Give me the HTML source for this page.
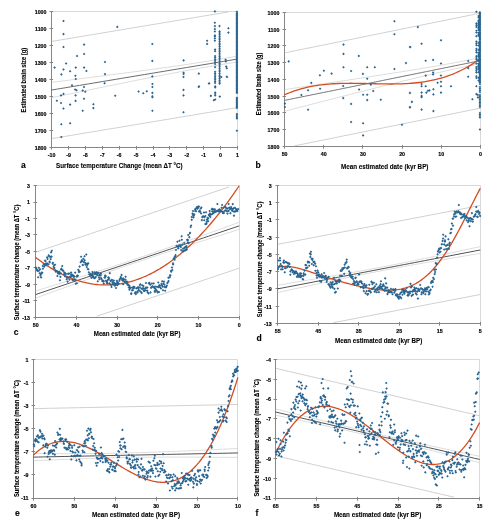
<!DOCTYPE html>
<html><head><meta charset="utf-8"><title>Figure</title>
<style>html,body{margin:0;padding:0;background:#fff;}svg{display:block;}</style></head>
<body><svg width="496" height="530" viewBox="0 0 496 530" font-family="'Liberation Sans', Arial, sans-serif" fill="#000">
<rect width="496" height="530" fill="#fff"/>
<path d="M51.5 11.5H237.5V147.5" fill="none" stroke="#d9d9d9" stroke-width="1"/>
<path d="M51.5 11.5V147.5H237.5" fill="none" stroke="#868686" stroke-width="1"/>
<text x="46.5" y="13.8" font-size="5.3" text-anchor="end" font-weight="bold" stroke="#000" stroke-width="0.15">1000</text>
<text x="46.5" y="30.76" font-size="5.3" text-anchor="end" font-weight="bold" stroke="#000" stroke-width="0.15">1100</text>
<text x="46.5" y="47.72" font-size="5.3" text-anchor="end" font-weight="bold" stroke="#000" stroke-width="0.15">1200</text>
<text x="46.5" y="64.69" font-size="5.3" text-anchor="end" font-weight="bold" stroke="#000" stroke-width="0.15">1300</text>
<text x="46.5" y="81.65" font-size="5.3" text-anchor="end" font-weight="bold" stroke="#000" stroke-width="0.15">1400</text>
<text x="46.5" y="98.61" font-size="5.3" text-anchor="end" font-weight="bold" stroke="#000" stroke-width="0.15">1500</text>
<text x="46.5" y="115.58" font-size="5.3" text-anchor="end" font-weight="bold" stroke="#000" stroke-width="0.15">1600</text>
<text x="46.5" y="132.54" font-size="5.3" text-anchor="end" font-weight="bold" stroke="#000" stroke-width="0.15">1700</text>
<text x="46.5" y="149.5" font-size="5.3" text-anchor="end" font-weight="bold" stroke="#000" stroke-width="0.15">1800</text>
<text x="51.6" y="157.2" font-size="5.3" text-anchor="middle" font-weight="bold" stroke="#000" stroke-width="0.15">-10</text>
<text x="68.5" y="157.2" font-size="5.3" text-anchor="middle" font-weight="bold" stroke="#000" stroke-width="0.15">-9</text>
<text x="85.4" y="157.2" font-size="5.3" text-anchor="middle" font-weight="bold" stroke="#000" stroke-width="0.15">-8</text>
<text x="102.3" y="157.2" font-size="5.3" text-anchor="middle" font-weight="bold" stroke="#000" stroke-width="0.15">-7</text>
<text x="119.2" y="157.2" font-size="5.3" text-anchor="middle" font-weight="bold" stroke="#000" stroke-width="0.15">-6</text>
<text x="136.1" y="157.2" font-size="5.3" text-anchor="middle" font-weight="bold" stroke="#000" stroke-width="0.15">-5</text>
<text x="153" y="157.2" font-size="5.3" text-anchor="middle" font-weight="bold" stroke="#000" stroke-width="0.15">-4</text>
<text x="169.9" y="157.2" font-size="5.3" text-anchor="middle" font-weight="bold" stroke="#000" stroke-width="0.15">-3</text>
<text x="186.8" y="157.2" font-size="5.3" text-anchor="middle" font-weight="bold" stroke="#000" stroke-width="0.15">-2</text>
<text x="203.7" y="157.2" font-size="5.3" text-anchor="middle" font-weight="bold" stroke="#000" stroke-width="0.15">-1</text>
<text x="220.6" y="157.2" font-size="5.3" text-anchor="middle" font-weight="bold" stroke="#000" stroke-width="0.15">0</text>
<text x="237.5" y="157.2" font-size="5.3" text-anchor="middle" font-weight="bold" stroke="#000" stroke-width="0.15">1</text>
<path d="M49.5 11.5H53.1M49.5 28.5H53.1M49.5 45.5H53.1M49.5 62.5H53.1M49.5 79.5H53.1M49.5 96.5H53.1M49.5 113.5H53.1M49.5 130.5H53.1M49.5 147.5H53.1M51.5 145.9V149.7M68.5 145.9V149.7M85.5 145.9V149.7M102.5 145.9V149.7M119.5 145.9V149.7M136.5 145.9V149.7M153.5 145.9V149.7M169.5 145.9V149.7M186.5 145.9V149.7M203.5 145.9V149.7M220.5 145.9V149.7M237.5 145.9V149.7" stroke="#868686" stroke-width="1"/>
<path d="M284.5 12.5H480.5V146.5" fill="none" stroke="#d9d9d9" stroke-width="1"/>
<path d="M284.5 12.5V146.5H480.5" fill="none" stroke="#868686" stroke-width="1"/>
<text x="279.4" y="14.9" font-size="5.3" text-anchor="end" font-weight="bold" stroke="#000" stroke-width="0.15">1000</text>
<text x="279.4" y="31.62" font-size="5.3" text-anchor="end" font-weight="bold" stroke="#000" stroke-width="0.15">1100</text>
<text x="279.4" y="48.35" font-size="5.3" text-anchor="end" font-weight="bold" stroke="#000" stroke-width="0.15">1200</text>
<text x="279.4" y="65.08" font-size="5.3" text-anchor="end" font-weight="bold" stroke="#000" stroke-width="0.15">1300</text>
<text x="279.4" y="81.8" font-size="5.3" text-anchor="end" font-weight="bold" stroke="#000" stroke-width="0.15">1400</text>
<text x="279.4" y="98.53" font-size="5.3" text-anchor="end" font-weight="bold" stroke="#000" stroke-width="0.15">1500</text>
<text x="279.4" y="115.25" font-size="5.3" text-anchor="end" font-weight="bold" stroke="#000" stroke-width="0.15">1600</text>
<text x="279.4" y="131.98" font-size="5.3" text-anchor="end" font-weight="bold" stroke="#000" stroke-width="0.15">1700</text>
<text x="279.4" y="148.7" font-size="5.3" text-anchor="end" font-weight="bold" stroke="#000" stroke-width="0.15">1800</text>
<text x="284.6" y="155.7" font-size="5.3" text-anchor="middle" font-weight="bold" stroke="#000" stroke-width="0.15">50</text>
<text x="323.76" y="155.7" font-size="5.3" text-anchor="middle" font-weight="bold" stroke="#000" stroke-width="0.15">40</text>
<text x="362.92" y="155.7" font-size="5.3" text-anchor="middle" font-weight="bold" stroke="#000" stroke-width="0.15">30</text>
<text x="402.08" y="155.7" font-size="5.3" text-anchor="middle" font-weight="bold" stroke="#000" stroke-width="0.15">20</text>
<text x="441.24" y="155.7" font-size="5.3" text-anchor="middle" font-weight="bold" stroke="#000" stroke-width="0.15">10</text>
<text x="480.4" y="155.7" font-size="5.3" text-anchor="middle" font-weight="bold" stroke="#000" stroke-width="0.15">0</text>
<path d="M282.5 12.5H286.1M282.5 29.5H286.1M282.5 45.5H286.1M282.5 62.5H286.1M282.5 79.5H286.1M282.5 96.5H286.1M282.5 112.5H286.1M282.5 129.5H286.1M282.5 146.5H286.1M284.5 144.9V148.7M323.5 144.9V148.7M362.5 144.9V148.7M402.5 144.9V148.7M441.5 144.9V148.7M480.5 144.9V148.7" stroke="#868686" stroke-width="1"/>
<path d="M35.5 185.5H239.5V317.5" fill="none" stroke="#d9d9d9" stroke-width="1"/>
<path d="M35.5 185.5V317.5H239.5" fill="none" stroke="#868686" stroke-width="1"/>
<text x="30" y="188" font-size="5.3" text-anchor="end" font-weight="bold" stroke="#000" stroke-width="0.15">3</text>
<text x="30" y="204.45" font-size="5.3" text-anchor="end" font-weight="bold" stroke="#000" stroke-width="0.15">1</text>
<text x="30" y="220.9" font-size="5.3" text-anchor="end" font-weight="bold" stroke="#000" stroke-width="0.15">-1</text>
<text x="30" y="237.35" font-size="5.3" text-anchor="end" font-weight="bold" stroke="#000" stroke-width="0.15">-3</text>
<text x="30" y="253.8" font-size="5.3" text-anchor="end" font-weight="bold" stroke="#000" stroke-width="0.15">-5</text>
<text x="30" y="270.25" font-size="5.3" text-anchor="end" font-weight="bold" stroke="#000" stroke-width="0.15">-7</text>
<text x="30" y="286.7" font-size="5.3" text-anchor="end" font-weight="bold" stroke="#000" stroke-width="0.15">-9</text>
<text x="30" y="303.15" font-size="5.3" text-anchor="end" font-weight="bold" stroke="#000" stroke-width="0.15">-11</text>
<text x="30" y="319.6" font-size="5.3" text-anchor="end" font-weight="bold" stroke="#000" stroke-width="0.15">-13</text>
<text x="35.7" y="327" font-size="5.3" text-anchor="middle" font-weight="bold" stroke="#000" stroke-width="0.15">50</text>
<text x="76.4" y="327" font-size="5.3" text-anchor="middle" font-weight="bold" stroke="#000" stroke-width="0.15">40</text>
<text x="117.1" y="327" font-size="5.3" text-anchor="middle" font-weight="bold" stroke="#000" stroke-width="0.15">30</text>
<text x="157.8" y="327" font-size="5.3" text-anchor="middle" font-weight="bold" stroke="#000" stroke-width="0.15">20</text>
<text x="198.5" y="327" font-size="5.3" text-anchor="middle" font-weight="bold" stroke="#000" stroke-width="0.15">10</text>
<text x="239.2" y="327" font-size="5.3" text-anchor="middle" font-weight="bold" stroke="#000" stroke-width="0.15">0</text>
<path d="M33.5 185.5H37.1M33.5 202.5H37.1M33.5 218.5H37.1M33.5 234.5H37.1M33.5 251.5H37.1M33.5 267.5H37.1M33.5 284.5H37.1M33.5 300.5H37.1M33.5 317.5H37.1M35.5 315.9V319.7M76.5 315.9V319.7M117.5 315.9V319.7M157.5 315.9V319.7M198.5 315.9V319.7M239.5 315.9V319.7" stroke="#868686" stroke-width="1"/>
<path d="M277.5 185.5H480.5V323.5" fill="none" stroke="#d9d9d9" stroke-width="1"/>
<path d="M277.5 185.5V323.5H480.5" fill="none" stroke="#868686" stroke-width="1"/>
<text x="271.6" y="187.8" font-size="5.3" text-anchor="end" font-weight="bold" stroke="#000" stroke-width="0.15">3</text>
<text x="271.6" y="205.06" font-size="5.3" text-anchor="end" font-weight="bold" stroke="#000" stroke-width="0.15">1</text>
<text x="271.6" y="222.33" font-size="5.3" text-anchor="end" font-weight="bold" stroke="#000" stroke-width="0.15">-1</text>
<text x="271.6" y="239.59" font-size="5.3" text-anchor="end" font-weight="bold" stroke="#000" stroke-width="0.15">-3</text>
<text x="271.6" y="256.85" font-size="5.3" text-anchor="end" font-weight="bold" stroke="#000" stroke-width="0.15">-5</text>
<text x="271.6" y="274.11" font-size="5.3" text-anchor="end" font-weight="bold" stroke="#000" stroke-width="0.15">-7</text>
<text x="271.6" y="291.38" font-size="5.3" text-anchor="end" font-weight="bold" stroke="#000" stroke-width="0.15">-9</text>
<text x="271.6" y="308.64" font-size="5.3" text-anchor="end" font-weight="bold" stroke="#000" stroke-width="0.15">-11</text>
<text x="271.6" y="325.9" font-size="5.3" text-anchor="end" font-weight="bold" stroke="#000" stroke-width="0.15">-13</text>
<text x="277.75" y="333.4" font-size="5.3" text-anchor="middle" font-weight="bold" stroke="#000" stroke-width="0.15">55</text>
<text x="318.25" y="333.4" font-size="5.3" text-anchor="middle" font-weight="bold" stroke="#000" stroke-width="0.15">45</text>
<text x="358.75" y="333.4" font-size="5.3" text-anchor="middle" font-weight="bold" stroke="#000" stroke-width="0.15">35</text>
<text x="399.25" y="333.4" font-size="5.3" text-anchor="middle" font-weight="bold" stroke="#000" stroke-width="0.15">25</text>
<text x="439.75" y="333.4" font-size="5.3" text-anchor="middle" font-weight="bold" stroke="#000" stroke-width="0.15">15</text>
<text x="480.25" y="333.4" font-size="5.3" text-anchor="middle" font-weight="bold" stroke="#000" stroke-width="0.15">5</text>
<path d="M275.5 185.5H279.1M275.5 202.5H279.1M275.5 219.5H279.1M275.5 237.5H279.1M275.5 254.5H279.1M275.5 271.5H279.1M275.5 288.5H279.1M275.5 306.5H279.1M275.5 323.5H279.1M277.5 321.9V325.7M318.5 321.9V325.7M358.5 321.9V325.7M399.5 321.9V325.7M439.5 321.9V325.7M480.5 321.9V325.7" stroke="#868686" stroke-width="1"/>
<path d="M33.5 359.5H237.5V498.5" fill="none" stroke="#d9d9d9" stroke-width="1"/>
<path d="M33.5 359.5V498.5H237.5" fill="none" stroke="#868686" stroke-width="1"/>
<text x="28.5" y="361.8" font-size="5.3" text-anchor="end" font-weight="bold" stroke="#000" stroke-width="0.15">1</text>
<text x="28.5" y="384.9" font-size="5.3" text-anchor="end" font-weight="bold" stroke="#000" stroke-width="0.15">-1</text>
<text x="28.5" y="408" font-size="5.3" text-anchor="end" font-weight="bold" stroke="#000" stroke-width="0.15">-3</text>
<text x="28.5" y="431.1" font-size="5.3" text-anchor="end" font-weight="bold" stroke="#000" stroke-width="0.15">-5</text>
<text x="28.5" y="454.2" font-size="5.3" text-anchor="end" font-weight="bold" stroke="#000" stroke-width="0.15">-7</text>
<text x="28.5" y="477.3" font-size="5.3" text-anchor="end" font-weight="bold" stroke="#000" stroke-width="0.15">-9</text>
<text x="28.5" y="500.4" font-size="5.3" text-anchor="end" font-weight="bold" stroke="#000" stroke-width="0.15">-11</text>
<text x="33.5" y="508.3" font-size="5.3" text-anchor="middle" font-weight="bold" stroke="#000" stroke-width="0.15">60</text>
<text x="74.38" y="508.3" font-size="5.3" text-anchor="middle" font-weight="bold" stroke="#000" stroke-width="0.15">50</text>
<text x="115.26" y="508.3" font-size="5.3" text-anchor="middle" font-weight="bold" stroke="#000" stroke-width="0.15">40</text>
<text x="156.14" y="508.3" font-size="5.3" text-anchor="middle" font-weight="bold" stroke="#000" stroke-width="0.15">30</text>
<text x="197.02" y="508.3" font-size="5.3" text-anchor="middle" font-weight="bold" stroke="#000" stroke-width="0.15">20</text>
<text x="237.9" y="508.3" font-size="5.3" text-anchor="middle" font-weight="bold" stroke="#000" stroke-width="0.15">10</text>
<path d="M31.5 359.5H35.1M31.5 382.5H35.1M31.5 405.5H35.1M31.5 428.5H35.1M31.5 451.5H35.1M31.5 474.5H35.1M31.5 498.5H35.1M33.5 496.9V500.7M74.5 496.9V500.7M115.5 496.9V500.7M156.5 496.9V500.7M197.5 496.9V500.7M237.5 496.9V500.7" stroke="#868686" stroke-width="1"/>
<path d="M275.5 359.5H479.5V498.5" fill="none" stroke="#d9d9d9" stroke-width="1"/>
<path d="M275.5 359.5V498.5H479.5" fill="none" stroke="#868686" stroke-width="1"/>
<text x="270.9" y="361.8" font-size="5.3" text-anchor="end" font-weight="bold" stroke="#000" stroke-width="0.15">-4</text>
<text x="270.9" y="381.6" font-size="5.3" text-anchor="end" font-weight="bold" stroke="#000" stroke-width="0.15">-5</text>
<text x="270.9" y="401.4" font-size="5.3" text-anchor="end" font-weight="bold" stroke="#000" stroke-width="0.15">-6</text>
<text x="270.9" y="421.2" font-size="5.3" text-anchor="end" font-weight="bold" stroke="#000" stroke-width="0.15">-7</text>
<text x="270.9" y="441" font-size="5.3" text-anchor="end" font-weight="bold" stroke="#000" stroke-width="0.15">-8</text>
<text x="270.9" y="460.8" font-size="5.3" text-anchor="end" font-weight="bold" stroke="#000" stroke-width="0.15">-9</text>
<text x="270.9" y="480.6" font-size="5.3" text-anchor="end" font-weight="bold" stroke="#000" stroke-width="0.15">-10</text>
<text x="270.9" y="500.4" font-size="5.3" text-anchor="end" font-weight="bold" stroke="#000" stroke-width="0.15">-11</text>
<text x="275.75" y="508.3" font-size="5.3" text-anchor="middle" font-weight="bold" stroke="#000" stroke-width="0.15">65</text>
<text x="316.52" y="508.3" font-size="5.3" text-anchor="middle" font-weight="bold" stroke="#000" stroke-width="0.15">55</text>
<text x="357.29" y="508.3" font-size="5.3" text-anchor="middle" font-weight="bold" stroke="#000" stroke-width="0.15">45</text>
<text x="398.06" y="508.3" font-size="5.3" text-anchor="middle" font-weight="bold" stroke="#000" stroke-width="0.15">35</text>
<text x="438.83" y="508.3" font-size="5.3" text-anchor="middle" font-weight="bold" stroke="#000" stroke-width="0.15">25</text>
<text x="479.6" y="508.3" font-size="5.3" text-anchor="middle" font-weight="bold" stroke="#000" stroke-width="0.15">15</text>
<path d="M273.5 359.5H277.1M273.5 379.5H277.1M273.5 399.5H277.1M273.5 418.5H277.1M273.5 438.5H277.1M273.5 458.5H277.1M273.5 478.5H277.1M273.5 498.5H277.1M275.5 496.9V500.7M316.5 496.9V500.7M357.5 496.9V500.7M398.5 496.9V500.7M438.5 496.9V500.7M479.5 496.9V500.7" stroke="#868686" stroke-width="1"/>
<text x="26.1" y="80.2" font-size="6.4" text-anchor="middle" font-weight="bold" transform="rotate(-90 26.1 80.2)" textLength="64.5" lengthAdjust="spacingAndGlyphs" stroke="#000" stroke-width="0.1">Estimated brain size (g)</text>
<text x="260.9" y="84" font-size="6.4" text-anchor="middle" font-weight="bold" transform="rotate(-90 260.9 84)" textLength="62.5" lengthAdjust="spacingAndGlyphs" stroke="#000" stroke-width="0.1">Estimated brain size (g)</text>
<text x="18.9" y="262.4" font-size="6.4" text-anchor="middle" font-weight="bold" transform="rotate(-90 18.9 262.4)" textLength="115.5" lengthAdjust="spacingAndGlyphs" stroke="#000" stroke-width="0.1">Surface temperature change (mean ΔT °C)</text>
<text x="261.8" y="259.4" font-size="6.4" text-anchor="middle" font-weight="bold" transform="rotate(-90 261.8 259.4)" textLength="115.5" lengthAdjust="spacingAndGlyphs" stroke="#000" stroke-width="0.1">Surface temperature change (mean ΔT °C)</text>
<text x="19.5" y="438.6" font-size="6.4" text-anchor="middle" font-weight="bold" transform="rotate(-90 19.5 438.6)" textLength="117.0" lengthAdjust="spacingAndGlyphs" stroke="#000" stroke-width="0.1">Surface temperature change (mean ΔT °C)</text>
<text x="259.2" y="437.7" font-size="6.4" text-anchor="middle" font-weight="bold" transform="rotate(-90 259.2 437.7)" textLength="117.5" lengthAdjust="spacingAndGlyphs" stroke="#000" stroke-width="0.1">Surface temperature change (mean ΔT °C)</text>
<text x="56" y="168.18" font-size="6.9" text-anchor="start" font-weight="bold" textLength="126.7" lengthAdjust="spacingAndGlyphs" stroke="#000" stroke-width="0.1">Surface temperature Change (mean ΔT °C)</text>
<text x="341.1" y="168.68" font-size="6.9" text-anchor="start" font-weight="bold" textLength="87.3" lengthAdjust="spacingAndGlyphs" stroke="#000" stroke-width="0.1">Mean estimated date (kyr BP)</text>
<text x="93.7" y="335.98" font-size="6.9" text-anchor="start" font-weight="bold" textLength="86.9" lengthAdjust="spacingAndGlyphs" stroke="#000" stroke-width="0.1">Mean estimated date (kyr BP)</text>
<text x="335.1" y="342.68" font-size="6.9" text-anchor="start" font-weight="bold" textLength="87.2" lengthAdjust="spacingAndGlyphs" stroke="#000" stroke-width="0.1">Mean estimated date (kyr BP)</text>
<text x="91.9" y="516.68" font-size="6.9" text-anchor="start" font-weight="bold" textLength="88.1" lengthAdjust="spacingAndGlyphs" stroke="#000" stroke-width="0.1">Mean estimated date (kyr BP)</text>
<text x="333.9" y="516.68" font-size="6.9" text-anchor="start" font-weight="bold" textLength="87.5" lengthAdjust="spacingAndGlyphs" stroke="#000" stroke-width="0.1">Mean estimated date (kyr BP)</text>
<text x="21" y="167.75" font-size="8.6" text-anchor="start" font-weight="bold" stroke="#000" stroke-width="0.1">a</text>
<text x="255.6" y="167.75" font-size="8.6" text-anchor="start" font-weight="bold" stroke="#000" stroke-width="0.1">b</text>
<text x="13.8" y="335" font-size="8.6" text-anchor="start" font-weight="bold" stroke="#000" stroke-width="0.1">c</text>
<text x="256.6" y="341" font-size="8.6" text-anchor="start" font-weight="bold" stroke="#000" stroke-width="0.1">d</text>
<text x="15" y="516" font-size="8.6" text-anchor="start" font-weight="bold" stroke="#000" stroke-width="0.1">e</text>
<text x="255.4" y="515.6" font-size="8.6" text-anchor="start" font-weight="bold" stroke="#000" stroke-width="0.1">f</text>
<path d="M51.6 41.43 L56.25 40.66 L60.9 39.88 L65.54 39.11 L70.19 38.33 L74.84 37.56 L79.48 36.78 L84.13 36.01 L88.78 35.24 L93.43 34.46 L98.08 33.69 L102.72 32.91 L107.37 32.14 L112.02 31.36 L116.66 30.59 L121.31 29.81 L125.96 29.04 L130.61 28.26 L135.25 27.49 L139.9 26.71 L144.55 25.94 L149.2 25.16 L153.84 24.39 L158.49 23.61 L163.14 22.84 L167.79 22.06 L172.44 21.29 L177.08 20.52 L181.73 19.74 L186.38 18.97 L191.03 18.19 L195.67 17.42 L200.32 16.64 L204.97 15.87 L209.62 15.09 L214.26 14.32 L218.91 13.54 L223.56 12.77 L228.2 11.99" fill="none" stroke="#c0c0c0" stroke-width="0.75"/>
<path d="M51.6 138.63 L56.25 137.86 L60.9 137.08 L65.54 136.31 L70.19 135.53 L74.84 134.76 L79.48 133.98 L84.13 133.21 L88.78 132.44 L93.43 131.66 L98.08 130.89 L102.72 130.11 L107.37 129.34 L112.02 128.56 L116.66 127.79 L121.31 127.01 L125.96 126.24 L130.61 125.46 L135.25 124.69 L139.9 123.91 L144.55 123.14 L149.2 122.36 L153.84 121.59 L158.49 120.81 L163.14 120.04 L167.79 119.26 L172.44 118.49 L177.08 117.72 L181.73 116.94 L186.38 116.17 L191.03 115.39 L195.67 114.62 L200.32 113.84 L204.97 113.07 L209.62 112.29 L214.26 111.52 L218.91 110.74 L223.56 109.97 L228.2 109.19 L232.85 108.42 L237.5 107.64" fill="none" stroke="#c0c0c0" stroke-width="0.75"/>
<path d="M51.6 82.39 L56.25 81.81 L60.9 81.22 L65.54 80.63 L70.19 80.04 L74.84 79.45 L79.48 78.86 L84.13 78.27 L88.78 77.67 L93.43 77.08 L98.08 76.48 L102.72 75.88 L107.37 75.28 L112.02 74.68 L116.66 74.07 L121.31 73.47 L125.96 72.86 L130.61 72.25 L135.25 71.63 L139.9 71.01 L144.55 70.39 L149.2 69.76 L153.84 69.13 L158.49 68.49 L163.14 67.84 L167.79 67.19 L172.44 66.53 L177.08 65.87 L181.73 65.19 L186.38 64.5 L191.03 63.8 L195.67 63.09 L200.32 62.37 L204.97 61.63 L209.62 60.88 L214.26 60.12 L218.91 59.34 L223.56 58.54 L228.2 57.73 L232.85 56.91 L237.5 56.08" fill="none" stroke="#cfcfcf" stroke-width="0.7"/>
<path d="M51.6 97.67 L56.25 96.71 L60.9 95.75 L65.54 94.79 L70.19 93.83 L74.84 92.87 L79.48 91.91 L84.13 90.95 L88.78 90 L93.43 89.04 L98.08 88.09 L102.72 87.14 L107.37 86.19 L112.02 85.24 L116.66 84.3 L121.31 83.36 L125.96 82.42 L130.61 81.48 L135.25 80.55 L139.9 79.62 L144.55 78.69 L149.2 77.77 L153.84 76.85 L158.49 75.94 L163.14 75.04 L167.79 74.14 L172.44 73.25 L177.08 72.37 L181.73 71.49 L186.38 70.63 L191.03 69.78 L195.67 68.94 L200.32 68.11 L204.97 67.3 L209.62 66.5 L214.26 65.72 L218.91 64.95 L223.56 64.19 L228.2 63.45 L232.85 62.72 L237.5 62.01" fill="none" stroke="#cfcfcf" stroke-width="0.7"/>
<path d="M51.6 90.03 L56.25 89.26 L60.9 88.48 L65.54 87.71 L70.19 86.93 L74.84 86.16 L79.48 85.38 L84.13 84.61 L88.78 83.84 L93.43 83.06 L98.08 82.29 L102.72 81.51 L107.37 80.74 L112.02 79.96 L116.66 79.19 L121.31 78.41 L125.96 77.64 L130.61 76.86 L135.25 76.09 L139.9 75.31 L144.55 74.54 L149.2 73.76 L153.84 72.99 L158.49 72.21 L163.14 71.44 L167.79 70.66 L172.44 69.89 L177.08 69.12 L181.73 68.34 L186.38 67.57 L191.03 66.79 L195.67 66.02 L200.32 65.24 L204.97 64.47 L209.62 63.69 L214.26 62.92 L218.91 62.14 L223.56 61.37 L228.2 60.59 L232.85 59.82 L237.5 59.04" fill="none" stroke="#505050" stroke-width="0.85"/>
<path d="M284.6 52.88 L289.5 51.88 L294.39 50.89 L299.29 49.9 L304.18 48.9 L309.08 47.91 L313.97 46.92 L318.87 45.92 L323.76 44.93 L328.66 43.94 L333.55 42.94 L338.44 41.95 L343.34 40.95 L348.24 39.96 L353.13 38.97 L358.02 37.97 L362.92 36.98 L367.81 35.99 L372.71 34.99 L377.61 34 L382.5 33 L387.39 32.01 L392.29 31.02 L397.19 30.02 L402.08 29.03 L406.98 28.04 L411.87 27.04 L416.76 26.05 L421.66 25.06 L426.56 24.06 L431.45 23.07 L436.34 22.07 L441.24 21.08 L446.13 20.09 L451.03 19.09 L455.92 18.1 L460.82 17.11 L465.71 16.11 L470.61 15.12 L475.5 14.12 L480.4 13.13" fill="none" stroke="#c0c0c0" stroke-width="0.75"/>
<path d="M294.39 145.89 L299.29 144.9 L304.18 143.9 L309.08 142.91 L313.97 141.92 L318.87 140.92 L323.76 139.93 L328.66 138.94 L333.55 137.94 L338.44 136.95 L343.34 135.95 L348.24 134.96 L353.13 133.97 L358.02 132.97 L362.92 131.98 L367.81 130.99 L372.71 129.99 L377.61 129 L382.5 128 L387.39 127.01 L392.29 126.02 L397.19 125.02 L402.08 124.03 L406.98 123.04 L411.87 122.04 L416.76 121.05 L421.66 120.06 L426.56 119.06 L431.45 118.07 L436.34 117.07 L441.24 116.08 L446.13 115.09 L451.03 114.09 L455.92 113.1 L460.82 112.11 L465.71 111.11 L470.61 110.12 L475.5 109.12 L480.4 108.13" fill="none" stroke="#c0c0c0" stroke-width="0.75"/>
<path d="M284.6 89.57 L289.5 88.84 L294.39 88.11 L299.29 87.38 L304.18 86.64 L309.08 85.91 L313.97 85.18 L318.87 84.44 L323.76 83.71 L328.66 82.97 L333.55 82.23 L338.44 81.49 L343.34 80.75 L348.24 80.01 L353.13 79.27 L358.02 78.52 L362.92 77.77 L367.81 77.02 L372.71 76.27 L377.61 75.52 L382.5 74.76 L387.39 74 L392.29 73.23 L397.19 72.46 L402.08 71.69 L406.98 70.9 L411.87 70.12 L416.76 69.32 L421.66 68.51 L426.56 67.7 L431.45 66.87 L436.34 66.03 L441.24 65.18 L446.13 64.3 L451.03 63.41 L455.92 62.5 L460.82 61.56 L465.71 60.6 L470.61 59.62 L475.5 58.61 L480.4 57.57" fill="none" stroke="#cfcfcf" stroke-width="0.7"/>
<path d="M284.6 111.19 L289.5 109.93 L294.39 108.67 L299.29 107.42 L304.18 106.16 L309.08 104.91 L313.97 103.65 L318.87 102.4 L323.76 101.15 L328.66 99.9 L333.55 98.65 L338.44 97.4 L343.34 96.16 L348.24 94.91 L353.13 93.67 L358.02 92.42 L362.92 91.18 L367.81 89.95 L372.71 88.71 L377.61 87.48 L382.5 86.25 L387.39 85.02 L392.29 83.8 L397.19 82.59 L402.08 81.37 L406.98 80.17 L411.87 78.97 L416.76 77.78 L421.66 76.6 L426.56 75.42 L431.45 74.26 L436.34 73.12 L441.24 71.99 L446.13 70.87 L451.03 69.78 L455.92 68.7 L460.82 67.65 L465.71 66.62 L470.61 65.62 L475.5 64.64 L480.4 63.69" fill="none" stroke="#cfcfcf" stroke-width="0.7"/>
<path d="M284.6 100.38 L289.5 99.38 L294.39 98.39 L299.29 97.4 L304.18 96.4 L309.08 95.41 L313.97 94.42 L318.87 93.42 L323.76 92.43 L328.66 91.44 L333.55 90.44 L338.44 89.45 L343.34 88.45 L348.24 87.46 L353.13 86.47 L358.02 85.47 L362.92 84.48 L367.81 83.49 L372.71 82.49 L377.61 81.5 L382.5 80.5 L387.39 79.51 L392.29 78.52 L397.19 77.52 L402.08 76.53 L406.98 75.54 L411.87 74.54 L416.76 73.55 L421.66 72.56 L426.56 71.56 L431.45 70.57 L436.34 69.57 L441.24 68.58 L446.13 67.59 L451.03 66.59 L455.92 65.6 L460.82 64.61 L465.71 63.61 L470.61 62.62 L475.5 61.62 L480.4 60.63" fill="none" stroke="#606060" stroke-width="0.85"/>
<path d="M284.6 94.76 L287.05 93.71 L289.5 92.73 L291.94 91.81 L294.39 90.94 L296.84 90.14 L299.29 89.39 L301.73 88.7 L304.18 88.05 L306.63 87.46 L309.08 86.92 L311.52 86.42 L313.97 85.96 L316.42 85.55 L318.87 85.18 L321.31 84.85 L323.76 84.56 L326.21 84.31 L328.66 84.08 L331.1 83.89 L333.55 83.73 L336 83.59 L338.44 83.49 L340.89 83.4 L343.34 83.34 L345.79 83.3 L348.24 83.28 L350.68 83.27 L353.13 83.29 L355.58 83.31 L358.02 83.34 L360.47 83.39 L362.92 83.44 L365.37 83.5 L367.81 83.56 L370.26 83.62 L372.71 83.69 L375.16 83.75 L377.61 83.81 L380.05 83.86 L382.5 83.91 L384.95 83.95 L387.39 83.97 L389.84 83.99 L392.29 83.98 L394.74 83.97 L397.19 83.93 L399.63 83.87 L402.08 83.8 L404.53 83.69 L406.98 83.57 L409.42 83.41 L411.87 83.23 L414.32 83.01 L416.76 82.76 L419.21 82.48 L421.66 82.16 L424.11 81.8 L426.56 81.39 L429 80.95 L431.45 80.46 L433.9 79.93 L436.34 79.35 L438.79 78.72 L441.24 78.03 L443.69 77.3 L446.13 76.51 L448.58 75.66 L451.03 74.75 L453.48 73.78 L455.92 72.75 L458.37 71.65 L460.82 70.49 L463.27 69.25 L465.71 67.95 L468.16 66.58 L470.61 65.13 L473.06 63.6 L475.5 62 L477.95 60.32 L480.4 58.56" fill="none" stroke="#d44c22" stroke-width="1.3"/>
<path d="M63.5 19.7l1.3 1.3l-1.3 1.3l-1.3 -1.3zM63.5 32.8l1.3 1.3l-1.3 1.3l-1.3 -1.3zM63.5 45.7l1.3 1.3l-1.3 1.3l-1.3 -1.3zM84.1 43.3l1.3 1.3l-1.3 1.3l-1.3 -1.3zM84.1 52.7l1.3 1.3l-1.3 1.3l-1.3 -1.3zM77 54.7l1.3 1.3l-1.3 1.3l-1.3 -1.3zM66.1 62.2l1.3 1.3l-1.3 1.3l-1.3 -1.3zM54.6 66.3l1.3 1.3l-1.3 1.3l-1.3 -1.3zM63.5 68.2l1.3 1.3l-1.3 1.3l-1.3 -1.3zM70.1 69.9l1.3 1.3l-1.3 1.3l-1.3 -1.3zM75.8 66.3l1.3 1.3l-1.3 1.3l-1.3 -1.3zM84.1 66.3l1.3 1.3l-1.3 1.3l-1.3 -1.3zM86.4 69.7l1.3 1.3l-1.3 1.3l-1.3 -1.3zM61.4 73.1l1.3 1.3l-1.3 1.3l-1.3 -1.3zM75.4 74.5l1.3 1.3l-1.3 1.3l-1.3 -1.3zM75.8 77.7l1.3 1.3l-1.3 1.3l-1.3 -1.3zM105 60.7l1.3 1.3l-1.3 1.3l-1.3 -1.3zM105 72.8l1.3 1.3l-1.3 1.3l-1.3 -1.3zM72 83.9l1.3 1.3l-1.3 1.3l-1.3 -1.3zM75.1 88.2l1.3 1.3l-1.3 1.3l-1.3 -1.3zM76.6 88.9l1.3 1.3l-1.3 1.3l-1.3 -1.3zM84 85.7l1.3 1.3l-1.3 1.3l-1.3 -1.3zM82.7 89.3l1.3 1.3l-1.3 1.3l-1.3 -1.3zM85.3 90.5l1.3 1.3l-1.3 1.3l-1.3 -1.3zM104.6 82l1.3 1.3l-1.3 1.3l-1.3 -1.3zM63.5 92.6l1.3 1.3l-1.3 1.3l-1.3 -1.3zM61 94.1l1.3 1.3l-1.3 1.3l-1.3 -1.3zM75.6 94.1l1.3 1.3l-1.3 1.3l-1.3 -1.3zM56.9 99.5l1.3 1.3l-1.3 1.3l-1.3 -1.3zM61 101.7l1.3 1.3l-1.3 1.3l-1.3 -1.3zM75.6 99.6l1.3 1.3l-1.3 1.3l-1.3 -1.3zM84 97.5l1.3 1.3l-1.3 1.3l-1.3 -1.3zM70.1 103.3l1.3 1.3l-1.3 1.3l-1.3 -1.3zM63.5 107.2l1.3 1.3l-1.3 1.3l-1.3 -1.3zM93.4 102.9l1.3 1.3l-1.3 1.3l-1.3 -1.3zM93.4 106.8l1.3 1.3l-1.3 1.3l-1.3 -1.3zM82.7 109.5l1.3 1.3l-1.3 1.3l-1.3 -1.3zM61.3 122.9l1.3 1.3l-1.3 1.3l-1.3 -1.3zM70.1 121.9l1.3 1.3l-1.3 1.3l-1.3 -1.3zM61.3 135.7l1.3 1.3l-1.3 1.3l-1.3 -1.3zM117.3 25.6l1.3 1.3l-1.3 1.3l-1.3 -1.3zM152.3 42.7l1.3 1.3l-1.3 1.3l-1.3 -1.3zM152.3 59.6l1.3 1.3l-1.3 1.3l-1.3 -1.3zM152.3 75.1l1.3 1.3l-1.3 1.3l-1.3 -1.3zM152.4 82.7l1.3 1.3l-1.3 1.3l-1.3 -1.3zM152.4 85.7l1.3 1.3l-1.3 1.3l-1.3 -1.3zM138.6 90.2l1.3 1.3l-1.3 1.3l-1.3 -1.3zM143.3 91.9l1.3 1.3l-1.3 1.3l-1.3 -1.3zM146.8 90l1.3 1.3l-1.3 1.3l-1.3 -1.3zM152.4 91.6l1.3 1.3l-1.3 1.3l-1.3 -1.3zM152.4 95l1.3 1.3l-1.3 1.3l-1.3 -1.3zM152.4 96l1.3 1.3l-1.3 1.3l-1.3 -1.3zM115.2 94.4l1.3 1.3l-1.3 1.3l-1.3 -1.3zM152.4 109.5l1.3 1.3l-1.3 1.3l-1.3 -1.3zM183.6 59.1l1.3 1.3l-1.3 1.3l-1.3 -1.3zM183.6 71.4l1.3 1.3l-1.3 1.3l-1.3 -1.3zM183.6 72.7l1.3 1.3l-1.3 1.3l-1.3 -1.3zM198.8 72.3l1.3 1.3l-1.3 1.3l-1.3 -1.3zM207.1 39.4l1.3 1.3l-1.3 1.3l-1.3 -1.3zM207.1 42.6l1.3 1.3l-1.3 1.3l-1.3 -1.3zM183.5 75.7l1.3 1.3l-1.3 1.3l-1.3 -1.3zM183.5 88.6l1.3 1.3l-1.3 1.3l-1.3 -1.3zM183.5 94.1l1.3 1.3l-1.3 1.3l-1.3 -1.3zM183.5 110.9l1.3 1.3l-1.3 1.3l-1.3 -1.3zM198.7 85.7l1.3 1.3l-1.3 1.3l-1.3 -1.3zM208.9 82.2l1.3 1.3l-1.3 1.3l-1.3 -1.3zM210.8 94.6l1.3 1.3l-1.3 1.3l-1.3 -1.3zM213.8 98.9l1.3 1.3l-1.3 1.3l-1.3 -1.3zM199 85.1l1.3 1.3l-1.3 1.3l-1.3 -1.3zM209.2 82.1l1.3 1.3l-1.3 1.3l-1.3 -1.3zM210.9 94.4l1.3 1.3l-1.3 1.3l-1.3 -1.3zM228.4 26.9l1.3 1.3l-1.3 1.3l-1.3 -1.3zM228.4 31.3l1.3 1.3l-1.3 1.3l-1.3 -1.3zM225.6 58.5l1.3 1.3l-1.3 1.3l-1.3 -1.3zM225.9 60.2l1.3 1.3l-1.3 1.3l-1.3 -1.3zM226.2 65.3l1.3 1.3l-1.3 1.3l-1.3 -1.3zM226.8 67l1.3 1.3l-1.3 1.3l-1.3 -1.3zM226.7 75.5l1.3 1.3l-1.3 1.3l-1.3 -1.3zM227.1 75.7l1.3 1.3l-1.3 1.3l-1.3 -1.3zM221.3 75.7l1.3 1.3l-1.3 1.3l-1.3 -1.3zM214.9 10.1l1.3 1.3l-1.3 1.3l-1.3 -1.3zM214.9 21.4l1.3 1.3l-1.3 1.3l-1.3 -1.3zM214.9 24.8l1.3 1.3l-1.3 1.3l-1.3 -1.3zM214.9 27.8l1.3 1.3l-1.3 1.3l-1.3 -1.3zM214.9 30.2l1.3 1.3l-1.3 1.3l-1.3 -1.3zM214.9 34.1l1.3 1.3l-1.3 1.3l-1.3 -1.3zM214.9 35.3l1.3 1.3l-1.3 1.3l-1.3 -1.3zM214.9 37.2l1.3 1.3l-1.3 1.3l-1.3 -1.3zM214.9 39.4l1.3 1.3l-1.3 1.3l-1.3 -1.3zM215.1 48.3l1.3 1.3l-1.3 1.3l-1.3 -1.3zM215.1 49.89l1.3 1.3l-1.3 1.3l-1.3 -1.3zM215.1 54.66l1.3 1.3l-1.3 1.3l-1.3 -1.3zM215.1 56.25l1.3 1.3l-1.3 1.3l-1.3 -1.3zM215.1 57.84l1.3 1.3l-1.3 1.3l-1.3 -1.3zM215.1 59.43l1.3 1.3l-1.3 1.3l-1.3 -1.3zM215.1 61.02l1.3 1.3l-1.3 1.3l-1.3 -1.3zM215.1 62.61l1.3 1.3l-1.3 1.3l-1.3 -1.3zM215.1 65.8l1.3 1.3l-1.3 1.3l-1.3 -1.3zM215.1 70.57l1.3 1.3l-1.3 1.3l-1.3 -1.3zM215.1 72.16l1.3 1.3l-1.3 1.3l-1.3 -1.3zM215.1 73.75l1.3 1.3l-1.3 1.3l-1.3 -1.3zM215.1 75.34l1.3 1.3l-1.3 1.3l-1.3 -1.3zM215.1 76.93l1.3 1.3l-1.3 1.3l-1.3 -1.3zM215.1 78.52l1.3 1.3l-1.3 1.3l-1.3 -1.3zM215.1 80.11l1.3 1.3l-1.3 1.3l-1.3 -1.3zM215.1 81.7l1.3 1.3l-1.3 1.3l-1.3 -1.3zM215.2 85.1l1.3 1.3l-1.3 1.3l-1.3 -1.3zM215.2 86.2l1.3 1.3l-1.3 1.3l-1.3 -1.3zM215.2 91.2l1.3 1.3l-1.3 1.3l-1.3 -1.3zM215.2 92.7l1.3 1.3l-1.3 1.3l-1.3 -1.3zM215.2 94.2l1.3 1.3l-1.3 1.3l-1.3 -1.3zM215.2 98.2l1.3 1.3l-1.3 1.3l-1.3 -1.3zM219.5 24.8l1.3 1.3l-1.3 1.3l-1.3 -1.3zM219.6 30.1l1.3 1.3l-1.3 1.3l-1.3 -1.3zM219.6 31.78l1.3 1.3l-1.3 1.3l-1.3 -1.3zM219.6 33.47l1.3 1.3l-1.3 1.3l-1.3 -1.3zM219.6 35.15l1.3 1.3l-1.3 1.3l-1.3 -1.3zM219.6 36.84l1.3 1.3l-1.3 1.3l-1.3 -1.3zM219.6 38.52l1.3 1.3l-1.3 1.3l-1.3 -1.3zM219.6 40.2l1.3 1.3l-1.3 1.3l-1.3 -1.3zM219.6 41.89l1.3 1.3l-1.3 1.3l-1.3 -1.3zM219.6 43.57l1.3 1.3l-1.3 1.3l-1.3 -1.3zM219.6 45.25l1.3 1.3l-1.3 1.3l-1.3 -1.3zM219.6 46.94l1.3 1.3l-1.3 1.3l-1.3 -1.3zM219.6 48.62l1.3 1.3l-1.3 1.3l-1.3 -1.3zM219.6 50.31l1.3 1.3l-1.3 1.3l-1.3 -1.3zM219.6 51.99l1.3 1.3l-1.3 1.3l-1.3 -1.3zM219.6 53.67l1.3 1.3l-1.3 1.3l-1.3 -1.3zM219.6 55.36l1.3 1.3l-1.3 1.3l-1.3 -1.3zM219.6 57.04l1.3 1.3l-1.3 1.3l-1.3 -1.3zM219.6 58.73l1.3 1.3l-1.3 1.3l-1.3 -1.3zM219.6 60.41l1.3 1.3l-1.3 1.3l-1.3 -1.3zM219.6 62.09l1.3 1.3l-1.3 1.3l-1.3 -1.3zM219.6 63.78l1.3 1.3l-1.3 1.3l-1.3 -1.3zM219.6 65.46l1.3 1.3l-1.3 1.3l-1.3 -1.3zM219.6 67.15l1.3 1.3l-1.3 1.3l-1.3 -1.3zM219.6 68.83l1.3 1.3l-1.3 1.3l-1.3 -1.3zM219.6 70.51l1.3 1.3l-1.3 1.3l-1.3 -1.3zM219.6 72.2l1.3 1.3l-1.3 1.3l-1.3 -1.3zM219.6 73.88l1.3 1.3l-1.3 1.3l-1.3 -1.3zM219.6 75.56l1.3 1.3l-1.3 1.3l-1.3 -1.3zM219.6 77.25l1.3 1.3l-1.3 1.3l-1.3 -1.3zM219.6 78.93l1.3 1.3l-1.3 1.3l-1.3 -1.3zM219.6 80.62l1.3 1.3l-1.3 1.3l-1.3 -1.3zM219.6 82.3l1.3 1.3l-1.3 1.3l-1.3 -1.3zM219.8 95.3l1.3 1.3l-1.3 1.3l-1.3 -1.3zM236.9 10.5l1.3 1.3l-1.3 1.3l-1.3 -1.3zM236.9 11.3l1.3 1.3l-1.3 1.3l-1.3 -1.3zM236.9 12.09l1.3 1.3l-1.3 1.3l-1.3 -1.3zM236.9 12.89l1.3 1.3l-1.3 1.3l-1.3 -1.3zM236.9 13.68l1.3 1.3l-1.3 1.3l-1.3 -1.3zM236.9 14.48l1.3 1.3l-1.3 1.3l-1.3 -1.3zM236.9 15.28l1.3 1.3l-1.3 1.3l-1.3 -1.3zM236.9 16.07l1.3 1.3l-1.3 1.3l-1.3 -1.3zM236.9 16.87l1.3 1.3l-1.3 1.3l-1.3 -1.3zM236.9 17.66l1.3 1.3l-1.3 1.3l-1.3 -1.3zM236.9 18.46l1.3 1.3l-1.3 1.3l-1.3 -1.3zM236.9 19.26l1.3 1.3l-1.3 1.3l-1.3 -1.3zM236.9 20.05l1.3 1.3l-1.3 1.3l-1.3 -1.3zM236.9 20.85l1.3 1.3l-1.3 1.3l-1.3 -1.3zM236.9 21.65l1.3 1.3l-1.3 1.3l-1.3 -1.3zM236.9 22.44l1.3 1.3l-1.3 1.3l-1.3 -1.3zM236.9 23.24l1.3 1.3l-1.3 1.3l-1.3 -1.3zM236.9 24.03l1.3 1.3l-1.3 1.3l-1.3 -1.3zM236.9 24.83l1.3 1.3l-1.3 1.3l-1.3 -1.3zM236.9 25.63l1.3 1.3l-1.3 1.3l-1.3 -1.3zM236.9 26.42l1.3 1.3l-1.3 1.3l-1.3 -1.3zM236.9 27.22l1.3 1.3l-1.3 1.3l-1.3 -1.3zM236.9 28.01l1.3 1.3l-1.3 1.3l-1.3 -1.3zM236.9 28.81l1.3 1.3l-1.3 1.3l-1.3 -1.3zM236.9 29.61l1.3 1.3l-1.3 1.3l-1.3 -1.3zM236.9 30.4l1.3 1.3l-1.3 1.3l-1.3 -1.3zM236.9 31.2l1.3 1.3l-1.3 1.3l-1.3 -1.3zM236.9 31.99l1.3 1.3l-1.3 1.3l-1.3 -1.3zM236.9 32.79l1.3 1.3l-1.3 1.3l-1.3 -1.3zM236.9 33.59l1.3 1.3l-1.3 1.3l-1.3 -1.3zM236.9 34.38l1.3 1.3l-1.3 1.3l-1.3 -1.3zM236.9 35.18l1.3 1.3l-1.3 1.3l-1.3 -1.3zM236.9 35.97l1.3 1.3l-1.3 1.3l-1.3 -1.3zM236.9 36.77l1.3 1.3l-1.3 1.3l-1.3 -1.3zM236.9 37.57l1.3 1.3l-1.3 1.3l-1.3 -1.3zM236.9 38.36l1.3 1.3l-1.3 1.3l-1.3 -1.3zM236.9 39.16l1.3 1.3l-1.3 1.3l-1.3 -1.3zM236.9 39.95l1.3 1.3l-1.3 1.3l-1.3 -1.3zM236.9 40.75l1.3 1.3l-1.3 1.3l-1.3 -1.3zM236.9 41.55l1.3 1.3l-1.3 1.3l-1.3 -1.3zM236.9 42.34l1.3 1.3l-1.3 1.3l-1.3 -1.3zM236.9 43.14l1.3 1.3l-1.3 1.3l-1.3 -1.3zM236.9 43.94l1.3 1.3l-1.3 1.3l-1.3 -1.3zM236.9 44.73l1.3 1.3l-1.3 1.3l-1.3 -1.3zM236.9 45.53l1.3 1.3l-1.3 1.3l-1.3 -1.3zM236.9 46.32l1.3 1.3l-1.3 1.3l-1.3 -1.3zM236.9 47.12l1.3 1.3l-1.3 1.3l-1.3 -1.3zM236.9 47.92l1.3 1.3l-1.3 1.3l-1.3 -1.3zM236.9 48.71l1.3 1.3l-1.3 1.3l-1.3 -1.3zM236.9 49.51l1.3 1.3l-1.3 1.3l-1.3 -1.3zM236.9 50.3l1.3 1.3l-1.3 1.3l-1.3 -1.3zM236.9 51.1l1.3 1.3l-1.3 1.3l-1.3 -1.3zM236.9 51.9l1.3 1.3l-1.3 1.3l-1.3 -1.3zM236.9 52.69l1.3 1.3l-1.3 1.3l-1.3 -1.3zM236.9 53.49l1.3 1.3l-1.3 1.3l-1.3 -1.3zM236.9 54.28l1.3 1.3l-1.3 1.3l-1.3 -1.3zM236.9 55.08l1.3 1.3l-1.3 1.3l-1.3 -1.3zM236.9 55.88l1.3 1.3l-1.3 1.3l-1.3 -1.3zM236.9 56.67l1.3 1.3l-1.3 1.3l-1.3 -1.3zM236.9 57.47l1.3 1.3l-1.3 1.3l-1.3 -1.3zM236.9 58.26l1.3 1.3l-1.3 1.3l-1.3 -1.3zM236.9 59.06l1.3 1.3l-1.3 1.3l-1.3 -1.3zM236.9 59.86l1.3 1.3l-1.3 1.3l-1.3 -1.3zM236.9 60.65l1.3 1.3l-1.3 1.3l-1.3 -1.3zM236.9 61.45l1.3 1.3l-1.3 1.3l-1.3 -1.3zM236.9 62.25l1.3 1.3l-1.3 1.3l-1.3 -1.3zM236.9 63.04l1.3 1.3l-1.3 1.3l-1.3 -1.3zM236.9 63.84l1.3 1.3l-1.3 1.3l-1.3 -1.3zM236.9 64.63l1.3 1.3l-1.3 1.3l-1.3 -1.3zM236.9 65.43l1.3 1.3l-1.3 1.3l-1.3 -1.3zM236.9 66.23l1.3 1.3l-1.3 1.3l-1.3 -1.3zM236.9 67.02l1.3 1.3l-1.3 1.3l-1.3 -1.3zM236.9 67.82l1.3 1.3l-1.3 1.3l-1.3 -1.3zM236.9 68.61l1.3 1.3l-1.3 1.3l-1.3 -1.3zM236.9 69.41l1.3 1.3l-1.3 1.3l-1.3 -1.3zM236.9 70.21l1.3 1.3l-1.3 1.3l-1.3 -1.3zM236.9 71l1.3 1.3l-1.3 1.3l-1.3 -1.3zM236.9 71.8l1.3 1.3l-1.3 1.3l-1.3 -1.3zM236.9 72.59l1.3 1.3l-1.3 1.3l-1.3 -1.3zM236.9 73.39l1.3 1.3l-1.3 1.3l-1.3 -1.3zM236.9 74.19l1.3 1.3l-1.3 1.3l-1.3 -1.3zM236.9 74.98l1.3 1.3l-1.3 1.3l-1.3 -1.3zM236.9 75.78l1.3 1.3l-1.3 1.3l-1.3 -1.3zM236.9 76.57l1.3 1.3l-1.3 1.3l-1.3 -1.3zM236.9 77.37l1.3 1.3l-1.3 1.3l-1.3 -1.3zM236.9 78.17l1.3 1.3l-1.3 1.3l-1.3 -1.3zM236.9 78.96l1.3 1.3l-1.3 1.3l-1.3 -1.3zM236.9 79.76l1.3 1.3l-1.3 1.3l-1.3 -1.3zM236.9 80.55l1.3 1.3l-1.3 1.3l-1.3 -1.3zM236.9 81.35l1.3 1.3l-1.3 1.3l-1.3 -1.3zM236.9 82.15l1.3 1.3l-1.3 1.3l-1.3 -1.3zM236.9 82.94l1.3 1.3l-1.3 1.3l-1.3 -1.3zM236.9 83.74l1.3 1.3l-1.3 1.3l-1.3 -1.3zM236.9 84.54l1.3 1.3l-1.3 1.3l-1.3 -1.3zM236.9 85.33l1.3 1.3l-1.3 1.3l-1.3 -1.3zM236.9 86.13l1.3 1.3l-1.3 1.3l-1.3 -1.3zM236.9 86.92l1.3 1.3l-1.3 1.3l-1.3 -1.3zM236.9 87.72l1.3 1.3l-1.3 1.3l-1.3 -1.3zM236.9 88.52l1.3 1.3l-1.3 1.3l-1.3 -1.3zM236.9 89.31l1.3 1.3l-1.3 1.3l-1.3 -1.3zM236.9 90.11l1.3 1.3l-1.3 1.3l-1.3 -1.3zM236.9 90.9l1.3 1.3l-1.3 1.3l-1.3 -1.3zM236.9 91.7l1.3 1.3l-1.3 1.3l-1.3 -1.3zM236.9 96.4l1.3 1.3l-1.3 1.3l-1.3 -1.3zM236.9 97.34l1.3 1.3l-1.3 1.3l-1.3 -1.3zM236.9 98.27l1.3 1.3l-1.3 1.3l-1.3 -1.3zM236.9 99.21l1.3 1.3l-1.3 1.3l-1.3 -1.3zM236.9 100.15l1.3 1.3l-1.3 1.3l-1.3 -1.3zM236.9 101.08l1.3 1.3l-1.3 1.3l-1.3 -1.3zM236.9 102.02l1.3 1.3l-1.3 1.3l-1.3 -1.3zM236.9 102.95l1.3 1.3l-1.3 1.3l-1.3 -1.3zM236.9 103.89l1.3 1.3l-1.3 1.3l-1.3 -1.3zM236.9 104.83l1.3 1.3l-1.3 1.3l-1.3 -1.3zM236.9 105.76l1.3 1.3l-1.3 1.3l-1.3 -1.3zM236.9 106.7l1.3 1.3l-1.3 1.3l-1.3 -1.3zM236.9 112.7l1.3 1.3l-1.3 1.3l-1.3 -1.3zM236.9 113.8l1.3 1.3l-1.3 1.3l-1.3 -1.3zM236.9 114.9l1.3 1.3l-1.3 1.3l-1.3 -1.3zM236.9 116l1.3 1.3l-1.3 1.3l-1.3 -1.3zM236.9 117.1l1.3 1.3l-1.3 1.3l-1.3 -1.3zM236.9 129.5l1.3 1.3l-1.3 1.3l-1.3 -1.3z" fill="#2a6591"/>
<path d="M288.7 60.1l1.3 1.3l-1.3 1.3l-1.3 -1.3zM343.5 43.3l1.3 1.3l-1.3 1.3l-1.3 -1.3zM343.5 52.6l1.3 1.3l-1.3 1.3l-1.3 -1.3zM343.5 65.9l1.3 1.3l-1.3 1.3l-1.3 -1.3zM323.9 69.4l1.3 1.3l-1.3 1.3l-1.3 -1.3zM319.9 73.9l1.3 1.3l-1.3 1.3l-1.3 -1.3zM331.6 72.3l1.3 1.3l-1.3 1.3l-1.3 -1.3zM311.3 81.6l1.3 1.3l-1.3 1.3l-1.3 -1.3zM308.1 88.9l1.3 1.3l-1.3 1.3l-1.3 -1.3zM320.1 87.5l1.3 1.3l-1.3 1.3l-1.3 -1.3zM301.4 93.7l1.3 1.3l-1.3 1.3l-1.3 -1.3zM343.2 84.7l1.3 1.3l-1.3 1.3l-1.3 -1.3zM343.2 96.8l1.3 1.3l-1.3 1.3l-1.3 -1.3zM284.9 102.3l1.3 1.3l-1.3 1.3l-1.3 -1.3zM284.9 105.7l1.3 1.3l-1.3 1.3l-1.3 -1.3zM308.1 108.5l1.3 1.3l-1.3 1.3l-1.3 -1.3zM394.4 20l1.3 1.3l-1.3 1.3l-1.3 -1.3zM394.4 33l1.3 1.3l-1.3 1.3l-1.3 -1.3zM409.9 45.7l1.3 1.3l-1.3 1.3l-1.3 -1.3zM358.8 54.6l1.3 1.3l-1.3 1.3l-1.3 -1.3zM406 61.8l1.3 1.3l-1.3 1.3l-1.3 -1.3zM351.1 69.7l1.3 1.3l-1.3 1.3l-1.3 -1.3zM367.2 65.9l1.3 1.3l-1.3 1.3l-1.3 -1.3zM374.8 65.9l1.3 1.3l-1.3 1.3l-1.3 -1.3zM362.9 72.6l1.3 1.3l-1.3 1.3l-1.3 -1.3zM367.2 77.4l1.3 1.3l-1.3 1.3l-1.3 -1.3zM394.4 67.7l1.3 1.3l-1.3 1.3l-1.3 -1.3zM370.8 83.3l1.3 1.3l-1.3 1.3l-1.3 -1.3zM359.1 88.2l1.3 1.3l-1.3 1.3l-1.3 -1.3zM373.2 89.7l1.3 1.3l-1.3 1.3l-1.3 -1.3zM363.1 93.5l1.3 1.3l-1.3 1.3l-1.3 -1.3zM367.2 93.5l1.3 1.3l-1.3 1.3l-1.3 -1.3zM367.2 98.8l1.3 1.3l-1.3 1.3l-1.3 -1.3zM380.8 98.5l1.3 1.3l-1.3 1.3l-1.3 -1.3zM351.1 102.6l1.3 1.3l-1.3 1.3l-1.3 -1.3zM409.9 91.6l1.3 1.3l-1.3 1.3l-1.3 -1.3zM412 100.5l1.3 1.3l-1.3 1.3l-1.3 -1.3zM409.9 106.2l1.3 1.3l-1.3 1.3l-1.3 -1.3zM351.1 120.7l1.3 1.3l-1.3 1.3l-1.3 -1.3zM363.1 122l1.3 1.3l-1.3 1.3l-1.3 -1.3zM402 123.5l1.3 1.3l-1.3 1.3l-1.3 -1.3zM363.1 134.1l1.3 1.3l-1.3 1.3l-1.3 -1.3zM417.9 25.8l1.3 1.3l-1.3 1.3l-1.3 -1.3zM421.6 42.5l1.3 1.3l-1.3 1.3l-1.3 -1.3zM410.3 45.8l1.3 1.3l-1.3 1.3l-1.3 -1.3zM441 38.9l1.3 1.3l-1.3 1.3l-1.3 -1.3zM425.7 59.4l1.3 1.3l-1.3 1.3l-1.3 -1.3zM433.1 58.6l1.3 1.3l-1.3 1.3l-1.3 -1.3zM441 62.2l1.3 1.3l-1.3 1.3l-1.3 -1.3zM433.1 71.2l1.3 1.3l-1.3 1.3l-1.3 -1.3zM433.1 73.1l1.3 1.3l-1.3 1.3l-1.3 -1.3zM425.7 74.3l1.3 1.3l-1.3 1.3l-1.3 -1.3zM441 74.2l1.3 1.3l-1.3 1.3l-1.3 -1.3zM468.2 59.7l1.3 1.3l-1.3 1.3l-1.3 -1.3zM468.2 66.8l1.3 1.3l-1.3 1.3l-1.3 -1.3zM468.2 75.4l1.3 1.3l-1.3 1.3l-1.3 -1.3zM476.4 10.4l1.3 1.3l-1.3 1.3l-1.3 -1.3zM421.6 82.7l1.3 1.3l-1.3 1.3l-1.3 -1.3zM421.6 84.9l1.3 1.3l-1.3 1.3l-1.3 -1.3zM425.7 84.9l1.3 1.3l-1.3 1.3l-1.3 -1.3zM437.6 81.5l1.3 1.3l-1.3 1.3l-1.3 -1.3zM441 80.4l1.3 1.3l-1.3 1.3l-1.3 -1.3zM441 84.9l1.3 1.3l-1.3 1.3l-1.3 -1.3zM451 84.9l1.3 1.3l-1.3 1.3l-1.3 -1.3zM427.9 89.4l1.3 1.3l-1.3 1.3l-1.3 -1.3zM429.4 89.1l1.3 1.3l-1.3 1.3l-1.3 -1.3zM426.4 91.3l1.3 1.3l-1.3 1.3l-1.3 -1.3zM433.4 88l1.3 1.3l-1.3 1.3l-1.3 -1.3zM421.6 91.3l1.3 1.3l-1.3 1.3l-1.3 -1.3zM421.6 94.6l1.3 1.3l-1.3 1.3l-1.3 -1.3zM421.6 95.8l1.3 1.3l-1.3 1.3l-1.3 -1.3zM433.4 93.1l1.3 1.3l-1.3 1.3l-1.3 -1.3zM441 91.3l1.3 1.3l-1.3 1.3l-1.3 -1.3zM410 91.6l1.3 1.3l-1.3 1.3l-1.3 -1.3zM411.8 100.6l1.3 1.3l-1.3 1.3l-1.3 -1.3zM410 105.8l1.3 1.3l-1.3 1.3l-1.3 -1.3zM421.6 108.3l1.3 1.3l-1.3 1.3l-1.3 -1.3zM433.4 109.8l1.3 1.3l-1.3 1.3l-1.3 -1.3zM472.4 97.9l1.3 1.3l-1.3 1.3l-1.3 -1.3zM476.4 84.9l1.3 1.3l-1.3 1.3l-1.3 -1.3zM476.4 92.8l1.3 1.3l-1.3 1.3l-1.3 -1.3zM477.9 93.7l1.3 1.3l-1.3 1.3l-1.3 -1.3zM477.9 96.1l1.3 1.3l-1.3 1.3l-1.3 -1.3zM476.4 22.12l1.3 1.3l-1.3 1.3l-1.3 -1.3zM476.4 23.94l1.3 1.3l-1.3 1.3l-1.3 -1.3zM476.4 25.76l1.3 1.3l-1.3 1.3l-1.3 -1.3zM476.4 29.4l1.3 1.3l-1.3 1.3l-1.3 -1.3zM476.4 31.22l1.3 1.3l-1.3 1.3l-1.3 -1.3zM476.4 34.85l1.3 1.3l-1.3 1.3l-1.3 -1.3zM476.4 40.31l1.3 1.3l-1.3 1.3l-1.3 -1.3zM476.4 42.13l1.3 1.3l-1.3 1.3l-1.3 -1.3zM476.4 43.95l1.3 1.3l-1.3 1.3l-1.3 -1.3zM476.4 47.59l1.3 1.3l-1.3 1.3l-1.3 -1.3zM476.4 49.41l1.3 1.3l-1.3 1.3l-1.3 -1.3zM476.4 51.23l1.3 1.3l-1.3 1.3l-1.3 -1.3zM476.4 54.87l1.3 1.3l-1.3 1.3l-1.3 -1.3zM476.4 56.69l1.3 1.3l-1.3 1.3l-1.3 -1.3zM476.4 58.51l1.3 1.3l-1.3 1.3l-1.3 -1.3zM476.4 62.15l1.3 1.3l-1.3 1.3l-1.3 -1.3zM476.4 65.78l1.3 1.3l-1.3 1.3l-1.3 -1.3zM476.4 67.6l1.3 1.3l-1.3 1.3l-1.3 -1.3zM476.4 69.42l1.3 1.3l-1.3 1.3l-1.3 -1.3zM476.4 71.24l1.3 1.3l-1.3 1.3l-1.3 -1.3zM476.4 74.88l1.3 1.3l-1.3 1.3l-1.3 -1.3zM476.4 76.7l1.3 1.3l-1.3 1.3l-1.3 -1.3zM479.9 11l1.3 1.3l-1.3 1.3l-1.3 -1.3zM479.9 11.9l1.3 1.3l-1.3 1.3l-1.3 -1.3zM479.9 12.79l1.3 1.3l-1.3 1.3l-1.3 -1.3zM479.9 13.69l1.3 1.3l-1.3 1.3l-1.3 -1.3zM479.9 14.59l1.3 1.3l-1.3 1.3l-1.3 -1.3zM479.9 15.48l1.3 1.3l-1.3 1.3l-1.3 -1.3zM479.9 16.38l1.3 1.3l-1.3 1.3l-1.3 -1.3zM479.9 17.27l1.3 1.3l-1.3 1.3l-1.3 -1.3zM479.9 18.17l1.3 1.3l-1.3 1.3l-1.3 -1.3zM479.9 19.07l1.3 1.3l-1.3 1.3l-1.3 -1.3zM479.9 19.96l1.3 1.3l-1.3 1.3l-1.3 -1.3zM479.9 20.86l1.3 1.3l-1.3 1.3l-1.3 -1.3zM479.9 21.75l1.3 1.3l-1.3 1.3l-1.3 -1.3zM479.9 22.65l1.3 1.3l-1.3 1.3l-1.3 -1.3zM479.9 23.55l1.3 1.3l-1.3 1.3l-1.3 -1.3zM479.9 24.44l1.3 1.3l-1.3 1.3l-1.3 -1.3zM479.9 25.34l1.3 1.3l-1.3 1.3l-1.3 -1.3zM479.9 26.24l1.3 1.3l-1.3 1.3l-1.3 -1.3zM479.9 27.13l1.3 1.3l-1.3 1.3l-1.3 -1.3zM479.9 28.03l1.3 1.3l-1.3 1.3l-1.3 -1.3zM479.9 28.93l1.3 1.3l-1.3 1.3l-1.3 -1.3zM479.9 29.82l1.3 1.3l-1.3 1.3l-1.3 -1.3zM479.9 30.72l1.3 1.3l-1.3 1.3l-1.3 -1.3zM479.9 31.61l1.3 1.3l-1.3 1.3l-1.3 -1.3zM479.9 32.51l1.3 1.3l-1.3 1.3l-1.3 -1.3zM479.9 33.41l1.3 1.3l-1.3 1.3l-1.3 -1.3zM479.9 34.3l1.3 1.3l-1.3 1.3l-1.3 -1.3zM479.9 35.2l1.3 1.3l-1.3 1.3l-1.3 -1.3zM479.9 36.1l1.3 1.3l-1.3 1.3l-1.3 -1.3zM479.9 36.99l1.3 1.3l-1.3 1.3l-1.3 -1.3zM479.9 37.89l1.3 1.3l-1.3 1.3l-1.3 -1.3zM479.9 38.78l1.3 1.3l-1.3 1.3l-1.3 -1.3zM479.9 39.68l1.3 1.3l-1.3 1.3l-1.3 -1.3zM479.9 40.58l1.3 1.3l-1.3 1.3l-1.3 -1.3zM479.9 41.47l1.3 1.3l-1.3 1.3l-1.3 -1.3zM479.9 42.37l1.3 1.3l-1.3 1.3l-1.3 -1.3zM479.9 43.27l1.3 1.3l-1.3 1.3l-1.3 -1.3zM479.9 44.16l1.3 1.3l-1.3 1.3l-1.3 -1.3zM479.9 45.06l1.3 1.3l-1.3 1.3l-1.3 -1.3zM479.9 45.95l1.3 1.3l-1.3 1.3l-1.3 -1.3zM479.9 46.85l1.3 1.3l-1.3 1.3l-1.3 -1.3zM479.9 47.75l1.3 1.3l-1.3 1.3l-1.3 -1.3zM479.9 48.64l1.3 1.3l-1.3 1.3l-1.3 -1.3zM479.9 49.54l1.3 1.3l-1.3 1.3l-1.3 -1.3zM479.9 50.44l1.3 1.3l-1.3 1.3l-1.3 -1.3zM479.9 51.33l1.3 1.3l-1.3 1.3l-1.3 -1.3zM479.9 52.23l1.3 1.3l-1.3 1.3l-1.3 -1.3zM479.9 53.12l1.3 1.3l-1.3 1.3l-1.3 -1.3zM479.9 54.02l1.3 1.3l-1.3 1.3l-1.3 -1.3zM479.9 54.92l1.3 1.3l-1.3 1.3l-1.3 -1.3zM479.9 55.81l1.3 1.3l-1.3 1.3l-1.3 -1.3zM479.9 56.71l1.3 1.3l-1.3 1.3l-1.3 -1.3zM479.9 57.61l1.3 1.3l-1.3 1.3l-1.3 -1.3zM479.9 58.5l1.3 1.3l-1.3 1.3l-1.3 -1.3zM479.9 59.4l1.3 1.3l-1.3 1.3l-1.3 -1.3zM479.9 60.29l1.3 1.3l-1.3 1.3l-1.3 -1.3zM479.9 61.19l1.3 1.3l-1.3 1.3l-1.3 -1.3zM479.9 62.09l1.3 1.3l-1.3 1.3l-1.3 -1.3zM479.9 62.98l1.3 1.3l-1.3 1.3l-1.3 -1.3zM479.9 63.88l1.3 1.3l-1.3 1.3l-1.3 -1.3zM479.9 64.78l1.3 1.3l-1.3 1.3l-1.3 -1.3zM479.9 65.67l1.3 1.3l-1.3 1.3l-1.3 -1.3zM479.9 66.57l1.3 1.3l-1.3 1.3l-1.3 -1.3zM479.9 67.46l1.3 1.3l-1.3 1.3l-1.3 -1.3zM479.9 68.36l1.3 1.3l-1.3 1.3l-1.3 -1.3zM479.9 69.26l1.3 1.3l-1.3 1.3l-1.3 -1.3zM479.9 70.15l1.3 1.3l-1.3 1.3l-1.3 -1.3zM479.9 71.05l1.3 1.3l-1.3 1.3l-1.3 -1.3zM479.9 71.95l1.3 1.3l-1.3 1.3l-1.3 -1.3zM479.9 72.84l1.3 1.3l-1.3 1.3l-1.3 -1.3zM479.9 73.74l1.3 1.3l-1.3 1.3l-1.3 -1.3zM479.9 74.63l1.3 1.3l-1.3 1.3l-1.3 -1.3zM479.9 75.53l1.3 1.3l-1.3 1.3l-1.3 -1.3zM479.9 76.43l1.3 1.3l-1.3 1.3l-1.3 -1.3zM479.9 77.32l1.3 1.3l-1.3 1.3l-1.3 -1.3zM479.9 78.22l1.3 1.3l-1.3 1.3l-1.3 -1.3zM479.9 79.11l1.3 1.3l-1.3 1.3l-1.3 -1.3zM479.9 80.01l1.3 1.3l-1.3 1.3l-1.3 -1.3zM479.9 80.91l1.3 1.3l-1.3 1.3l-1.3 -1.3zM479.9 81.8l1.3 1.3l-1.3 1.3l-1.3 -1.3zM479.9 82.7l1.3 1.3l-1.3 1.3l-1.3 -1.3zM478.6 14.7l1.3 1.3l-1.3 1.3l-1.3 -1.3zM478.6 16.1l1.3 1.3l-1.3 1.3l-1.3 -1.3zM478.6 18.91l1.3 1.3l-1.3 1.3l-1.3 -1.3zM478.6 20.32l1.3 1.3l-1.3 1.3l-1.3 -1.3zM478.6 21.72l1.3 1.3l-1.3 1.3l-1.3 -1.3zM478.6 23.13l1.3 1.3l-1.3 1.3l-1.3 -1.3zM478.6 24.53l1.3 1.3l-1.3 1.3l-1.3 -1.3zM478.6 25.93l1.3 1.3l-1.3 1.3l-1.3 -1.3zM478.6 27.34l1.3 1.3l-1.3 1.3l-1.3 -1.3zM478.6 28.74l1.3 1.3l-1.3 1.3l-1.3 -1.3zM478.6 31.55l1.3 1.3l-1.3 1.3l-1.3 -1.3zM478.6 32.96l1.3 1.3l-1.3 1.3l-1.3 -1.3zM478.6 34.36l1.3 1.3l-1.3 1.3l-1.3 -1.3zM478.6 41.38l1.3 1.3l-1.3 1.3l-1.3 -1.3zM478.6 44.19l1.3 1.3l-1.3 1.3l-1.3 -1.3zM478.6 48.4l1.3 1.3l-1.3 1.3l-1.3 -1.3zM478.6 51.21l1.3 1.3l-1.3 1.3l-1.3 -1.3zM478.6 52.61l1.3 1.3l-1.3 1.3l-1.3 -1.3zM478.6 54.02l1.3 1.3l-1.3 1.3l-1.3 -1.3zM478.6 55.42l1.3 1.3l-1.3 1.3l-1.3 -1.3zM478.6 58.23l1.3 1.3l-1.3 1.3l-1.3 -1.3zM478.6 59.64l1.3 1.3l-1.3 1.3l-1.3 -1.3zM478.6 62.44l1.3 1.3l-1.3 1.3l-1.3 -1.3zM478.6 63.85l1.3 1.3l-1.3 1.3l-1.3 -1.3zM478.6 65.25l1.3 1.3l-1.3 1.3l-1.3 -1.3zM478.6 66.66l1.3 1.3l-1.3 1.3l-1.3 -1.3zM478.6 68.06l1.3 1.3l-1.3 1.3l-1.3 -1.3zM478.6 70.87l1.3 1.3l-1.3 1.3l-1.3 -1.3zM478.6 76.49l1.3 1.3l-1.3 1.3l-1.3 -1.3zM478.6 79.3l1.3 1.3l-1.3 1.3l-1.3 -1.3zM479.9 85.7l1.3 1.3l-1.3 1.3l-1.3 -1.3zM479.9 87.37l1.3 1.3l-1.3 1.3l-1.3 -1.3zM479.9 89.03l1.3 1.3l-1.3 1.3l-1.3 -1.3zM479.9 90.7l1.3 1.3l-1.3 1.3l-1.3 -1.3zM479.9 93.7l1.3 1.3l-1.3 1.3l-1.3 -1.3zM479.9 95.2l1.3 1.3l-1.3 1.3l-1.3 -1.3zM479.9 96.7l1.3 1.3l-1.3 1.3l-1.3 -1.3zM479.9 98.2l1.3 1.3l-1.3 1.3l-1.3 -1.3zM479.9 99.7l1.3 1.3l-1.3 1.3l-1.3 -1.3zM479.9 101.2l1.3 1.3l-1.3 1.3l-1.3 -1.3zM479.9 102.7l1.3 1.3l-1.3 1.3l-1.3 -1.3zM479.9 104.2l1.3 1.3l-1.3 1.3l-1.3 -1.3zM479.9 105.7l1.3 1.3l-1.3 1.3l-1.3 -1.3zM479.9 111.7l1.3 1.3l-1.3 1.3l-1.3 -1.3zM479.9 113.2l1.3 1.3l-1.3 1.3l-1.3 -1.3zM479.9 114.7l1.3 1.3l-1.3 1.3l-1.3 -1.3zM479.9 116.2l1.3 1.3l-1.3 1.3l-1.3 -1.3zM479.9 128.2l1.3 1.3l-1.3 1.3l-1.3 -1.3z" fill="#2a6591"/>
<path d="M35.7 252.22 L40.79 250.5 L45.88 248.78 L50.96 247.07 L56.05 245.35 L61.14 243.64 L66.22 241.92 L71.31 240.2 L76.4 238.49 L81.49 236.77 L86.58 235.05 L91.66 233.34 L96.75 231.62 L101.84 229.91 L106.92 228.19 L112.01 226.47 L117.1 224.76 L122.19 223.04 L127.28 221.33 L132.36 219.61 L137.45 217.89 L142.54 216.18 L147.62 214.46 L152.71 212.74 L157.8 211.03 L162.89 209.31 L167.98 207.6 L173.06 205.88 L178.15 204.16 L183.24 202.45 L188.32 200.73 L193.41 199.01 L198.5 197.3 L203.59 195.58 L208.68 193.87 L213.76 192.15 L218.85 190.43 L223.94 188.72 L229.02 187" fill="none" stroke="#c0c0c0" stroke-width="0.75"/>
<path d="M96.75 316.22 L101.84 314.51 L106.92 312.79 L112.01 311.07 L117.1 309.36 L122.19 307.64 L127.28 305.93 L132.36 304.21 L137.45 302.49 L142.54 300.78 L147.62 299.06 L152.71 297.34 L157.8 295.63 L162.89 293.91 L167.98 292.2 L173.06 290.48 L178.15 288.76 L183.24 287.05 L188.32 285.33 L193.41 283.61 L198.5 281.9 L203.59 280.18 L208.68 278.47 L213.76 276.75 L218.85 275.03 L223.94 273.32 L229.02 271.6 L234.11 269.88 L239.2 268.17" fill="none" stroke="#c0c0c0" stroke-width="0.75"/>
<path d="M35.7 290.98 L40.79 289.4 L45.88 287.81 L50.96 286.22 L56.05 284.63 L61.14 283.03 L66.22 281.44 L71.31 279.83 L76.4 278.23 L81.49 276.62 L86.58 275 L91.66 273.38 L96.75 271.75 L101.84 270.12 L106.92 268.48 L112.01 266.82 L117.1 265.16 L122.19 263.49 L127.28 261.8 L132.36 260.1 L137.45 258.39 L142.54 256.67 L147.62 254.93 L152.71 253.18 L157.8 251.42 L162.89 249.65 L167.98 247.87 L173.06 246.08 L178.15 244.28 L183.24 242.47 L188.32 240.66 L193.41 238.84 L198.5 237.02 L203.59 235.19 L208.68 233.36 L213.76 231.53 L218.85 229.69 L223.94 227.85 L229.02 226 L234.11 224.16 L239.2 222.31" fill="none" stroke="#cfcfcf" stroke-width="0.7"/>
<path d="M35.7 298.05 L40.79 296.2 L45.88 294.36 L50.96 292.52 L56.05 290.67 L61.14 288.84 L66.22 287 L71.31 285.17 L76.4 283.35 L81.49 281.52 L86.58 279.71 L91.66 277.89 L96.75 276.09 L101.84 274.29 L106.92 272.5 L112.01 270.72 L117.1 268.95 L122.19 267.2 L127.28 265.45 L132.36 263.71 L137.45 261.99 L142.54 260.28 L147.62 258.59 L152.71 256.9 L157.8 255.23 L162.89 253.57 L167.98 251.92 L173.06 250.28 L178.15 248.65 L183.24 247.02 L188.32 245.4 L193.41 243.78 L198.5 242.18 L203.59 240.57 L208.68 238.97 L213.76 237.37 L218.85 235.78 L223.94 234.19 L229.02 232.6 L234.11 231.01 L239.2 229.42" fill="none" stroke="#cfcfcf" stroke-width="0.7"/>
<path d="M35.7 294.52 L40.79 292.8 L45.88 291.08 L50.96 289.37 L56.05 287.65 L61.14 285.94 L66.22 284.22 L71.31 282.5 L76.4 280.79 L81.49 279.07 L86.58 277.35 L91.66 275.64 L96.75 273.92 L101.84 272.21 L106.92 270.49 L112.01 268.77 L117.1 267.06 L122.19 265.34 L127.28 263.63 L132.36 261.91 L137.45 260.19 L142.54 258.48 L147.62 256.76 L152.71 255.04 L157.8 253.33 L162.89 251.61 L167.98 249.9 L173.06 248.18 L178.15 246.46 L183.24 244.75 L188.32 243.03 L193.41 241.31 L198.5 239.6 L203.59 237.88 L208.68 236.17 L213.76 234.45 L218.85 232.73 L223.94 231.02 L229.02 229.3 L234.11 227.58 L239.2 225.87" fill="none" stroke="#333333" stroke-width="0.85"/>
<path d="M35.7 257.42 L37.4 258.73 L39.09 260.02 L40.79 261.27 L42.48 262.48 L44.18 263.67 L45.88 264.82 L47.57 265.95 L49.27 267.04 L50.96 268.09 L52.66 269.12 L54.35 270.11 L56.05 271.07 L57.75 272 L59.44 272.9 L61.14 273.76 L62.83 274.59 L64.53 275.4 L66.22 276.16 L67.92 276.9 L69.62 277.6 L71.31 278.28 L73.01 278.92 L74.7 279.52 L76.4 280.1 L78.1 280.64 L79.79 281.15 L81.49 281.63 L83.18 282.08 L84.88 282.49 L86.58 282.88 L88.27 283.23 L89.97 283.55 L91.66 283.83 L93.36 284.09 L95.05 284.31 L96.75 284.5 L98.45 284.66 L100.14 284.78 L101.84 284.87 L103.53 284.94 L105.23 284.96 L106.92 284.96 L108.62 284.93 L110.32 284.86 L112.01 284.76 L113.71 284.63 L115.4 284.47 L117.1 284.27 L118.8 284.04 L120.49 283.78 L122.19 283.49 L123.88 283.17 L125.58 282.81 L127.28 282.42 L128.97 282 L130.67 281.55 L132.36 281.06 L134.06 280.55 L135.75 280 L137.45 279.42 L139.15 278.8 L140.84 278.16 L142.54 277.48 L144.23 276.77 L145.93 276.03 L147.62 275.25 L149.32 274.45 L151.02 273.61 L152.71 272.74 L154.41 271.84 L156.1 270.9 L157.8 269.93 L159.5 268.94 L161.19 267.9 L162.89 266.84 L164.58 265.75 L166.28 264.62 L167.98 263.46 L169.67 262.27 L171.37 261.04 L173.06 259.79 L174.76 258.5 L176.45 257.18 L178.15 255.83 L179.85 254.44 L181.54 253.03 L183.24 251.58 L184.93 250.1 L186.63 248.58 L188.32 247.04 L190.02 245.46 L191.72 243.85 L193.41 242.21 L195.11 240.54 L196.8 238.83 L198.5 237.09 L200.2 235.32 L201.89 233.52 L203.59 231.68 L205.28 229.82 L206.98 227.92 L208.68 225.99 L210.37 224.03 L212.07 222.03 L213.76 220 L215.46 217.94 L217.15 215.85 L218.85 213.73 L220.55 211.57 L222.24 209.39 L223.94 207.17 L225.63 204.91 L227.33 202.63 L229.02 200.31 L230.72 197.97 L232.42 195.59 L234.11 193.17 L235.81 190.73 L237.5 188.25 L239.2 185.74" fill="none" stroke="#d44c22" stroke-width="1.3"/>
<path d="M35.86 266.21l1.3 1.3l-1.3 1.3l-1.3 -1.3zM36.52 267.62l1.3 1.3l-1.3 1.3l-1.3 -1.3zM36.96 268.94l1.3 1.3l-1.3 1.3l-1.3 -1.3zM37.53 268.91l1.3 1.3l-1.3 1.3l-1.3 -1.3zM37.62 269.6l1.3 1.3l-1.3 1.3l-1.3 -1.3zM38.18 275.89l1.3 1.3l-1.3 1.3l-1.3 -1.3zM38.83 266.52l1.3 1.3l-1.3 1.3l-1.3 -1.3zM38.86 269.43l1.3 1.3l-1.3 1.3l-1.3 -1.3zM39.58 271.99l1.3 1.3l-1.3 1.3l-1.3 -1.3zM40.08 268.01l1.3 1.3l-1.3 1.3l-1.3 -1.3zM40.48 274.21l1.3 1.3l-1.3 1.3l-1.3 -1.3zM40.86 272.96l1.3 1.3l-1.3 1.3l-1.3 -1.3zM41.12 276.09l1.3 1.3l-1.3 1.3l-1.3 -1.3zM41.66 271.26l1.3 1.3l-1.3 1.3l-1.3 -1.3zM42.25 271.57l1.3 1.3l-1.3 1.3l-1.3 -1.3zM42.8 264.66l1.3 1.3l-1.3 1.3l-1.3 -1.3zM42.92 267.41l1.3 1.3l-1.3 1.3l-1.3 -1.3zM43.68 262.65l1.3 1.3l-1.3 1.3l-1.3 -1.3zM44.08 265.32l1.3 1.3l-1.3 1.3l-1.3 -1.3zM44.12 265.41l1.3 1.3l-1.3 1.3l-1.3 -1.3zM45.01 259.35l1.3 1.3l-1.3 1.3l-1.3 -1.3zM45.04 263.59l1.3 1.3l-1.3 1.3l-1.3 -1.3zM45.6 259.63l1.3 1.3l-1.3 1.3l-1.3 -1.3zM46.08 262.1l1.3 1.3l-1.3 1.3l-1.3 -1.3zM46.52 263.9l1.3 1.3l-1.3 1.3l-1.3 -1.3zM47.16 256.07l1.3 1.3l-1.3 1.3l-1.3 -1.3zM47.55 262.25l1.3 1.3l-1.3 1.3l-1.3 -1.3zM47.57 257.76l1.3 1.3l-1.3 1.3l-1.3 -1.3zM48.43 263.26l1.3 1.3l-1.3 1.3l-1.3 -1.3zM48.69 254.05l1.3 1.3l-1.3 1.3l-1.3 -1.3zM49.21 255.11l1.3 1.3l-1.3 1.3l-1.3 -1.3zM49.56 260.37l1.3 1.3l-1.3 1.3l-1.3 -1.3zM49.82 261.24l1.3 1.3l-1.3 1.3l-1.3 -1.3zM50.68 257.79l1.3 1.3l-1.3 1.3l-1.3 -1.3zM50.58 255.55l1.3 1.3l-1.3 1.3l-1.3 -1.3zM51.05 251.07l1.3 1.3l-1.3 1.3l-1.3 -1.3zM51.57 255.3l1.3 1.3l-1.3 1.3l-1.3 -1.3zM51.86 249.46l1.3 1.3l-1.3 1.3l-1.3 -1.3zM52.63 262.33l1.3 1.3l-1.3 1.3l-1.3 -1.3zM52.9 261.42l1.3 1.3l-1.3 1.3l-1.3 -1.3zM53.67 265.62l1.3 1.3l-1.3 1.3l-1.3 -1.3zM54.17 263.84l1.3 1.3l-1.3 1.3l-1.3 -1.3zM54.19 267.02l1.3 1.3l-1.3 1.3l-1.3 -1.3zM54.46 266.77l1.3 1.3l-1.3 1.3l-1.3 -1.3zM55 263.43l1.3 1.3l-1.3 1.3l-1.3 -1.3zM55.41 269.03l1.3 1.3l-1.3 1.3l-1.3 -1.3zM55.78 270.29l1.3 1.3l-1.3 1.3l-1.3 -1.3zM56.76 269.78l1.3 1.3l-1.3 1.3l-1.3 -1.3zM57.16 269.98l1.3 1.3l-1.3 1.3l-1.3 -1.3zM57.37 274.65l1.3 1.3l-1.3 1.3l-1.3 -1.3zM57.88 271.78l1.3 1.3l-1.3 1.3l-1.3 -1.3zM58.3 272.01l1.3 1.3l-1.3 1.3l-1.3 -1.3zM58.93 270.38l1.3 1.3l-1.3 1.3l-1.3 -1.3zM59.23 272.62l1.3 1.3l-1.3 1.3l-1.3 -1.3zM59.38 270.62l1.3 1.3l-1.3 1.3l-1.3 -1.3zM59.98 279l1.3 1.3l-1.3 1.3l-1.3 -1.3zM60.43 275.56l1.3 1.3l-1.3 1.3l-1.3 -1.3zM60.89 271.88l1.3 1.3l-1.3 1.3l-1.3 -1.3zM60.99 268.24l1.3 1.3l-1.3 1.3l-1.3 -1.3zM61.45 267.34l1.3 1.3l-1.3 1.3l-1.3 -1.3zM62.22 264.71l1.3 1.3l-1.3 1.3l-1.3 -1.3zM62.49 268.9l1.3 1.3l-1.3 1.3l-1.3 -1.3zM63.14 269.76l1.3 1.3l-1.3 1.3l-1.3 -1.3zM63.19 269.28l1.3 1.3l-1.3 1.3l-1.3 -1.3zM63.99 273.1l1.3 1.3l-1.3 1.3l-1.3 -1.3zM64.3 271.52l1.3 1.3l-1.3 1.3l-1.3 -1.3zM64.82 271.44l1.3 1.3l-1.3 1.3l-1.3 -1.3zM65.08 275.15l1.3 1.3l-1.3 1.3l-1.3 -1.3zM65.55 272.19l1.3 1.3l-1.3 1.3l-1.3 -1.3zM65.99 272.58l1.3 1.3l-1.3 1.3l-1.3 -1.3zM66.66 277.84l1.3 1.3l-1.3 1.3l-1.3 -1.3zM67.08 276.03l1.3 1.3l-1.3 1.3l-1.3 -1.3zM67.26 276.1l1.3 1.3l-1.3 1.3l-1.3 -1.3zM67.65 280.35l1.3 1.3l-1.3 1.3l-1.3 -1.3zM68.06 272.56l1.3 1.3l-1.3 1.3l-1.3 -1.3zM68.44 276.44l1.3 1.3l-1.3 1.3l-1.3 -1.3zM69.01 272.31l1.3 1.3l-1.3 1.3l-1.3 -1.3zM69.51 278.23l1.3 1.3l-1.3 1.3l-1.3 -1.3zM70.2 275.29l1.3 1.3l-1.3 1.3l-1.3 -1.3zM70.51 275.59l1.3 1.3l-1.3 1.3l-1.3 -1.3zM71.09 271.29l1.3 1.3l-1.3 1.3l-1.3 -1.3zM71.06 273.1l1.3 1.3l-1.3 1.3l-1.3 -1.3zM71.75 275.02l1.3 1.3l-1.3 1.3l-1.3 -1.3zM72.37 278.43l1.3 1.3l-1.3 1.3l-1.3 -1.3zM72.41 273.49l1.3 1.3l-1.3 1.3l-1.3 -1.3zM73.12 278.89l1.3 1.3l-1.3 1.3l-1.3 -1.3zM73.65 274.39l1.3 1.3l-1.3 1.3l-1.3 -1.3zM73.78 275.71l1.3 1.3l-1.3 1.3l-1.3 -1.3zM74.52 275.16l1.3 1.3l-1.3 1.3l-1.3 -1.3zM74.73 278.01l1.3 1.3l-1.3 1.3l-1.3 -1.3zM75.16 271.36l1.3 1.3l-1.3 1.3l-1.3 -1.3zM75.44 278.98l1.3 1.3l-1.3 1.3l-1.3 -1.3zM75.79 282.41l1.3 1.3l-1.3 1.3l-1.3 -1.3zM76.81 275.52l1.3 1.3l-1.3 1.3l-1.3 -1.3zM76.91 281.95l1.3 1.3l-1.3 1.3l-1.3 -1.3zM77.22 274.13l1.3 1.3l-1.3 1.3l-1.3 -1.3zM77.97 274.45l1.3 1.3l-1.3 1.3l-1.3 -1.3zM78.27 268.39l1.3 1.3l-1.3 1.3l-1.3 -1.3zM78.57 268.91l1.3 1.3l-1.3 1.3l-1.3 -1.3zM78.87 270.61l1.3 1.3l-1.3 1.3l-1.3 -1.3zM79.62 265.3l1.3 1.3l-1.3 1.3l-1.3 -1.3zM79.73 270.42l1.3 1.3l-1.3 1.3l-1.3 -1.3zM80.68 260.97l1.3 1.3l-1.3 1.3l-1.3 -1.3zM81.11 255.42l1.3 1.3l-1.3 1.3l-1.3 -1.3zM81.55 259.61l1.3 1.3l-1.3 1.3l-1.3 -1.3zM81.89 260.02l1.3 1.3l-1.3 1.3l-1.3 -1.3zM81.98 258.86l1.3 1.3l-1.3 1.3l-1.3 -1.3zM82.63 263.64l1.3 1.3l-1.3 1.3l-1.3 -1.3zM83 263.66l1.3 1.3l-1.3 1.3l-1.3 -1.3zM83.39 257.48l1.3 1.3l-1.3 1.3l-1.3 -1.3zM83.77 260.82l1.3 1.3l-1.3 1.3l-1.3 -1.3zM84.53 254.97l1.3 1.3l-1.3 1.3l-1.3 -1.3zM84.7 258.98l1.3 1.3l-1.3 1.3l-1.3 -1.3zM85.42 263.46l1.3 1.3l-1.3 1.3l-1.3 -1.3zM85.47 261.81l1.3 1.3l-1.3 1.3l-1.3 -1.3zM86.28 253.16l1.3 1.3l-1.3 1.3l-1.3 -1.3zM86.73 265.76l1.3 1.3l-1.3 1.3l-1.3 -1.3zM87.19 263.74l1.3 1.3l-1.3 1.3l-1.3 -1.3zM87.13 262.58l1.3 1.3l-1.3 1.3l-1.3 -1.3zM87.86 267.81l1.3 1.3l-1.3 1.3l-1.3 -1.3zM88.23 262.03l1.3 1.3l-1.3 1.3l-1.3 -1.3zM88.41 267.97l1.3 1.3l-1.3 1.3l-1.3 -1.3zM88.88 270.98l1.3 1.3l-1.3 1.3l-1.3 -1.3zM89.32 273.07l1.3 1.3l-1.3 1.3l-1.3 -1.3zM90.3 274.21l1.3 1.3l-1.3 1.3l-1.3 -1.3zM90.45 272.69l1.3 1.3l-1.3 1.3l-1.3 -1.3zM90.78 272.62l1.3 1.3l-1.3 1.3l-1.3 -1.3zM91.41 276.36l1.3 1.3l-1.3 1.3l-1.3 -1.3zM91.81 273.75l1.3 1.3l-1.3 1.3l-1.3 -1.3zM92.09 275.9l1.3 1.3l-1.3 1.3l-1.3 -1.3zM92.4 270.77l1.3 1.3l-1.3 1.3l-1.3 -1.3zM92.99 272.42l1.3 1.3l-1.3 1.3l-1.3 -1.3zM93.25 275.21l1.3 1.3l-1.3 1.3l-1.3 -1.3zM94 276.67l1.3 1.3l-1.3 1.3l-1.3 -1.3zM94.54 270.91l1.3 1.3l-1.3 1.3l-1.3 -1.3zM94.88 276.81l1.3 1.3l-1.3 1.3l-1.3 -1.3zM95.2 272.13l1.3 1.3l-1.3 1.3l-1.3 -1.3zM95.8 275.75l1.3 1.3l-1.3 1.3l-1.3 -1.3zM96.07 273.02l1.3 1.3l-1.3 1.3l-1.3 -1.3zM96.4 271.04l1.3 1.3l-1.3 1.3l-1.3 -1.3zM97.01 273.68l1.3 1.3l-1.3 1.3l-1.3 -1.3zM97.38 273.63l1.3 1.3l-1.3 1.3l-1.3 -1.3zM97.81 279.98l1.3 1.3l-1.3 1.3l-1.3 -1.3zM98.22 271.4l1.3 1.3l-1.3 1.3l-1.3 -1.3zM98.97 276.05l1.3 1.3l-1.3 1.3l-1.3 -1.3zM99.14 273.86l1.3 1.3l-1.3 1.3l-1.3 -1.3zM99.37 277.83l1.3 1.3l-1.3 1.3l-1.3 -1.3zM100.27 272.9l1.3 1.3l-1.3 1.3l-1.3 -1.3zM100.64 274.11l1.3 1.3l-1.3 1.3l-1.3 -1.3zM100.94 272.41l1.3 1.3l-1.3 1.3l-1.3 -1.3zM101.1 276.69l1.3 1.3l-1.3 1.3l-1.3 -1.3zM101.56 277.7l1.3 1.3l-1.3 1.3l-1.3 -1.3zM102.38 279.89l1.3 1.3l-1.3 1.3l-1.3 -1.3zM102.41 279.15l1.3 1.3l-1.3 1.3l-1.3 -1.3zM103.31 279.49l1.3 1.3l-1.3 1.3l-1.3 -1.3zM103.72 280.06l1.3 1.3l-1.3 1.3l-1.3 -1.3zM103.73 282.24l1.3 1.3l-1.3 1.3l-1.3 -1.3zM104.59 276.11l1.3 1.3l-1.3 1.3l-1.3 -1.3zM105.1 274.3l1.3 1.3l-1.3 1.3l-1.3 -1.3zM104.98 276.34l1.3 1.3l-1.3 1.3l-1.3 -1.3zM105.86 274.74l1.3 1.3l-1.3 1.3l-1.3 -1.3zM105.89 279.38l1.3 1.3l-1.3 1.3l-1.3 -1.3zM106.72 281.61l1.3 1.3l-1.3 1.3l-1.3 -1.3zM106.9 280.36l1.3 1.3l-1.3 1.3l-1.3 -1.3zM107.48 281.83l1.3 1.3l-1.3 1.3l-1.3 -1.3zM107.68 278.66l1.3 1.3l-1.3 1.3l-1.3 -1.3zM108.16 276.2l1.3 1.3l-1.3 1.3l-1.3 -1.3zM108.68 276.28l1.3 1.3l-1.3 1.3l-1.3 -1.3zM109.1 277.55l1.3 1.3l-1.3 1.3l-1.3 -1.3zM109.57 282.12l1.3 1.3l-1.3 1.3l-1.3 -1.3zM109.8 271.87l1.3 1.3l-1.3 1.3l-1.3 -1.3zM110.43 279.56l1.3 1.3l-1.3 1.3l-1.3 -1.3zM111.07 283.56l1.3 1.3l-1.3 1.3l-1.3 -1.3zM111.51 285.76l1.3 1.3l-1.3 1.3l-1.3 -1.3zM111.9 278.56l1.3 1.3l-1.3 1.3l-1.3 -1.3zM112.31 280.82l1.3 1.3l-1.3 1.3l-1.3 -1.3zM112.9 282.53l1.3 1.3l-1.3 1.3l-1.3 -1.3zM113.25 283.16l1.3 1.3l-1.3 1.3l-1.3 -1.3zM113.78 279.31l1.3 1.3l-1.3 1.3l-1.3 -1.3zM114.1 281.58l1.3 1.3l-1.3 1.3l-1.3 -1.3zM114.22 282.07l1.3 1.3l-1.3 1.3l-1.3 -1.3zM114.89 284.4l1.3 1.3l-1.3 1.3l-1.3 -1.3zM115.16 283.38l1.3 1.3l-1.3 1.3l-1.3 -1.3zM115.98 286.66l1.3 1.3l-1.3 1.3l-1.3 -1.3zM116.02 282.31l1.3 1.3l-1.3 1.3l-1.3 -1.3zM116.79 279.56l1.3 1.3l-1.3 1.3l-1.3 -1.3zM117.07 281.58l1.3 1.3l-1.3 1.3l-1.3 -1.3zM117.17 283.94l1.3 1.3l-1.3 1.3l-1.3 -1.3zM117.88 281.02l1.3 1.3l-1.3 1.3l-1.3 -1.3zM118.24 282.86l1.3 1.3l-1.3 1.3l-1.3 -1.3zM118.65 282.16l1.3 1.3l-1.3 1.3l-1.3 -1.3zM119.49 279.46l1.3 1.3l-1.3 1.3l-1.3 -1.3zM119.62 278l1.3 1.3l-1.3 1.3l-1.3 -1.3zM120.27 277.43l1.3 1.3l-1.3 1.3l-1.3 -1.3zM120.69 275.67l1.3 1.3l-1.3 1.3l-1.3 -1.3zM121.07 276.69l1.3 1.3l-1.3 1.3l-1.3 -1.3zM121.59 273.61l1.3 1.3l-1.3 1.3l-1.3 -1.3zM122.08 278.76l1.3 1.3l-1.3 1.3l-1.3 -1.3zM122.22 277.42l1.3 1.3l-1.3 1.3l-1.3 -1.3zM122.81 279.34l1.3 1.3l-1.3 1.3l-1.3 -1.3zM123.22 283.02l1.3 1.3l-1.3 1.3l-1.3 -1.3zM123.4 277.2l1.3 1.3l-1.3 1.3l-1.3 -1.3zM123.8 277.87l1.3 1.3l-1.3 1.3l-1.3 -1.3zM124.54 280.31l1.3 1.3l-1.3 1.3l-1.3 -1.3zM125.07 280.93l1.3 1.3l-1.3 1.3l-1.3 -1.3zM125.51 278.41l1.3 1.3l-1.3 1.3l-1.3 -1.3zM125.62 275.42l1.3 1.3l-1.3 1.3l-1.3 -1.3zM125.91 281.05l1.3 1.3l-1.3 1.3l-1.3 -1.3zM126.35 281.84l1.3 1.3l-1.3 1.3l-1.3 -1.3zM126.95 280.25l1.3 1.3l-1.3 1.3l-1.3 -1.3zM127.52 282.86l1.3 1.3l-1.3 1.3l-1.3 -1.3zM127.81 283.6l1.3 1.3l-1.3 1.3l-1.3 -1.3zM128.3 283.36l1.3 1.3l-1.3 1.3l-1.3 -1.3zM128.83 286.19l1.3 1.3l-1.3 1.3l-1.3 -1.3zM129.48 284.6l1.3 1.3l-1.3 1.3l-1.3 -1.3zM129.42 288.45l1.3 1.3l-1.3 1.3l-1.3 -1.3zM129.95 286.81l1.3 1.3l-1.3 1.3l-1.3 -1.3zM130.75 286.47l1.3 1.3l-1.3 1.3l-1.3 -1.3zM131.2 292.59l1.3 1.3l-1.3 1.3l-1.3 -1.3zM131.31 292.05l1.3 1.3l-1.3 1.3l-1.3 -1.3zM131.99 288.94l1.3 1.3l-1.3 1.3l-1.3 -1.3zM132.37 286.29l1.3 1.3l-1.3 1.3l-1.3 -1.3zM132.79 289l1.3 1.3l-1.3 1.3l-1.3 -1.3zM133.28 286.81l1.3 1.3l-1.3 1.3l-1.3 -1.3zM133.84 286.94l1.3 1.3l-1.3 1.3l-1.3 -1.3zM133.77 285.55l1.3 1.3l-1.3 1.3l-1.3 -1.3zM134.43 285.8l1.3 1.3l-1.3 1.3l-1.3 -1.3zM134.98 291.87l1.3 1.3l-1.3 1.3l-1.3 -1.3zM135.35 290.99l1.3 1.3l-1.3 1.3l-1.3 -1.3zM135.82 292.82l1.3 1.3l-1.3 1.3l-1.3 -1.3zM135.99 292.6l1.3 1.3l-1.3 1.3l-1.3 -1.3zM136.39 287.07l1.3 1.3l-1.3 1.3l-1.3 -1.3zM137.31 290.36l1.3 1.3l-1.3 1.3l-1.3 -1.3zM137.62 291.22l1.3 1.3l-1.3 1.3l-1.3 -1.3zM137.98 285.85l1.3 1.3l-1.3 1.3l-1.3 -1.3zM138.33 287.14l1.3 1.3l-1.3 1.3l-1.3 -1.3zM138.68 288.91l1.3 1.3l-1.3 1.3l-1.3 -1.3zM139.36 289.22l1.3 1.3l-1.3 1.3l-1.3 -1.3zM139.82 283.63l1.3 1.3l-1.3 1.3l-1.3 -1.3zM140.01 285.9l1.3 1.3l-1.3 1.3l-1.3 -1.3zM140.39 282.94l1.3 1.3l-1.3 1.3l-1.3 -1.3zM140.69 290.52l1.3 1.3l-1.3 1.3l-1.3 -1.3zM141.41 287.39l1.3 1.3l-1.3 1.3l-1.3 -1.3zM141.75 291.69l1.3 1.3l-1.3 1.3l-1.3 -1.3zM142.18 284.01l1.3 1.3l-1.3 1.3l-1.3 -1.3zM142.87 287.59l1.3 1.3l-1.3 1.3l-1.3 -1.3zM143.06 286.82l1.3 1.3l-1.3 1.3l-1.3 -1.3zM143.44 284.66l1.3 1.3l-1.3 1.3l-1.3 -1.3zM143.78 289.54l1.3 1.3l-1.3 1.3l-1.3 -1.3zM144.59 289.69l1.3 1.3l-1.3 1.3l-1.3 -1.3zM144.7 287.47l1.3 1.3l-1.3 1.3l-1.3 -1.3zM145.47 288.88l1.3 1.3l-1.3 1.3l-1.3 -1.3zM145.95 286.14l1.3 1.3l-1.3 1.3l-1.3 -1.3zM145.98 281.72l1.3 1.3l-1.3 1.3l-1.3 -1.3zM146.57 286.39l1.3 1.3l-1.3 1.3l-1.3 -1.3zM147.11 289.28l1.3 1.3l-1.3 1.3l-1.3 -1.3zM147.32 286.23l1.3 1.3l-1.3 1.3l-1.3 -1.3zM147.66 291.06l1.3 1.3l-1.3 1.3l-1.3 -1.3zM148.55 292.23l1.3 1.3l-1.3 1.3l-1.3 -1.3zM148.74 282.01l1.3 1.3l-1.3 1.3l-1.3 -1.3zM149.28 281.43l1.3 1.3l-1.3 1.3l-1.3 -1.3zM149.97 282.92l1.3 1.3l-1.3 1.3l-1.3 -1.3zM150.23 283.46l1.3 1.3l-1.3 1.3l-1.3 -1.3zM150.54 291.11l1.3 1.3l-1.3 1.3l-1.3 -1.3zM151.05 286.54l1.3 1.3l-1.3 1.3l-1.3 -1.3zM151.58 285.71l1.3 1.3l-1.3 1.3l-1.3 -1.3zM151.95 282.13l1.3 1.3l-1.3 1.3l-1.3 -1.3zM152.27 285.48l1.3 1.3l-1.3 1.3l-1.3 -1.3zM152.54 284.99l1.3 1.3l-1.3 1.3l-1.3 -1.3zM153.16 285.61l1.3 1.3l-1.3 1.3l-1.3 -1.3zM153.69 282.22l1.3 1.3l-1.3 1.3l-1.3 -1.3zM154.31 286.75l1.3 1.3l-1.3 1.3l-1.3 -1.3zM154.7 289.64l1.3 1.3l-1.3 1.3l-1.3 -1.3zM154.98 290.6l1.3 1.3l-1.3 1.3l-1.3 -1.3zM155.07 285.3l1.3 1.3l-1.3 1.3l-1.3 -1.3zM155.52 287.64l1.3 1.3l-1.3 1.3l-1.3 -1.3zM156.23 288.75l1.3 1.3l-1.3 1.3l-1.3 -1.3zM156.87 285.39l1.3 1.3l-1.3 1.3l-1.3 -1.3zM157.2 290.01l1.3 1.3l-1.3 1.3l-1.3 -1.3zM157.58 291.22l1.3 1.3l-1.3 1.3l-1.3 -1.3zM158.21 285.85l1.3 1.3l-1.3 1.3l-1.3 -1.3zM158.29 281.23l1.3 1.3l-1.3 1.3l-1.3 -1.3zM159.01 290.68l1.3 1.3l-1.3 1.3l-1.3 -1.3zM159.22 284.1l1.3 1.3l-1.3 1.3l-1.3 -1.3zM159.85 284.02l1.3 1.3l-1.3 1.3l-1.3 -1.3zM159.86 285.62l1.3 1.3l-1.3 1.3l-1.3 -1.3zM160.31 286.15l1.3 1.3l-1.3 1.3l-1.3 -1.3zM161 287.23l1.3 1.3l-1.3 1.3l-1.3 -1.3zM161.56 282.5l1.3 1.3l-1.3 1.3l-1.3 -1.3zM161.96 284.05l1.3 1.3l-1.3 1.3l-1.3 -1.3zM162.19 280.02l1.3 1.3l-1.3 1.3l-1.3 -1.3zM162.68 285.39l1.3 1.3l-1.3 1.3l-1.3 -1.3zM162.99 288.9l1.3 1.3l-1.3 1.3l-1.3 -1.3zM163.53 282.56l1.3 1.3l-1.3 1.3l-1.3 -1.3zM163.97 280.36l1.3 1.3l-1.3 1.3l-1.3 -1.3zM164.32 283.21l1.3 1.3l-1.3 1.3l-1.3 -1.3zM164.62 285.6l1.3 1.3l-1.3 1.3l-1.3 -1.3zM165.14 289.38l1.3 1.3l-1.3 1.3l-1.3 -1.3zM165.77 285.5l1.3 1.3l-1.3 1.3l-1.3 -1.3zM166.03 286.04l1.3 1.3l-1.3 1.3l-1.3 -1.3zM166.61 284.44l1.3 1.3l-1.3 1.3l-1.3 -1.3zM166.86 284.39l1.3 1.3l-1.3 1.3l-1.3 -1.3zM167.33 281.79l1.3 1.3l-1.3 1.3l-1.3 -1.3zM167.68 281.36l1.3 1.3l-1.3 1.3l-1.3 -1.3zM168.37 276.41l1.3 1.3l-1.3 1.3l-1.3 -1.3zM168.57 279.79l1.3 1.3l-1.3 1.3l-1.3 -1.3zM169.22 276.13l1.3 1.3l-1.3 1.3l-1.3 -1.3zM169.99 273.99l1.3 1.3l-1.3 1.3l-1.3 -1.3zM169.98 275.71l1.3 1.3l-1.3 1.3l-1.3 -1.3zM170.38 273.93l1.3 1.3l-1.3 1.3l-1.3 -1.3zM171.09 269.53l1.3 1.3l-1.3 1.3l-1.3 -1.3zM171.18 270.35l1.3 1.3l-1.3 1.3l-1.3 -1.3zM172.03 266.14l1.3 1.3l-1.3 1.3l-1.3 -1.3zM172.3 268.73l1.3 1.3l-1.3 1.3l-1.3 -1.3zM173.02 261.98l1.3 1.3l-1.3 1.3l-1.3 -1.3zM173.05 263.24l1.3 1.3l-1.3 1.3l-1.3 -1.3zM173.82 257.58l1.3 1.3l-1.3 1.3l-1.3 -1.3zM173.82 257.12l1.3 1.3l-1.3 1.3l-1.3 -1.3zM174.61 258.42l1.3 1.3l-1.3 1.3l-1.3 -1.3zM174.64 255.75l1.3 1.3l-1.3 1.3l-1.3 -1.3zM175.09 255.43l1.3 1.3l-1.3 1.3l-1.3 -1.3zM175.53 253.83l1.3 1.3l-1.3 1.3l-1.3 -1.3zM175.98 248.7l1.3 1.3l-1.3 1.3l-1.3 -1.3zM176.5 244.69l1.3 1.3l-1.3 1.3l-1.3 -1.3zM177.4 240.45l1.3 1.3l-1.3 1.3l-1.3 -1.3zM177.8 245.35l1.3 1.3l-1.3 1.3l-1.3 -1.3zM178.25 247.04l1.3 1.3l-1.3 1.3l-1.3 -1.3zM178.49 244.48l1.3 1.3l-1.3 1.3l-1.3 -1.3zM179.12 244.79l1.3 1.3l-1.3 1.3l-1.3 -1.3zM179.5 244.09l1.3 1.3l-1.3 1.3l-1.3 -1.3zM179.5 239.4l1.3 1.3l-1.3 1.3l-1.3 -1.3zM180.27 244.07l1.3 1.3l-1.3 1.3l-1.3 -1.3zM180.86 245.63l1.3 1.3l-1.3 1.3l-1.3 -1.3zM181.17 248.81l1.3 1.3l-1.3 1.3l-1.3 -1.3zM181.67 234.91l1.3 1.3l-1.3 1.3l-1.3 -1.3zM181.82 238.48l1.3 1.3l-1.3 1.3l-1.3 -1.3zM182.29 243.17l1.3 1.3l-1.3 1.3l-1.3 -1.3zM182.76 250.06l1.3 1.3l-1.3 1.3l-1.3 -1.3zM183.07 247.45l1.3 1.3l-1.3 1.3l-1.3 -1.3zM183.71 249.81l1.3 1.3l-1.3 1.3l-1.3 -1.3zM184.21 241.74l1.3 1.3l-1.3 1.3l-1.3 -1.3zM184.31 246.72l1.3 1.3l-1.3 1.3l-1.3 -1.3zM185.08 249.08l1.3 1.3l-1.3 1.3l-1.3 -1.3zM185.54 245.4l1.3 1.3l-1.3 1.3l-1.3 -1.3zM185.93 246.12l1.3 1.3l-1.3 1.3l-1.3 -1.3zM186.47 245.07l1.3 1.3l-1.3 1.3l-1.3 -1.3zM186.78 248.32l1.3 1.3l-1.3 1.3l-1.3 -1.3zM187.1 238.55l1.3 1.3l-1.3 1.3l-1.3 -1.3zM187.8 240.97l1.3 1.3l-1.3 1.3l-1.3 -1.3zM187.92 238.62l1.3 1.3l-1.3 1.3l-1.3 -1.3zM188.18 233.67l1.3 1.3l-1.3 1.3l-1.3 -1.3zM188.64 241.86l1.3 1.3l-1.3 1.3l-1.3 -1.3zM189.35 235.85l1.3 1.3l-1.3 1.3l-1.3 -1.3zM189.83 232.16l1.3 1.3l-1.3 1.3l-1.3 -1.3zM190.02 231.47l1.3 1.3l-1.3 1.3l-1.3 -1.3zM190.7 225.6l1.3 1.3l-1.3 1.3l-1.3 -1.3zM191.1 224.14l1.3 1.3l-1.3 1.3l-1.3 -1.3zM191.77 218.55l1.3 1.3l-1.3 1.3l-1.3 -1.3zM191.75 215.66l1.3 1.3l-1.3 1.3l-1.3 -1.3zM192.53 212.21l1.3 1.3l-1.3 1.3l-1.3 -1.3zM192.85 213.72l1.3 1.3l-1.3 1.3l-1.3 -1.3zM193.04 209.69l1.3 1.3l-1.3 1.3l-1.3 -1.3zM193.47 216.09l1.3 1.3l-1.3 1.3l-1.3 -1.3zM193.87 214.5l1.3 1.3l-1.3 1.3l-1.3 -1.3zM194.25 213.1l1.3 1.3l-1.3 1.3l-1.3 -1.3zM195.21 209.65l1.3 1.3l-1.3 1.3l-1.3 -1.3zM195.16 207.83l1.3 1.3l-1.3 1.3l-1.3 -1.3zM196.04 209.83l1.3 1.3l-1.3 1.3l-1.3 -1.3zM196.35 206.86l1.3 1.3l-1.3 1.3l-1.3 -1.3zM196.93 205.73l1.3 1.3l-1.3 1.3l-1.3 -1.3zM197.05 206.78l1.3 1.3l-1.3 1.3l-1.3 -1.3zM197.35 207.5l1.3 1.3l-1.3 1.3l-1.3 -1.3zM198.22 205.35l1.3 1.3l-1.3 1.3l-1.3 -1.3zM198.28 206.37l1.3 1.3l-1.3 1.3l-1.3 -1.3zM198.91 205.26l1.3 1.3l-1.3 1.3l-1.3 -1.3zM199.07 210.31l1.3 1.3l-1.3 1.3l-1.3 -1.3zM199.67 209.26l1.3 1.3l-1.3 1.3l-1.3 -1.3zM200.23 210.39l1.3 1.3l-1.3 1.3l-1.3 -1.3zM200.77 207.18l1.3 1.3l-1.3 1.3l-1.3 -1.3zM201.13 212.25l1.3 1.3l-1.3 1.3l-1.3 -1.3zM201.33 206.31l1.3 1.3l-1.3 1.3l-1.3 -1.3zM201.84 218.79l1.3 1.3l-1.3 1.3l-1.3 -1.3zM202.33 215.95l1.3 1.3l-1.3 1.3l-1.3 -1.3zM202.61 215.25l1.3 1.3l-1.3 1.3l-1.3 -1.3zM203.5 215.09l1.3 1.3l-1.3 1.3l-1.3 -1.3zM203.97 211.13l1.3 1.3l-1.3 1.3l-1.3 -1.3zM204.18 219.02l1.3 1.3l-1.3 1.3l-1.3 -1.3zM204.5 215.97l1.3 1.3l-1.3 1.3l-1.3 -1.3zM205.25 222.77l1.3 1.3l-1.3 1.3l-1.3 -1.3zM205.41 214.67l1.3 1.3l-1.3 1.3l-1.3 -1.3zM206.02 210.98l1.3 1.3l-1.3 1.3l-1.3 -1.3zM206.54 222.44l1.3 1.3l-1.3 1.3l-1.3 -1.3zM206.6 220.61l1.3 1.3l-1.3 1.3l-1.3 -1.3zM206.92 218.28l1.3 1.3l-1.3 1.3l-1.3 -1.3zM207.73 216.53l1.3 1.3l-1.3 1.3l-1.3 -1.3zM208.12 219.83l1.3 1.3l-1.3 1.3l-1.3 -1.3zM208.19 217.09l1.3 1.3l-1.3 1.3l-1.3 -1.3zM208.86 213.49l1.3 1.3l-1.3 1.3l-1.3 -1.3zM209.25 214.42l1.3 1.3l-1.3 1.3l-1.3 -1.3zM209.65 209.75l1.3 1.3l-1.3 1.3l-1.3 -1.3zM209.97 212.22l1.3 1.3l-1.3 1.3l-1.3 -1.3zM210.39 215.71l1.3 1.3l-1.3 1.3l-1.3 -1.3zM210.87 213.52l1.3 1.3l-1.3 1.3l-1.3 -1.3zM211.8 207.84l1.3 1.3l-1.3 1.3l-1.3 -1.3zM212.24 212.7l1.3 1.3l-1.3 1.3l-1.3 -1.3zM212.19 209.88l1.3 1.3l-1.3 1.3l-1.3 -1.3zM212.71 207.55l1.3 1.3l-1.3 1.3l-1.3 -1.3zM213.28 210.82l1.3 1.3l-1.3 1.3l-1.3 -1.3zM213.61 211.8l1.3 1.3l-1.3 1.3l-1.3 -1.3zM214.11 208.74l1.3 1.3l-1.3 1.3l-1.3 -1.3zM214.8 210.52l1.3 1.3l-1.3 1.3l-1.3 -1.3zM214.85 208.02l1.3 1.3l-1.3 1.3l-1.3 -1.3zM215.62 210.7l1.3 1.3l-1.3 1.3l-1.3 -1.3zM215.89 209.78l1.3 1.3l-1.3 1.3l-1.3 -1.3zM216.33 209.8l1.3 1.3l-1.3 1.3l-1.3 -1.3zM216.57 210.02l1.3 1.3l-1.3 1.3l-1.3 -1.3zM217.34 202.66l1.3 1.3l-1.3 1.3l-1.3 -1.3zM217.79 209.26l1.3 1.3l-1.3 1.3l-1.3 -1.3zM218.34 210.24l1.3 1.3l-1.3 1.3l-1.3 -1.3zM218.19 209.26l1.3 1.3l-1.3 1.3l-1.3 -1.3zM218.88 208.38l1.3 1.3l-1.3 1.3l-1.3 -1.3zM219.38 209.3l1.3 1.3l-1.3 1.3l-1.3 -1.3zM219.55 208.12l1.3 1.3l-1.3 1.3l-1.3 -1.3zM220.41 210.26l1.3 1.3l-1.3 1.3l-1.3 -1.3zM220.61 208.89l1.3 1.3l-1.3 1.3l-1.3 -1.3zM221.06 209.43l1.3 1.3l-1.3 1.3l-1.3 -1.3zM221.61 206.46l1.3 1.3l-1.3 1.3l-1.3 -1.3zM222.15 203.73l1.3 1.3l-1.3 1.3l-1.3 -1.3zM222.25 210.56l1.3 1.3l-1.3 1.3l-1.3 -1.3zM223.01 211.97l1.3 1.3l-1.3 1.3l-1.3 -1.3zM223.28 210.64l1.3 1.3l-1.3 1.3l-1.3 -1.3zM223.58 206.39l1.3 1.3l-1.3 1.3l-1.3 -1.3zM223.95 211.71l1.3 1.3l-1.3 1.3l-1.3 -1.3zM224.82 209.51l1.3 1.3l-1.3 1.3l-1.3 -1.3zM225.26 205.39l1.3 1.3l-1.3 1.3l-1.3 -1.3zM225.71 208.92l1.3 1.3l-1.3 1.3l-1.3 -1.3zM226.08 206.74l1.3 1.3l-1.3 1.3l-1.3 -1.3zM226.34 206.9l1.3 1.3l-1.3 1.3l-1.3 -1.3zM226.56 209.94l1.3 1.3l-1.3 1.3l-1.3 -1.3zM227.49 212.31l1.3 1.3l-1.3 1.3l-1.3 -1.3zM227.66 207.31l1.3 1.3l-1.3 1.3l-1.3 -1.3zM228.04 209.76l1.3 1.3l-1.3 1.3l-1.3 -1.3zM228.68 202.74l1.3 1.3l-1.3 1.3l-1.3 -1.3zM228.73 209.69l1.3 1.3l-1.3 1.3l-1.3 -1.3zM229.26 206.24l1.3 1.3l-1.3 1.3l-1.3 -1.3zM230.02 207.96l1.3 1.3l-1.3 1.3l-1.3 -1.3zM230.44 211.86l1.3 1.3l-1.3 1.3l-1.3 -1.3zM230.4 207.67l1.3 1.3l-1.3 1.3l-1.3 -1.3zM231.16 205.63l1.3 1.3l-1.3 1.3l-1.3 -1.3zM231.42 207.29l1.3 1.3l-1.3 1.3l-1.3 -1.3zM232.11 209.53l1.3 1.3l-1.3 1.3l-1.3 -1.3zM232.52 208.09l1.3 1.3l-1.3 1.3l-1.3 -1.3zM232.78 202.8l1.3 1.3l-1.3 1.3l-1.3 -1.3zM233.57 207.05l1.3 1.3l-1.3 1.3l-1.3 -1.3zM233.81 210.25l1.3 1.3l-1.3 1.3l-1.3 -1.3zM233.97 214.36l1.3 1.3l-1.3 1.3l-1.3 -1.3zM234.53 210.3l1.3 1.3l-1.3 1.3l-1.3 -1.3zM234.9 206.47l1.3 1.3l-1.3 1.3l-1.3 -1.3zM235.74 210.05l1.3 1.3l-1.3 1.3l-1.3 -1.3zM235.84 207.57l1.3 1.3l-1.3 1.3l-1.3 -1.3zM236.21 209.34l1.3 1.3l-1.3 1.3l-1.3 -1.3zM237.06 209.59l1.3 1.3l-1.3 1.3l-1.3 -1.3zM236.96 208.4l1.3 1.3l-1.3 1.3l-1.3 -1.3zM237.39 209.7l1.3 1.3l-1.3 1.3l-1.3 -1.3zM238.1 207.79l1.3 1.3l-1.3 1.3l-1.3 -1.3z" fill="#2a6591"/>
<path d="M277.75 244.35 L282.81 243.38 L287.88 242.41 L292.94 241.44 L298 240.47 L303.06 239.5 L308.12 238.52 L313.19 237.55 L318.25 236.58 L323.31 235.61 L328.38 234.64 L333.44 233.67 L338.5 232.69 L343.56 231.72 L348.62 230.75 L353.69 229.78 L358.75 228.81 L363.81 227.83 L368.88 226.86 L373.94 225.89 L379 224.92 L384.06 223.95 L389.12 222.98 L394.19 222 L399.25 221.03 L404.31 220.06 L409.38 219.09 L414.44 218.12 L419.5 217.15 L424.56 216.17 L429.62 215.2 L434.69 214.23 L439.75 213.26 L444.81 212.29 L449.88 211.32 L454.94 210.34 L460 209.37 L465.06 208.4 L470.12 207.43 L475.19 206.46 L480.25 205.49" fill="none" stroke="#c0c0c0" stroke-width="0.75"/>
<path d="M333.44 322.67 L338.5 321.69 L343.56 320.72 L348.62 319.75 L353.69 318.78 L358.75 317.81 L363.81 316.83 L368.88 315.86 L373.94 314.89 L379 313.92 L384.06 312.95 L389.12 311.98 L394.19 311 L399.25 310.03 L404.31 309.06 L409.38 308.09 L414.44 307.12 L419.5 306.15 L424.56 305.17 L429.62 304.2 L434.69 303.23 L439.75 302.26 L444.81 301.29 L449.88 300.32 L454.94 299.34 L460 298.37 L465.06 297.4 L470.12 296.43 L475.19 295.46 L480.25 294.49" fill="none" stroke="#c0c0c0" stroke-width="0.75"/>
<path d="M277.75 285.17 L282.81 284.33 L287.88 283.49 L292.94 282.64 L298 281.8 L303.06 280.95 L308.12 280.1 L313.19 279.24 L318.25 278.39 L323.31 277.53 L328.38 276.66 L333.44 275.79 L338.5 274.92 L343.56 274.03 L348.62 273.14 L353.69 272.25 L358.75 271.34 L363.81 270.43 L368.88 269.5 L373.94 268.56 L379 267.61 L384.06 266.65 L389.12 265.67 L394.19 264.68 L399.25 263.68 L404.31 262.67 L409.38 261.65 L414.44 260.61 L419.5 259.57 L424.56 258.52 L429.62 257.46 L434.69 256.39 L439.75 255.32 L444.81 254.25 L449.88 253.16 L454.94 252.08 L460 250.99 L465.06 249.9 L470.12 248.8 L475.19 247.71 L480.25 246.61" fill="none" stroke="#cfcfcf" stroke-width="0.7"/>
<path d="M277.75 292.54 L282.81 291.44 L287.88 290.34 L292.94 289.24 L298 288.14 L303.06 287.04 L308.12 285.95 L313.19 284.86 L318.25 283.77 L323.31 282.69 L328.38 281.61 L333.44 280.54 L338.5 279.47 L343.56 278.41 L348.62 277.35 L353.69 276.31 L358.75 275.27 L363.81 274.24 L368.88 273.23 L373.94 272.22 L379 271.23 L384.06 270.25 L389.12 269.28 L394.19 268.33 L399.25 267.38 L404.31 266.45 L409.38 265.53 L414.44 264.62 L419.5 263.72 L424.56 262.83 L429.62 261.95 L434.69 261.07 L439.75 260.2 L444.81 259.33 L449.88 258.47 L454.94 257.61 L460 256.75 L465.06 255.9 L470.12 255.05 L475.19 254.21 L480.25 253.36" fill="none" stroke="#cfcfcf" stroke-width="0.7"/>
<path d="M277.75 288.85 L282.81 287.88 L287.88 286.91 L292.94 285.94 L298 284.97 L303.06 284 L308.12 283.02 L313.19 282.05 L318.25 281.08 L323.31 280.11 L328.38 279.14 L333.44 278.17 L338.5 277.19 L343.56 276.22 L348.62 275.25 L353.69 274.28 L358.75 273.31 L363.81 272.33 L368.88 271.36 L373.94 270.39 L379 269.42 L384.06 268.45 L389.12 267.48 L394.19 266.5 L399.25 265.53 L404.31 264.56 L409.38 263.59 L414.44 262.62 L419.5 261.65 L424.56 260.67 L429.62 259.7 L434.69 258.73 L439.75 257.76 L444.81 256.79 L449.88 255.82 L454.94 254.84 L460 253.87 L465.06 252.9 L470.12 251.93 L475.19 250.96 L480.25 249.99" fill="none" stroke="#333333" stroke-width="0.85"/>
<path d="M277.75 267.37 L279.44 266.95 L281.12 266.65 L282.81 266.47 L284.5 266.38 L286.19 266.38 L287.88 266.46 L289.56 266.62 L291.25 266.84 L292.94 267.11 L294.62 267.44 L296.31 267.81 L298 268.21 L299.69 268.65 L301.38 269.12 L303.06 269.61 L304.75 270.12 L306.44 270.64 L308.12 271.18 L309.81 271.73 L311.5 272.28 L313.19 272.84 L314.88 273.4 L316.56 273.97 L318.25 274.53 L319.94 275.09 L321.62 275.65 L323.31 276.2 L325 276.75 L326.69 277.29 L328.38 277.83 L330.06 278.36 L331.75 278.88 L333.44 279.4 L335.12 279.91 L336.81 280.41 L338.5 280.9 L340.19 281.39 L341.88 281.87 L343.56 282.34 L345.25 282.8 L346.94 283.25 L348.62 283.7 L350.31 284.14 L352 284.56 L353.69 284.98 L355.38 285.39 L357.06 285.79 L358.75 286.18 L360.44 286.56 L362.12 286.92 L363.81 287.28 L365.5 287.61 L367.19 287.94 L368.88 288.25 L370.56 288.54 L372.25 288.82 L373.94 289.07 L375.62 289.31 L377.31 289.52 L379 289.71 L380.69 289.87 L382.38 290.01 L384.06 290.12 L385.75 290.19 L387.44 290.23 L389.12 290.24 L390.81 290.2 L392.5 290.13 L394.19 290.01 L395.88 289.84 L397.56 289.63 L399.25 289.37 L400.94 289.05 L402.62 288.68 L404.31 288.25 L406 287.75 L407.69 287.2 L409.38 286.57 L411.06 285.88 L412.75 285.11 L414.44 284.27 L416.12 283.35 L417.81 282.35 L419.5 281.27 L421.19 280.1 L422.88 278.85 L424.56 277.51 L426.25 276.08 L427.94 274.56 L429.62 272.94 L431.31 271.23 L433 269.43 L434.69 267.52 L436.38 265.53 L438.06 263.43 L439.75 261.24 L441.44 258.96 L443.12 256.58 L444.81 254.1 L446.5 251.54 L448.19 248.88 L449.88 246.14 L451.56 243.31 L453.25 240.41 L454.94 237.42 L456.62 234.37 L458.31 231.25 L460 228.07 L461.69 224.84 L463.38 221.56 L465.06 218.25 L466.75 214.9 L468.44 211.54 L470.12 208.16 L471.81 204.79 L473.5 201.44 L475.19 198.11 L476.88 194.82 L478.56 191.59 L480.25 188.43" fill="none" stroke="#d44c22" stroke-width="1.3"/>
<path d="M278.09 267.6l1.3 1.3l-1.3 1.3l-1.3 -1.3zM278.72 259.17l1.3 1.3l-1.3 1.3l-1.3 -1.3zM279.03 265.44l1.3 1.3l-1.3 1.3l-1.3 -1.3zM279.3 264.84l1.3 1.3l-1.3 1.3l-1.3 -1.3zM280.02 259.25l1.3 1.3l-1.3 1.3l-1.3 -1.3zM279.96 256.78l1.3 1.3l-1.3 1.3l-1.3 -1.3zM280.61 262.71l1.3 1.3l-1.3 1.3l-1.3 -1.3zM281.11 268.06l1.3 1.3l-1.3 1.3l-1.3 -1.3zM281.21 264.46l1.3 1.3l-1.3 1.3l-1.3 -1.3zM282.18 265.09l1.3 1.3l-1.3 1.3l-1.3 -1.3zM282.53 265.59l1.3 1.3l-1.3 1.3l-1.3 -1.3zM282.59 267.93l1.3 1.3l-1.3 1.3l-1.3 -1.3zM283.31 261.05l1.3 1.3l-1.3 1.3l-1.3 -1.3zM283.9 259.24l1.3 1.3l-1.3 1.3l-1.3 -1.3zM283.94 261.53l1.3 1.3l-1.3 1.3l-1.3 -1.3zM284.77 271.01l1.3 1.3l-1.3 1.3l-1.3 -1.3zM284.86 266.76l1.3 1.3l-1.3 1.3l-1.3 -1.3zM285.52 260.75l1.3 1.3l-1.3 1.3l-1.3 -1.3zM285.68 267.01l1.3 1.3l-1.3 1.3l-1.3 -1.3zM286.57 260.88l1.3 1.3l-1.3 1.3l-1.3 -1.3zM286.96 261.28l1.3 1.3l-1.3 1.3l-1.3 -1.3zM286.96 265.46l1.3 1.3l-1.3 1.3l-1.3 -1.3zM287.38 265.78l1.3 1.3l-1.3 1.3l-1.3 -1.3zM288.09 264.75l1.3 1.3l-1.3 1.3l-1.3 -1.3zM288.17 262.5l1.3 1.3l-1.3 1.3l-1.3 -1.3zM288.79 261.83l1.3 1.3l-1.3 1.3l-1.3 -1.3zM289.53 262.67l1.3 1.3l-1.3 1.3l-1.3 -1.3zM289.76 265.6l1.3 1.3l-1.3 1.3l-1.3 -1.3zM290.33 273.45l1.3 1.3l-1.3 1.3l-1.3 -1.3zM290.35 270.25l1.3 1.3l-1.3 1.3l-1.3 -1.3zM291.23 268.74l1.3 1.3l-1.3 1.3l-1.3 -1.3zM291.68 268.09l1.3 1.3l-1.3 1.3l-1.3 -1.3zM291.87 268.21l1.3 1.3l-1.3 1.3l-1.3 -1.3zM292.11 268.59l1.3 1.3l-1.3 1.3l-1.3 -1.3zM292.63 270.89l1.3 1.3l-1.3 1.3l-1.3 -1.3zM293.41 269.89l1.3 1.3l-1.3 1.3l-1.3 -1.3zM293.95 272.64l1.3 1.3l-1.3 1.3l-1.3 -1.3zM294.04 270.25l1.3 1.3l-1.3 1.3l-1.3 -1.3zM294.57 271.19l1.3 1.3l-1.3 1.3l-1.3 -1.3zM295.14 270.37l1.3 1.3l-1.3 1.3l-1.3 -1.3zM295.61 272.02l1.3 1.3l-1.3 1.3l-1.3 -1.3zM296.13 271.66l1.3 1.3l-1.3 1.3l-1.3 -1.3zM296.05 270.26l1.3 1.3l-1.3 1.3l-1.3 -1.3zM296.99 275.14l1.3 1.3l-1.3 1.3l-1.3 -1.3zM297.07 275.75l1.3 1.3l-1.3 1.3l-1.3 -1.3zM297.49 272.1l1.3 1.3l-1.3 1.3l-1.3 -1.3zM297.93 273.61l1.3 1.3l-1.3 1.3l-1.3 -1.3zM298.26 274.49l1.3 1.3l-1.3 1.3l-1.3 -1.3zM299.02 275.73l1.3 1.3l-1.3 1.3l-1.3 -1.3zM299.07 274.3l1.3 1.3l-1.3 1.3l-1.3 -1.3zM300.07 272.05l1.3 1.3l-1.3 1.3l-1.3 -1.3zM300.06 273.73l1.3 1.3l-1.3 1.3l-1.3 -1.3zM300.71 275.92l1.3 1.3l-1.3 1.3l-1.3 -1.3zM301.04 272.25l1.3 1.3l-1.3 1.3l-1.3 -1.3zM301.26 274.93l1.3 1.3l-1.3 1.3l-1.3 -1.3zM301.95 274.39l1.3 1.3l-1.3 1.3l-1.3 -1.3zM302.6 277.63l1.3 1.3l-1.3 1.3l-1.3 -1.3zM303.1 278.09l1.3 1.3l-1.3 1.3l-1.3 -1.3zM303.34 274.73l1.3 1.3l-1.3 1.3l-1.3 -1.3zM303.66 272l1.3 1.3l-1.3 1.3l-1.3 -1.3zM303.92 273.58l1.3 1.3l-1.3 1.3l-1.3 -1.3zM304.54 269.3l1.3 1.3l-1.3 1.3l-1.3 -1.3zM305.3 273.32l1.3 1.3l-1.3 1.3l-1.3 -1.3zM305.41 263.65l1.3 1.3l-1.3 1.3l-1.3 -1.3zM305.87 266.63l1.3 1.3l-1.3 1.3l-1.3 -1.3zM306.18 263.83l1.3 1.3l-1.3 1.3l-1.3 -1.3zM306.69 266.95l1.3 1.3l-1.3 1.3l-1.3 -1.3zM307.47 266.21l1.3 1.3l-1.3 1.3l-1.3 -1.3zM307.89 261.09l1.3 1.3l-1.3 1.3l-1.3 -1.3zM307.95 260.26l1.3 1.3l-1.3 1.3l-1.3 -1.3zM308.24 260.97l1.3 1.3l-1.3 1.3l-1.3 -1.3zM309.14 264.51l1.3 1.3l-1.3 1.3l-1.3 -1.3zM309.27 261.07l1.3 1.3l-1.3 1.3l-1.3 -1.3zM309.91 252.27l1.3 1.3l-1.3 1.3l-1.3 -1.3zM310.33 255.59l1.3 1.3l-1.3 1.3l-1.3 -1.3zM310.79 253.03l1.3 1.3l-1.3 1.3l-1.3 -1.3zM310.97 250.52l1.3 1.3l-1.3 1.3l-1.3 -1.3zM311.65 257.6l1.3 1.3l-1.3 1.3l-1.3 -1.3zM311.84 262.67l1.3 1.3l-1.3 1.3l-1.3 -1.3zM312.45 258.72l1.3 1.3l-1.3 1.3l-1.3 -1.3zM312.55 257.42l1.3 1.3l-1.3 1.3l-1.3 -1.3zM313.38 260.65l1.3 1.3l-1.3 1.3l-1.3 -1.3zM313.69 263.98l1.3 1.3l-1.3 1.3l-1.3 -1.3zM314.32 260.54l1.3 1.3l-1.3 1.3l-1.3 -1.3zM314.49 261.1l1.3 1.3l-1.3 1.3l-1.3 -1.3zM315.21 262.48l1.3 1.3l-1.3 1.3l-1.3 -1.3zM315.36 269.44l1.3 1.3l-1.3 1.3l-1.3 -1.3zM316 264.92l1.3 1.3l-1.3 1.3l-1.3 -1.3zM316.61 274.19l1.3 1.3l-1.3 1.3l-1.3 -1.3zM316.77 271.54l1.3 1.3l-1.3 1.3l-1.3 -1.3zM316.99 276.39l1.3 1.3l-1.3 1.3l-1.3 -1.3zM317.61 269.37l1.3 1.3l-1.3 1.3l-1.3 -1.3zM318.18 274.29l1.3 1.3l-1.3 1.3l-1.3 -1.3zM318.3 271.23l1.3 1.3l-1.3 1.3l-1.3 -1.3zM319.1 273.23l1.3 1.3l-1.3 1.3l-1.3 -1.3zM319.32 275.46l1.3 1.3l-1.3 1.3l-1.3 -1.3zM319.88 279.69l1.3 1.3l-1.3 1.3l-1.3 -1.3zM320.37 274.89l1.3 1.3l-1.3 1.3l-1.3 -1.3zM320.39 280.13l1.3 1.3l-1.3 1.3l-1.3 -1.3zM321.2 280.46l1.3 1.3l-1.3 1.3l-1.3 -1.3zM321.38 276.16l1.3 1.3l-1.3 1.3l-1.3 -1.3zM321.7 272.88l1.3 1.3l-1.3 1.3l-1.3 -1.3zM322.4 275.16l1.3 1.3l-1.3 1.3l-1.3 -1.3zM322.63 276.04l1.3 1.3l-1.3 1.3l-1.3 -1.3zM323.18 275.12l1.3 1.3l-1.3 1.3l-1.3 -1.3zM323.44 275.53l1.3 1.3l-1.3 1.3l-1.3 -1.3zM324.14 271.77l1.3 1.3l-1.3 1.3l-1.3 -1.3zM324.65 276.78l1.3 1.3l-1.3 1.3l-1.3 -1.3zM324.87 275.2l1.3 1.3l-1.3 1.3l-1.3 -1.3zM325.41 275.23l1.3 1.3l-1.3 1.3l-1.3 -1.3zM325.76 274.39l1.3 1.3l-1.3 1.3l-1.3 -1.3zM326.53 277.15l1.3 1.3l-1.3 1.3l-1.3 -1.3zM326.69 280.76l1.3 1.3l-1.3 1.3l-1.3 -1.3zM326.96 278.8l1.3 1.3l-1.3 1.3l-1.3 -1.3zM327.67 276.56l1.3 1.3l-1.3 1.3l-1.3 -1.3zM328.35 282.9l1.3 1.3l-1.3 1.3l-1.3 -1.3zM328.7 275.44l1.3 1.3l-1.3 1.3l-1.3 -1.3zM329.03 282.98l1.3 1.3l-1.3 1.3l-1.3 -1.3zM329.3 284l1.3 1.3l-1.3 1.3l-1.3 -1.3zM329.85 285.04l1.3 1.3l-1.3 1.3l-1.3 -1.3zM330.52 286.42l1.3 1.3l-1.3 1.3l-1.3 -1.3zM330.6 281.19l1.3 1.3l-1.3 1.3l-1.3 -1.3zM331.36 283.23l1.3 1.3l-1.3 1.3l-1.3 -1.3zM331.6 281.99l1.3 1.3l-1.3 1.3l-1.3 -1.3zM332.06 284.96l1.3 1.3l-1.3 1.3l-1.3 -1.3zM332.66 286.28l1.3 1.3l-1.3 1.3l-1.3 -1.3zM332.79 280.64l1.3 1.3l-1.3 1.3l-1.3 -1.3zM333.17 283.14l1.3 1.3l-1.3 1.3l-1.3 -1.3zM334.02 276.57l1.3 1.3l-1.3 1.3l-1.3 -1.3zM334.42 287.55l1.3 1.3l-1.3 1.3l-1.3 -1.3zM334.66 282.69l1.3 1.3l-1.3 1.3l-1.3 -1.3zM335.04 291.28l1.3 1.3l-1.3 1.3l-1.3 -1.3zM335.42 279.59l1.3 1.3l-1.3 1.3l-1.3 -1.3zM335.9 290.6l1.3 1.3l-1.3 1.3l-1.3 -1.3zM336.22 281.71l1.3 1.3l-1.3 1.3l-1.3 -1.3zM336.85 282.17l1.3 1.3l-1.3 1.3l-1.3 -1.3zM337.18 280.36l1.3 1.3l-1.3 1.3l-1.3 -1.3zM337.85 287.16l1.3 1.3l-1.3 1.3l-1.3 -1.3zM337.79 279.93l1.3 1.3l-1.3 1.3l-1.3 -1.3zM338.78 278.54l1.3 1.3l-1.3 1.3l-1.3 -1.3zM339.12 278.28l1.3 1.3l-1.3 1.3l-1.3 -1.3zM339.18 280.79l1.3 1.3l-1.3 1.3l-1.3 -1.3zM340.12 274.51l1.3 1.3l-1.3 1.3l-1.3 -1.3zM340.25 279.27l1.3 1.3l-1.3 1.3l-1.3 -1.3zM340.78 269.59l1.3 1.3l-1.3 1.3l-1.3 -1.3zM340.9 269.06l1.3 1.3l-1.3 1.3l-1.3 -1.3zM341.72 269.36l1.3 1.3l-1.3 1.3l-1.3 -1.3zM341.9 274.55l1.3 1.3l-1.3 1.3l-1.3 -1.3zM342.32 266.93l1.3 1.3l-1.3 1.3l-1.3 -1.3zM342.79 267.95l1.3 1.3l-1.3 1.3l-1.3 -1.3zM343.45 266.84l1.3 1.3l-1.3 1.3l-1.3 -1.3zM343.59 266.87l1.3 1.3l-1.3 1.3l-1.3 -1.3zM344.15 272.54l1.3 1.3l-1.3 1.3l-1.3 -1.3zM344.64 263.44l1.3 1.3l-1.3 1.3l-1.3 -1.3zM344.76 266.18l1.3 1.3l-1.3 1.3l-1.3 -1.3zM345.53 261.71l1.3 1.3l-1.3 1.3l-1.3 -1.3zM346.04 261.54l1.3 1.3l-1.3 1.3l-1.3 -1.3zM346.6 260.78l1.3 1.3l-1.3 1.3l-1.3 -1.3zM346.72 258.37l1.3 1.3l-1.3 1.3l-1.3 -1.3zM347.04 267.1l1.3 1.3l-1.3 1.3l-1.3 -1.3zM347.54 266.21l1.3 1.3l-1.3 1.3l-1.3 -1.3zM348.3 266.28l1.3 1.3l-1.3 1.3l-1.3 -1.3zM348.65 265.58l1.3 1.3l-1.3 1.3l-1.3 -1.3zM349.13 270.07l1.3 1.3l-1.3 1.3l-1.3 -1.3zM349.65 273.05l1.3 1.3l-1.3 1.3l-1.3 -1.3zM349.87 274.39l1.3 1.3l-1.3 1.3l-1.3 -1.3zM350.27 271.78l1.3 1.3l-1.3 1.3l-1.3 -1.3zM350.76 274.53l1.3 1.3l-1.3 1.3l-1.3 -1.3zM351.33 276.32l1.3 1.3l-1.3 1.3l-1.3 -1.3zM351.77 276.1l1.3 1.3l-1.3 1.3l-1.3 -1.3zM352.19 275.35l1.3 1.3l-1.3 1.3l-1.3 -1.3zM352.58 275.56l1.3 1.3l-1.3 1.3l-1.3 -1.3zM353.17 282.27l1.3 1.3l-1.3 1.3l-1.3 -1.3zM353.05 277.73l1.3 1.3l-1.3 1.3l-1.3 -1.3zM353.96 279.67l1.3 1.3l-1.3 1.3l-1.3 -1.3zM354.46 283.72l1.3 1.3l-1.3 1.3l-1.3 -1.3zM354.75 281.48l1.3 1.3l-1.3 1.3l-1.3 -1.3zM355.31 281.51l1.3 1.3l-1.3 1.3l-1.3 -1.3zM355.29 276.72l1.3 1.3l-1.3 1.3l-1.3 -1.3zM355.73 276.56l1.3 1.3l-1.3 1.3l-1.3 -1.3zM356.44 280.47l1.3 1.3l-1.3 1.3l-1.3 -1.3zM356.73 279.99l1.3 1.3l-1.3 1.3l-1.3 -1.3zM356.98 283.65l1.3 1.3l-1.3 1.3l-1.3 -1.3zM357.82 281.84l1.3 1.3l-1.3 1.3l-1.3 -1.3zM358.33 282.76l1.3 1.3l-1.3 1.3l-1.3 -1.3zM358.43 283.24l1.3 1.3l-1.3 1.3l-1.3 -1.3zM359.04 273.08l1.3 1.3l-1.3 1.3l-1.3 -1.3zM359.34 280.42l1.3 1.3l-1.3 1.3l-1.3 -1.3zM359.58 280.54l1.3 1.3l-1.3 1.3l-1.3 -1.3zM360.36 280.02l1.3 1.3l-1.3 1.3l-1.3 -1.3zM360.72 285.98l1.3 1.3l-1.3 1.3l-1.3 -1.3zM361.23 281l1.3 1.3l-1.3 1.3l-1.3 -1.3zM361.45 280.21l1.3 1.3l-1.3 1.3l-1.3 -1.3zM362.17 282.38l1.3 1.3l-1.3 1.3l-1.3 -1.3zM362.47 285.39l1.3 1.3l-1.3 1.3l-1.3 -1.3zM362.82 286.12l1.3 1.3l-1.3 1.3l-1.3 -1.3zM363.47 286.84l1.3 1.3l-1.3 1.3l-1.3 -1.3zM363.86 289.78l1.3 1.3l-1.3 1.3l-1.3 -1.3zM363.95 284.15l1.3 1.3l-1.3 1.3l-1.3 -1.3zM364.41 282.78l1.3 1.3l-1.3 1.3l-1.3 -1.3zM365.13 284.66l1.3 1.3l-1.3 1.3l-1.3 -1.3zM365.49 292l1.3 1.3l-1.3 1.3l-1.3 -1.3zM365.84 285.87l1.3 1.3l-1.3 1.3l-1.3 -1.3zM366.51 283.95l1.3 1.3l-1.3 1.3l-1.3 -1.3zM366.54 289.83l1.3 1.3l-1.3 1.3l-1.3 -1.3zM367.36 292.9l1.3 1.3l-1.3 1.3l-1.3 -1.3zM367.52 293.35l1.3 1.3l-1.3 1.3l-1.3 -1.3zM368.22 292.67l1.3 1.3l-1.3 1.3l-1.3 -1.3zM368.75 289.4l1.3 1.3l-1.3 1.3l-1.3 -1.3zM368.9 289.58l1.3 1.3l-1.3 1.3l-1.3 -1.3zM369.27 283.38l1.3 1.3l-1.3 1.3l-1.3 -1.3zM369.77 289.19l1.3 1.3l-1.3 1.3l-1.3 -1.3zM370.23 290.23l1.3 1.3l-1.3 1.3l-1.3 -1.3zM370.82 291.09l1.3 1.3l-1.3 1.3l-1.3 -1.3zM371.35 280.33l1.3 1.3l-1.3 1.3l-1.3 -1.3zM371.61 287.53l1.3 1.3l-1.3 1.3l-1.3 -1.3zM372.09 281.1l1.3 1.3l-1.3 1.3l-1.3 -1.3zM372.41 282.79l1.3 1.3l-1.3 1.3l-1.3 -1.3zM372.66 287.74l1.3 1.3l-1.3 1.3l-1.3 -1.3zM373.07 286.94l1.3 1.3l-1.3 1.3l-1.3 -1.3zM374.01 281.45l1.3 1.3l-1.3 1.3l-1.3 -1.3zM373.91 286.51l1.3 1.3l-1.3 1.3l-1.3 -1.3zM374.63 290.35l1.3 1.3l-1.3 1.3l-1.3 -1.3zM375.04 284.96l1.3 1.3l-1.3 1.3l-1.3 -1.3zM375.5 288.55l1.3 1.3l-1.3 1.3l-1.3 -1.3zM375.75 288.77l1.3 1.3l-1.3 1.3l-1.3 -1.3zM376.31 282.99l1.3 1.3l-1.3 1.3l-1.3 -1.3zM376.61 290.88l1.3 1.3l-1.3 1.3l-1.3 -1.3zM377.11 287.36l1.3 1.3l-1.3 1.3l-1.3 -1.3zM377.57 288.8l1.3 1.3l-1.3 1.3l-1.3 -1.3zM377.97 286.19l1.3 1.3l-1.3 1.3l-1.3 -1.3zM378.82 286.3l1.3 1.3l-1.3 1.3l-1.3 -1.3zM378.92 290.86l1.3 1.3l-1.3 1.3l-1.3 -1.3zM379.54 284.71l1.3 1.3l-1.3 1.3l-1.3 -1.3zM379.85 287.17l1.3 1.3l-1.3 1.3l-1.3 -1.3zM380.41 285.14l1.3 1.3l-1.3 1.3l-1.3 -1.3zM380.62 282.86l1.3 1.3l-1.3 1.3l-1.3 -1.3zM380.97 280l1.3 1.3l-1.3 1.3l-1.3 -1.3zM381.43 286.61l1.3 1.3l-1.3 1.3l-1.3 -1.3zM381.79 285.43l1.3 1.3l-1.3 1.3l-1.3 -1.3zM382.42 287.74l1.3 1.3l-1.3 1.3l-1.3 -1.3zM382.8 284.26l1.3 1.3l-1.3 1.3l-1.3 -1.3zM383.33 282.9l1.3 1.3l-1.3 1.3l-1.3 -1.3zM383.92 288.91l1.3 1.3l-1.3 1.3l-1.3 -1.3zM384.02 284.79l1.3 1.3l-1.3 1.3l-1.3 -1.3zM384.92 289.56l1.3 1.3l-1.3 1.3l-1.3 -1.3zM385.18 277.06l1.3 1.3l-1.3 1.3l-1.3 -1.3zM385.23 287.36l1.3 1.3l-1.3 1.3l-1.3 -1.3zM385.7 286.02l1.3 1.3l-1.3 1.3l-1.3 -1.3zM386.13 282.06l1.3 1.3l-1.3 1.3l-1.3 -1.3zM386.86 289.42l1.3 1.3l-1.3 1.3l-1.3 -1.3zM387.18 286.36l1.3 1.3l-1.3 1.3l-1.3 -1.3zM387.46 292.82l1.3 1.3l-1.3 1.3l-1.3 -1.3zM388.14 290.93l1.3 1.3l-1.3 1.3l-1.3 -1.3zM388.84 290.6l1.3 1.3l-1.3 1.3l-1.3 -1.3zM388.74 288.86l1.3 1.3l-1.3 1.3l-1.3 -1.3zM389.38 290.84l1.3 1.3l-1.3 1.3l-1.3 -1.3zM389.83 290.2l1.3 1.3l-1.3 1.3l-1.3 -1.3zM390.2 290.42l1.3 1.3l-1.3 1.3l-1.3 -1.3zM391.04 290.88l1.3 1.3l-1.3 1.3l-1.3 -1.3zM391 287.61l1.3 1.3l-1.3 1.3l-1.3 -1.3zM391.64 290.69l1.3 1.3l-1.3 1.3l-1.3 -1.3zM391.81 290.87l1.3 1.3l-1.3 1.3l-1.3 -1.3zM392.52 293l1.3 1.3l-1.3 1.3l-1.3 -1.3zM393.18 288.01l1.3 1.3l-1.3 1.3l-1.3 -1.3zM393.19 288.48l1.3 1.3l-1.3 1.3l-1.3 -1.3zM393.51 288.74l1.3 1.3l-1.3 1.3l-1.3 -1.3zM394.28 291.31l1.3 1.3l-1.3 1.3l-1.3 -1.3zM394.6 289.49l1.3 1.3l-1.3 1.3l-1.3 -1.3zM395.35 289.49l1.3 1.3l-1.3 1.3l-1.3 -1.3zM395.42 287.76l1.3 1.3l-1.3 1.3l-1.3 -1.3zM395.81 294.01l1.3 1.3l-1.3 1.3l-1.3 -1.3zM396.18 293.05l1.3 1.3l-1.3 1.3l-1.3 -1.3zM397.01 294.72l1.3 1.3l-1.3 1.3l-1.3 -1.3zM397.47 293.21l1.3 1.3l-1.3 1.3l-1.3 -1.3zM397.47 294.86l1.3 1.3l-1.3 1.3l-1.3 -1.3zM398 296.14l1.3 1.3l-1.3 1.3l-1.3 -1.3zM398.63 295.21l1.3 1.3l-1.3 1.3l-1.3 -1.3zM398.87 297.47l1.3 1.3l-1.3 1.3l-1.3 -1.3zM399.19 295.46l1.3 1.3l-1.3 1.3l-1.3 -1.3zM399.71 292.9l1.3 1.3l-1.3 1.3l-1.3 -1.3zM400.09 295.58l1.3 1.3l-1.3 1.3l-1.3 -1.3zM400.72 291.57l1.3 1.3l-1.3 1.3l-1.3 -1.3zM401.23 296.78l1.3 1.3l-1.3 1.3l-1.3 -1.3zM401.87 290.74l1.3 1.3l-1.3 1.3l-1.3 -1.3zM402.11 288.59l1.3 1.3l-1.3 1.3l-1.3 -1.3zM402.47 293.47l1.3 1.3l-1.3 1.3l-1.3 -1.3zM403.21 288.53l1.3 1.3l-1.3 1.3l-1.3 -1.3zM403.51 290.73l1.3 1.3l-1.3 1.3l-1.3 -1.3zM404 289.37l1.3 1.3l-1.3 1.3l-1.3 -1.3zM404.18 291.99l1.3 1.3l-1.3 1.3l-1.3 -1.3zM404.48 292.3l1.3 1.3l-1.3 1.3l-1.3 -1.3zM404.97 290.26l1.3 1.3l-1.3 1.3l-1.3 -1.3zM405.29 288.74l1.3 1.3l-1.3 1.3l-1.3 -1.3zM406.14 289.62l1.3 1.3l-1.3 1.3l-1.3 -1.3zM406.15 290.23l1.3 1.3l-1.3 1.3l-1.3 -1.3zM406.64 286.65l1.3 1.3l-1.3 1.3l-1.3 -1.3zM407.56 294.19l1.3 1.3l-1.3 1.3l-1.3 -1.3zM407.79 290.98l1.3 1.3l-1.3 1.3l-1.3 -1.3zM408.08 293.2l1.3 1.3l-1.3 1.3l-1.3 -1.3zM408.5 294.2l1.3 1.3l-1.3 1.3l-1.3 -1.3zM409.23 290.4l1.3 1.3l-1.3 1.3l-1.3 -1.3zM409.6 292.48l1.3 1.3l-1.3 1.3l-1.3 -1.3zM409.71 291.8l1.3 1.3l-1.3 1.3l-1.3 -1.3zM410.47 282.56l1.3 1.3l-1.3 1.3l-1.3 -1.3zM410.95 290.14l1.3 1.3l-1.3 1.3l-1.3 -1.3zM410.98 286.17l1.3 1.3l-1.3 1.3l-1.3 -1.3zM411.62 294.57l1.3 1.3l-1.3 1.3l-1.3 -1.3zM412.04 284.95l1.3 1.3l-1.3 1.3l-1.3 -1.3zM412.78 290.32l1.3 1.3l-1.3 1.3l-1.3 -1.3zM412.97 293.28l1.3 1.3l-1.3 1.3l-1.3 -1.3zM413.15 288.99l1.3 1.3l-1.3 1.3l-1.3 -1.3zM414.01 288.41l1.3 1.3l-1.3 1.3l-1.3 -1.3zM414.54 289.76l1.3 1.3l-1.3 1.3l-1.3 -1.3zM414.41 286.36l1.3 1.3l-1.3 1.3l-1.3 -1.3zM415.36 287.5l1.3 1.3l-1.3 1.3l-1.3 -1.3zM415.5 289.81l1.3 1.3l-1.3 1.3l-1.3 -1.3zM415.82 292.08l1.3 1.3l-1.3 1.3l-1.3 -1.3zM416.47 286.95l1.3 1.3l-1.3 1.3l-1.3 -1.3zM416.71 293.17l1.3 1.3l-1.3 1.3l-1.3 -1.3zM417.21 290.31l1.3 1.3l-1.3 1.3l-1.3 -1.3zM417.94 297.31l1.3 1.3l-1.3 1.3l-1.3 -1.3zM418.38 288.69l1.3 1.3l-1.3 1.3l-1.3 -1.3zM418.4 287.59l1.3 1.3l-1.3 1.3l-1.3 -1.3zM419.24 288.61l1.3 1.3l-1.3 1.3l-1.3 -1.3zM419.28 289.59l1.3 1.3l-1.3 1.3l-1.3 -1.3zM419.67 288.48l1.3 1.3l-1.3 1.3l-1.3 -1.3zM420.17 283.75l1.3 1.3l-1.3 1.3l-1.3 -1.3zM420.96 286.99l1.3 1.3l-1.3 1.3l-1.3 -1.3zM421.44 292.94l1.3 1.3l-1.3 1.3l-1.3 -1.3zM421.73 291l1.3 1.3l-1.3 1.3l-1.3 -1.3zM421.8 287.41l1.3 1.3l-1.3 1.3l-1.3 -1.3zM422.53 287.89l1.3 1.3l-1.3 1.3l-1.3 -1.3zM422.9 288.54l1.3 1.3l-1.3 1.3l-1.3 -1.3zM423.29 291.82l1.3 1.3l-1.3 1.3l-1.3 -1.3zM423.76 290.41l1.3 1.3l-1.3 1.3l-1.3 -1.3zM424.25 289.02l1.3 1.3l-1.3 1.3l-1.3 -1.3zM424.99 287l1.3 1.3l-1.3 1.3l-1.3 -1.3zM425.33 292.96l1.3 1.3l-1.3 1.3l-1.3 -1.3zM425.68 288.29l1.3 1.3l-1.3 1.3l-1.3 -1.3zM426.03 290.23l1.3 1.3l-1.3 1.3l-1.3 -1.3zM426.5 286.97l1.3 1.3l-1.3 1.3l-1.3 -1.3zM426.99 286.43l1.3 1.3l-1.3 1.3l-1.3 -1.3zM427.06 288.22l1.3 1.3l-1.3 1.3l-1.3 -1.3zM427.5 286.28l1.3 1.3l-1.3 1.3l-1.3 -1.3zM428.34 290.39l1.3 1.3l-1.3 1.3l-1.3 -1.3zM428.75 285.84l1.3 1.3l-1.3 1.3l-1.3 -1.3zM428.92 293.04l1.3 1.3l-1.3 1.3l-1.3 -1.3zM429.62 291.86l1.3 1.3l-1.3 1.3l-1.3 -1.3zM430.03 289.31l1.3 1.3l-1.3 1.3l-1.3 -1.3zM430.64 288.35l1.3 1.3l-1.3 1.3l-1.3 -1.3zM431 281.58l1.3 1.3l-1.3 1.3l-1.3 -1.3zM431.38 280.6l1.3 1.3l-1.3 1.3l-1.3 -1.3zM431.68 279.9l1.3 1.3l-1.3 1.3l-1.3 -1.3zM432.34 279.49l1.3 1.3l-1.3 1.3l-1.3 -1.3zM432.56 285.51l1.3 1.3l-1.3 1.3l-1.3 -1.3zM432.91 280.8l1.3 1.3l-1.3 1.3l-1.3 -1.3zM433.22 276.45l1.3 1.3l-1.3 1.3l-1.3 -1.3zM433.94 277.81l1.3 1.3l-1.3 1.3l-1.3 -1.3zM434.35 268.56l1.3 1.3l-1.3 1.3l-1.3 -1.3zM434.65 272.81l1.3 1.3l-1.3 1.3l-1.3 -1.3zM435.18 270.65l1.3 1.3l-1.3 1.3l-1.3 -1.3zM435.71 261.74l1.3 1.3l-1.3 1.3l-1.3 -1.3zM435.85 268.1l1.3 1.3l-1.3 1.3l-1.3 -1.3zM436.34 262.53l1.3 1.3l-1.3 1.3l-1.3 -1.3zM437.13 262.61l1.3 1.3l-1.3 1.3l-1.3 -1.3zM437.13 256.36l1.3 1.3l-1.3 1.3l-1.3 -1.3zM437.6 252.99l1.3 1.3l-1.3 1.3l-1.3 -1.3zM437.93 250.04l1.3 1.3l-1.3 1.3l-1.3 -1.3zM438.86 248.57l1.3 1.3l-1.3 1.3l-1.3 -1.3zM439.2 247.25l1.3 1.3l-1.3 1.3l-1.3 -1.3zM439.52 251.13l1.3 1.3l-1.3 1.3l-1.3 -1.3zM440.18 247.16l1.3 1.3l-1.3 1.3l-1.3 -1.3zM440.44 250.41l1.3 1.3l-1.3 1.3l-1.3 -1.3zM441.09 246.62l1.3 1.3l-1.3 1.3l-1.3 -1.3zM441.01 246.92l1.3 1.3l-1.3 1.3l-1.3 -1.3zM441.72 242.94l1.3 1.3l-1.3 1.3l-1.3 -1.3zM441.93 242.84l1.3 1.3l-1.3 1.3l-1.3 -1.3zM442.61 239.58l1.3 1.3l-1.3 1.3l-1.3 -1.3zM443.12 237.2l1.3 1.3l-1.3 1.3l-1.3 -1.3zM443.16 233.4l1.3 1.3l-1.3 1.3l-1.3 -1.3zM444.13 243.08l1.3 1.3l-1.3 1.3l-1.3 -1.3zM444.18 248.25l1.3 1.3l-1.3 1.3l-1.3 -1.3zM444.98 239l1.3 1.3l-1.3 1.3l-1.3 -1.3zM445 240.32l1.3 1.3l-1.3 1.3l-1.3 -1.3zM445.58 235.07l1.3 1.3l-1.3 1.3l-1.3 -1.3zM445.79 244.46l1.3 1.3l-1.3 1.3l-1.3 -1.3zM446.22 247.79l1.3 1.3l-1.3 1.3l-1.3 -1.3zM446.69 244.2l1.3 1.3l-1.3 1.3l-1.3 -1.3zM447.49 243.54l1.3 1.3l-1.3 1.3l-1.3 -1.3zM447.91 247.46l1.3 1.3l-1.3 1.3l-1.3 -1.3zM448.34 237.92l1.3 1.3l-1.3 1.3l-1.3 -1.3zM448.9 247.54l1.3 1.3l-1.3 1.3l-1.3 -1.3zM449.36 242.16l1.3 1.3l-1.3 1.3l-1.3 -1.3zM449.28 243.88l1.3 1.3l-1.3 1.3l-1.3 -1.3zM449.77 241.36l1.3 1.3l-1.3 1.3l-1.3 -1.3zM450.31 231.97l1.3 1.3l-1.3 1.3l-1.3 -1.3zM450.97 231.45l1.3 1.3l-1.3 1.3l-1.3 -1.3zM451 227.97l1.3 1.3l-1.3 1.3l-1.3 -1.3zM451.62 227.71l1.3 1.3l-1.3 1.3l-1.3 -1.3zM451.9 222.22l1.3 1.3l-1.3 1.3l-1.3 -1.3zM452.67 217.44l1.3 1.3l-1.3 1.3l-1.3 -1.3zM452.99 224.35l1.3 1.3l-1.3 1.3l-1.3 -1.3zM453.17 217.21l1.3 1.3l-1.3 1.3l-1.3 -1.3zM454.02 214.94l1.3 1.3l-1.3 1.3l-1.3 -1.3zM454.07 213.01l1.3 1.3l-1.3 1.3l-1.3 -1.3zM454.72 210.45l1.3 1.3l-1.3 1.3l-1.3 -1.3zM455.42 215.52l1.3 1.3l-1.3 1.3l-1.3 -1.3zM455.54 212.09l1.3 1.3l-1.3 1.3l-1.3 -1.3zM456.16 215.13l1.3 1.3l-1.3 1.3l-1.3 -1.3zM456.65 210.32l1.3 1.3l-1.3 1.3l-1.3 -1.3zM456.82 210.53l1.3 1.3l-1.3 1.3l-1.3 -1.3zM457.56 210.37l1.3 1.3l-1.3 1.3l-1.3 -1.3zM457.74 211.07l1.3 1.3l-1.3 1.3l-1.3 -1.3zM458.06 210.6l1.3 1.3l-1.3 1.3l-1.3 -1.3zM458.52 209.95l1.3 1.3l-1.3 1.3l-1.3 -1.3zM458.85 203.7l1.3 1.3l-1.3 1.3l-1.3 -1.3zM459.55 211.14l1.3 1.3l-1.3 1.3l-1.3 -1.3zM459.89 212.45l1.3 1.3l-1.3 1.3l-1.3 -1.3zM460.31 211.37l1.3 1.3l-1.3 1.3l-1.3 -1.3zM461.02 216.75l1.3 1.3l-1.3 1.3l-1.3 -1.3zM461.18 213.16l1.3 1.3l-1.3 1.3l-1.3 -1.3zM461.41 212.62l1.3 1.3l-1.3 1.3l-1.3 -1.3zM462.07 215.99l1.3 1.3l-1.3 1.3l-1.3 -1.3zM462.58 215.62l1.3 1.3l-1.3 1.3l-1.3 -1.3zM463.29 215.09l1.3 1.3l-1.3 1.3l-1.3 -1.3zM463.41 213.34l1.3 1.3l-1.3 1.3l-1.3 -1.3zM463.74 214.87l1.3 1.3l-1.3 1.3l-1.3 -1.3zM464.59 214.85l1.3 1.3l-1.3 1.3l-1.3 -1.3zM464.48 212.78l1.3 1.3l-1.3 1.3l-1.3 -1.3zM465.12 216.92l1.3 1.3l-1.3 1.3l-1.3 -1.3zM465.67 214.89l1.3 1.3l-1.3 1.3l-1.3 -1.3zM466.3 215.88l1.3 1.3l-1.3 1.3l-1.3 -1.3zM466.21 215.08l1.3 1.3l-1.3 1.3l-1.3 -1.3zM466.64 218.98l1.3 1.3l-1.3 1.3l-1.3 -1.3zM467.58 216.48l1.3 1.3l-1.3 1.3l-1.3 -1.3zM467.99 220.8l1.3 1.3l-1.3 1.3l-1.3 -1.3zM468.53 217.5l1.3 1.3l-1.3 1.3l-1.3 -1.3zM468.82 219.36l1.3 1.3l-1.3 1.3l-1.3 -1.3zM469.27 217.19l1.3 1.3l-1.3 1.3l-1.3 -1.3zM469.49 224.91l1.3 1.3l-1.3 1.3l-1.3 -1.3zM469.8 217.15l1.3 1.3l-1.3 1.3l-1.3 -1.3zM470.36 216.72l1.3 1.3l-1.3 1.3l-1.3 -1.3zM470.71 219.85l1.3 1.3l-1.3 1.3l-1.3 -1.3zM471.38 217.93l1.3 1.3l-1.3 1.3l-1.3 -1.3zM471.69 217.4l1.3 1.3l-1.3 1.3l-1.3 -1.3zM471.89 211.8l1.3 1.3l-1.3 1.3l-1.3 -1.3zM472.81 218.18l1.3 1.3l-1.3 1.3l-1.3 -1.3zM472.84 220.37l1.3 1.3l-1.3 1.3l-1.3 -1.3zM473.73 215.38l1.3 1.3l-1.3 1.3l-1.3 -1.3zM473.95 215.26l1.3 1.3l-1.3 1.3l-1.3 -1.3zM474.58 214.84l1.3 1.3l-1.3 1.3l-1.3 -1.3zM475.02 214.64l1.3 1.3l-1.3 1.3l-1.3 -1.3zM475.15 213.33l1.3 1.3l-1.3 1.3l-1.3 -1.3zM475.49 212.86l1.3 1.3l-1.3 1.3l-1.3 -1.3zM476.23 210.13l1.3 1.3l-1.3 1.3l-1.3 -1.3zM476.29 205.63l1.3 1.3l-1.3 1.3l-1.3 -1.3zM477.06 210.8l1.3 1.3l-1.3 1.3l-1.3 -1.3zM477.12 215.38l1.3 1.3l-1.3 1.3l-1.3 -1.3zM477.73 215.58l1.3 1.3l-1.3 1.3l-1.3 -1.3zM478.16 209.62l1.3 1.3l-1.3 1.3l-1.3 -1.3zM478.96 212.73l1.3 1.3l-1.3 1.3l-1.3 -1.3zM478.96 210.8l1.3 1.3l-1.3 1.3l-1.3 -1.3zM479.57 211.54l1.3 1.3l-1.3 1.3l-1.3 -1.3zM480.12 214.58l1.3 1.3l-1.3 1.3l-1.3 -1.3z" fill="#2a6591"/>
<path d="M33.5 408.62 L38.61 408.52 L43.72 408.41 L48.83 408.31 L53.94 408.21 L59.05 408.1 L64.16 408 L69.27 407.89 L74.38 407.79 L79.49 407.68 L84.6 407.58 L89.71 407.48 L94.82 407.37 L99.93 407.27 L105.04 407.16 L110.15 407.06 L115.26 406.96 L120.37 406.85 L125.48 406.75 L130.59 406.64 L135.7 406.54 L140.81 406.44 L145.92 406.33 L151.03 406.23 L156.14 406.12 L161.25 406.02 L166.36 405.91 L171.47 405.81 L176.58 405.71 L181.69 405.6 L186.8 405.5 L191.91 405.39 L197.02 405.29 L202.13 405.19 L207.24 405.08 L212.35 404.98 L217.46 404.87 L222.57 404.77 L227.68 404.66 L232.79 404.56 L237.9 404.46" fill="none" stroke="#c0c0c0" stroke-width="0.75"/>
<path d="M" fill="none" stroke="#c0c0c0" stroke-width="0.75"/>
<path d="M33.5 453.52 L38.61 453.55 L43.72 453.57 L48.83 453.59 L53.94 453.61 L59.05 453.62 L64.16 453.63 L69.27 453.63 L74.38 453.62 L79.49 453.61 L84.6 453.59 L89.71 453.56 L94.82 453.52 L99.93 453.47 L105.04 453.41 L110.15 453.34 L115.26 453.25 L120.37 453.15 L125.48 453.04 L130.59 452.92 L135.7 452.78 L140.81 452.63 L145.92 452.47 L151.03 452.3 L156.14 452.12 L161.25 451.93 L166.36 451.73 L171.47 451.53 L176.58 451.32 L181.69 451.1 L186.8 450.88 L191.91 450.66 L197.02 450.43 L202.13 450.19 L207.24 449.96 L212.35 449.72 L217.46 449.48 L222.57 449.23 L227.68 448.99 L232.79 448.74 L237.9 448.49" fill="none" stroke="#cfcfcf" stroke-width="0.7"/>
<path d="M33.5 460.73 L38.61 460.49 L43.72 460.26 L48.83 460.03 L53.94 459.8 L59.05 459.58 L64.16 459.37 L69.27 459.16 L74.38 458.95 L79.49 458.76 L84.6 458.57 L89.71 458.39 L94.82 458.22 L99.93 458.07 L105.04 457.92 L110.15 457.78 L115.26 457.66 L120.37 457.55 L125.48 457.46 L130.59 457.37 L135.7 457.3 L140.81 457.24 L145.92 457.19 L151.03 457.15 L156.14 457.13 L161.25 457.11 L166.36 457.09 L171.47 457.09 L176.58 457.09 L181.69 457.1 L186.8 457.11 L191.91 457.13 L197.02 457.15 L202.13 457.18 L207.24 457.2 L212.35 457.24 L217.46 457.27 L222.57 457.31 L227.68 457.34 L232.79 457.38 L237.9 457.43" fill="none" stroke="#cfcfcf" stroke-width="0.7"/>
<path d="M33.5 457.12 L38.61 457.02 L43.72 456.91 L48.83 456.81 L53.94 456.71 L59.05 456.6 L64.16 456.5 L69.27 456.39 L74.38 456.29 L79.49 456.18 L84.6 456.08 L89.71 455.98 L94.82 455.87 L99.93 455.77 L105.04 455.66 L110.15 455.56 L115.26 455.46 L120.37 455.35 L125.48 455.25 L130.59 455.14 L135.7 455.04 L140.81 454.94 L145.92 454.83 L151.03 454.73 L156.14 454.62 L161.25 454.52 L166.36 454.41 L171.47 454.31 L176.58 454.21 L181.69 454.1 L186.8 454 L191.91 453.89 L197.02 453.79 L202.13 453.69 L207.24 453.58 L212.35 453.48 L217.46 453.37 L222.57 453.27 L227.68 453.16 L232.79 453.06 L237.9 452.96" fill="none" stroke="#333333" stroke-width="0.85"/>
<path d="M33.5 455.01 L35.2 453.4 L36.91 451.91 L38.61 450.52 L40.31 449.25 L42.02 448.08 L43.72 447.01 L45.42 446.05 L47.13 445.18 L48.83 444.41 L50.53 443.74 L52.24 443.15 L53.94 442.65 L55.64 442.25 L57.35 441.92 L59.05 441.67 L60.75 441.51 L62.46 441.42 L64.16 441.4 L65.86 441.46 L67.57 441.59 L69.27 441.78 L70.97 442.03 L72.68 442.35 L74.38 442.73 L76.08 443.16 L77.79 443.65 L79.49 444.18 L81.19 444.77 L82.9 445.41 L84.6 446.09 L86.3 446.81 L88.01 447.57 L89.71 448.36 L91.41 449.19 L93.12 450.06 L94.82 450.95 L96.52 451.87 L98.23 452.81 L99.93 453.78 L101.63 454.76 L103.34 455.76 L105.04 456.78 L106.74 457.81 L108.45 458.85 L110.15 459.89 L111.85 460.94 L113.56 461.99 L115.26 463.04 L116.96 464.09 L118.67 465.13 L120.37 466.17 L122.07 467.2 L123.78 468.21 L125.48 469.21 L127.18 470.19 L128.89 471.15 L130.59 472.08 L132.29 472.99 L134 473.88 L135.7 474.73 L137.4 475.55 L139.11 476.34 L140.81 477.09 L142.51 477.8 L144.22 478.47 L145.92 479.09 L147.62 479.66 L149.33 480.19 L151.03 480.66 L152.73 481.08 L154.44 481.44 L156.14 481.74 L157.84 481.98 L159.55 482.15 L161.25 482.26 L162.95 482.3 L164.66 482.26 L166.36 482.15 L168.06 481.97 L169.77 481.7 L171.47 481.35 L173.17 480.92 L174.88 480.4 L176.58 479.79 L178.28 479.09 L179.99 478.3 L181.69 477.4 L183.39 476.41 L185.1 475.32 L186.8 474.12 L188.5 472.82 L190.21 471.4 L191.91 469.88 L193.61 468.24 L195.32 466.48 L197.02 464.6 L198.72 462.61 L200.43 460.49 L202.13 458.24 L203.83 455.86 L205.54 453.35 L207.24 450.71 L208.94 447.93 L210.65 445.02 L212.35 441.96 L214.05 438.75 L215.76 435.4 L217.46 431.91 L219.16 428.26 L220.87 424.45 L222.57 420.49 L224.27 416.37 L225.98 412.09 L227.68 407.65 L229.38 403.04 L231.09 398.26 L232.79 393.31 L234.49 388.19 L236.2 382.89 L237.9 377.41" fill="none" stroke="#d44c22" stroke-width="1.3"/>
<path d="M33.91 443.06l1.3 1.3l-1.3 1.3l-1.3 -1.3zM34.2 444.79l1.3 1.3l-1.3 1.3l-1.3 -1.3zM34.91 439.06l1.3 1.3l-1.3 1.3l-1.3 -1.3zM35.33 440.03l1.3 1.3l-1.3 1.3l-1.3 -1.3zM35.48 437.69l1.3 1.3l-1.3 1.3l-1.3 -1.3zM35.95 439.16l1.3 1.3l-1.3 1.3l-1.3 -1.3zM36.58 438.57l1.3 1.3l-1.3 1.3l-1.3 -1.3zM36.9 435.23l1.3 1.3l-1.3 1.3l-1.3 -1.3zM37.57 440.31l1.3 1.3l-1.3 1.3l-1.3 -1.3zM37.87 433.97l1.3 1.3l-1.3 1.3l-1.3 -1.3zM38.65 440.88l1.3 1.3l-1.3 1.3l-1.3 -1.3zM38.68 436.77l1.3 1.3l-1.3 1.3l-1.3 -1.3zM39.02 435.79l1.3 1.3l-1.3 1.3l-1.3 -1.3zM39.86 436.19l1.3 1.3l-1.3 1.3l-1.3 -1.3zM39.91 428.83l1.3 1.3l-1.3 1.3l-1.3 -1.3zM40.46 430.36l1.3 1.3l-1.3 1.3l-1.3 -1.3zM41 435.08l1.3 1.3l-1.3 1.3l-1.3 -1.3zM41.23 435.15l1.3 1.3l-1.3 1.3l-1.3 -1.3zM41.95 432.38l1.3 1.3l-1.3 1.3l-1.3 -1.3zM42.33 437.11l1.3 1.3l-1.3 1.3l-1.3 -1.3zM42.69 434.55l1.3 1.3l-1.3 1.3l-1.3 -1.3zM43.27 444.05l1.3 1.3l-1.3 1.3l-1.3 -1.3zM43.43 434.37l1.3 1.3l-1.3 1.3l-1.3 -1.3zM44.25 436.95l1.3 1.3l-1.3 1.3l-1.3 -1.3zM44.59 437.99l1.3 1.3l-1.3 1.3l-1.3 -1.3zM44.66 451.86l1.3 1.3l-1.3 1.3l-1.3 -1.3zM45.28 445.48l1.3 1.3l-1.3 1.3l-1.3 -1.3zM45.75 443.65l1.3 1.3l-1.3 1.3l-1.3 -1.3zM45.92 442.69l1.3 1.3l-1.3 1.3l-1.3 -1.3zM46.67 442.43l1.3 1.3l-1.3 1.3l-1.3 -1.3zM47.29 446.48l1.3 1.3l-1.3 1.3l-1.3 -1.3zM47.56 455.5l1.3 1.3l-1.3 1.3l-1.3 -1.3zM47.98 444.27l1.3 1.3l-1.3 1.3l-1.3 -1.3zM48.64 452.69l1.3 1.3l-1.3 1.3l-1.3 -1.3zM48.79 450.9l1.3 1.3l-1.3 1.3l-1.3 -1.3zM49.36 449.7l1.3 1.3l-1.3 1.3l-1.3 -1.3zM49.76 457.98l1.3 1.3l-1.3 1.3l-1.3 -1.3zM49.98 451.29l1.3 1.3l-1.3 1.3l-1.3 -1.3zM50.47 449.81l1.3 1.3l-1.3 1.3l-1.3 -1.3zM50.96 448.94l1.3 1.3l-1.3 1.3l-1.3 -1.3zM51.21 450.48l1.3 1.3l-1.3 1.3l-1.3 -1.3zM52.01 450.11l1.3 1.3l-1.3 1.3l-1.3 -1.3zM52.06 449.22l1.3 1.3l-1.3 1.3l-1.3 -1.3zM52.94 452.46l1.3 1.3l-1.3 1.3l-1.3 -1.3zM52.9 444.2l1.3 1.3l-1.3 1.3l-1.3 -1.3zM53.82 448.79l1.3 1.3l-1.3 1.3l-1.3 -1.3zM54.21 449.56l1.3 1.3l-1.3 1.3l-1.3 -1.3zM54.41 444.77l1.3 1.3l-1.3 1.3l-1.3 -1.3zM54.81 453.34l1.3 1.3l-1.3 1.3l-1.3 -1.3zM55.12 439.8l1.3 1.3l-1.3 1.3l-1.3 -1.3zM55.57 444.05l1.3 1.3l-1.3 1.3l-1.3 -1.3zM56.19 446.17l1.3 1.3l-1.3 1.3l-1.3 -1.3zM56.69 442.73l1.3 1.3l-1.3 1.3l-1.3 -1.3zM57.02 442.1l1.3 1.3l-1.3 1.3l-1.3 -1.3zM57.42 431.24l1.3 1.3l-1.3 1.3l-1.3 -1.3zM58.05 433.64l1.3 1.3l-1.3 1.3l-1.3 -1.3zM58.38 432.99l1.3 1.3l-1.3 1.3l-1.3 -1.3zM58.54 433.09l1.3 1.3l-1.3 1.3l-1.3 -1.3zM59.48 438.16l1.3 1.3l-1.3 1.3l-1.3 -1.3zM59.85 427.57l1.3 1.3l-1.3 1.3l-1.3 -1.3zM60.05 433.49l1.3 1.3l-1.3 1.3l-1.3 -1.3zM60.63 436.9l1.3 1.3l-1.3 1.3l-1.3 -1.3zM60.72 439.04l1.3 1.3l-1.3 1.3l-1.3 -1.3zM61.21 437.82l1.3 1.3l-1.3 1.3l-1.3 -1.3zM61.75 437.27l1.3 1.3l-1.3 1.3l-1.3 -1.3zM62.08 437.51l1.3 1.3l-1.3 1.3l-1.3 -1.3zM62.48 437.38l1.3 1.3l-1.3 1.3l-1.3 -1.3zM63.38 440.21l1.3 1.3l-1.3 1.3l-1.3 -1.3zM63.66 441.88l1.3 1.3l-1.3 1.3l-1.3 -1.3zM63.93 442.75l1.3 1.3l-1.3 1.3l-1.3 -1.3zM64.38 446.39l1.3 1.3l-1.3 1.3l-1.3 -1.3zM65.19 446.46l1.3 1.3l-1.3 1.3l-1.3 -1.3zM65.31 438.11l1.3 1.3l-1.3 1.3l-1.3 -1.3zM65.53 438.96l1.3 1.3l-1.3 1.3l-1.3 -1.3zM66.11 438.1l1.3 1.3l-1.3 1.3l-1.3 -1.3zM66.43 448.25l1.3 1.3l-1.3 1.3l-1.3 -1.3zM66.78 447.07l1.3 1.3l-1.3 1.3l-1.3 -1.3zM67.29 440.56l1.3 1.3l-1.3 1.3l-1.3 -1.3zM67.97 448.21l1.3 1.3l-1.3 1.3l-1.3 -1.3zM68.66 445.95l1.3 1.3l-1.3 1.3l-1.3 -1.3zM69.03 444.26l1.3 1.3l-1.3 1.3l-1.3 -1.3zM69.16 442.1l1.3 1.3l-1.3 1.3l-1.3 -1.3zM69.48 446.68l1.3 1.3l-1.3 1.3l-1.3 -1.3zM70.28 443.56l1.3 1.3l-1.3 1.3l-1.3 -1.3zM70.45 449.68l1.3 1.3l-1.3 1.3l-1.3 -1.3zM71.27 458.18l1.3 1.3l-1.3 1.3l-1.3 -1.3zM71.63 454.69l1.3 1.3l-1.3 1.3l-1.3 -1.3zM72 444.76l1.3 1.3l-1.3 1.3l-1.3 -1.3zM72.12 446.54l1.3 1.3l-1.3 1.3l-1.3 -1.3zM72.44 450.29l1.3 1.3l-1.3 1.3l-1.3 -1.3zM72.87 450.89l1.3 1.3l-1.3 1.3l-1.3 -1.3zM73.71 455.01l1.3 1.3l-1.3 1.3l-1.3 -1.3zM74.3 443.83l1.3 1.3l-1.3 1.3l-1.3 -1.3zM74.76 454.39l1.3 1.3l-1.3 1.3l-1.3 -1.3zM75.17 451.18l1.3 1.3l-1.3 1.3l-1.3 -1.3zM75.17 454.68l1.3 1.3l-1.3 1.3l-1.3 -1.3zM75.59 454.87l1.3 1.3l-1.3 1.3l-1.3 -1.3zM76.44 459.12l1.3 1.3l-1.3 1.3l-1.3 -1.3zM76.84 448.65l1.3 1.3l-1.3 1.3l-1.3 -1.3zM77.25 453.84l1.3 1.3l-1.3 1.3l-1.3 -1.3zM77.26 449.12l1.3 1.3l-1.3 1.3l-1.3 -1.3zM78.11 446.06l1.3 1.3l-1.3 1.3l-1.3 -1.3zM78.53 450.73l1.3 1.3l-1.3 1.3l-1.3 -1.3zM78.98 454.48l1.3 1.3l-1.3 1.3l-1.3 -1.3zM79.15 458.17l1.3 1.3l-1.3 1.3l-1.3 -1.3zM79.62 445.47l1.3 1.3l-1.3 1.3l-1.3 -1.3zM80.06 460.21l1.3 1.3l-1.3 1.3l-1.3 -1.3zM80.35 454.36l1.3 1.3l-1.3 1.3l-1.3 -1.3zM80.76 460.99l1.3 1.3l-1.3 1.3l-1.3 -1.3zM81.6 464.17l1.3 1.3l-1.3 1.3l-1.3 -1.3zM81.64 462.59l1.3 1.3l-1.3 1.3l-1.3 -1.3zM82.38 444.45l1.3 1.3l-1.3 1.3l-1.3 -1.3zM82.64 449.21l1.3 1.3l-1.3 1.3l-1.3 -1.3zM82.87 450.62l1.3 1.3l-1.3 1.3l-1.3 -1.3zM83.88 445.06l1.3 1.3l-1.3 1.3l-1.3 -1.3zM84.29 442.04l1.3 1.3l-1.3 1.3l-1.3 -1.3zM84.43 450.99l1.3 1.3l-1.3 1.3l-1.3 -1.3zM84.73 439.86l1.3 1.3l-1.3 1.3l-1.3 -1.3zM85.19 441.68l1.3 1.3l-1.3 1.3l-1.3 -1.3zM85.82 444.44l1.3 1.3l-1.3 1.3l-1.3 -1.3zM86.06 438.41l1.3 1.3l-1.3 1.3l-1.3 -1.3zM86.89 438.11l1.3 1.3l-1.3 1.3l-1.3 -1.3zM86.99 429.39l1.3 1.3l-1.3 1.3l-1.3 -1.3zM87.75 434.04l1.3 1.3l-1.3 1.3l-1.3 -1.3zM87.9 439.05l1.3 1.3l-1.3 1.3l-1.3 -1.3zM88.4 427.32l1.3 1.3l-1.3 1.3l-1.3 -1.3zM88.83 436.9l1.3 1.3l-1.3 1.3l-1.3 -1.3zM89.06 432.42l1.3 1.3l-1.3 1.3l-1.3 -1.3zM89.39 432.6l1.3 1.3l-1.3 1.3l-1.3 -1.3zM90.1 428.79l1.3 1.3l-1.3 1.3l-1.3 -1.3zM90.69 427.58l1.3 1.3l-1.3 1.3l-1.3 -1.3zM91 431l1.3 1.3l-1.3 1.3l-1.3 -1.3zM91.46 435.9l1.3 1.3l-1.3 1.3l-1.3 -1.3zM91.89 435.31l1.3 1.3l-1.3 1.3l-1.3 -1.3zM92.14 437l1.3 1.3l-1.3 1.3l-1.3 -1.3zM92.73 448.2l1.3 1.3l-1.3 1.3l-1.3 -1.3zM93.2 444.8l1.3 1.3l-1.3 1.3l-1.3 -1.3zM93.56 437.73l1.3 1.3l-1.3 1.3l-1.3 -1.3zM94.1 441.99l1.3 1.3l-1.3 1.3l-1.3 -1.3zM94.58 448.57l1.3 1.3l-1.3 1.3l-1.3 -1.3zM94.87 446.46l1.3 1.3l-1.3 1.3l-1.3 -1.3zM95.6 452.36l1.3 1.3l-1.3 1.3l-1.3 -1.3zM95.89 461.75l1.3 1.3l-1.3 1.3l-1.3 -1.3zM96.06 449.54l1.3 1.3l-1.3 1.3l-1.3 -1.3zM96.68 464.34l1.3 1.3l-1.3 1.3l-1.3 -1.3zM96.86 456.15l1.3 1.3l-1.3 1.3l-1.3 -1.3zM97.28 457.48l1.3 1.3l-1.3 1.3l-1.3 -1.3zM97.79 461.38l1.3 1.3l-1.3 1.3l-1.3 -1.3zM98.13 457.57l1.3 1.3l-1.3 1.3l-1.3 -1.3zM99.05 452.54l1.3 1.3l-1.3 1.3l-1.3 -1.3zM99.04 457.46l1.3 1.3l-1.3 1.3l-1.3 -1.3zM99.47 452.59l1.3 1.3l-1.3 1.3l-1.3 -1.3zM100.35 459.71l1.3 1.3l-1.3 1.3l-1.3 -1.3zM100.83 456.69l1.3 1.3l-1.3 1.3l-1.3 -1.3zM100.93 446.17l1.3 1.3l-1.3 1.3l-1.3 -1.3zM101.63 455.67l1.3 1.3l-1.3 1.3l-1.3 -1.3zM101.66 451.76l1.3 1.3l-1.3 1.3l-1.3 -1.3zM102.2 457.25l1.3 1.3l-1.3 1.3l-1.3 -1.3zM102.55 453.18l1.3 1.3l-1.3 1.3l-1.3 -1.3zM102.88 460.94l1.3 1.3l-1.3 1.3l-1.3 -1.3zM103.63 455.05l1.3 1.3l-1.3 1.3l-1.3 -1.3zM103.93 455.04l1.3 1.3l-1.3 1.3l-1.3 -1.3zM104.54 454.69l1.3 1.3l-1.3 1.3l-1.3 -1.3zM105.2 457.54l1.3 1.3l-1.3 1.3l-1.3 -1.3zM105.51 460.71l1.3 1.3l-1.3 1.3l-1.3 -1.3zM105.63 458.99l1.3 1.3l-1.3 1.3l-1.3 -1.3zM105.93 460.49l1.3 1.3l-1.3 1.3l-1.3 -1.3zM106.42 457.68l1.3 1.3l-1.3 1.3l-1.3 -1.3zM107.03 469.57l1.3 1.3l-1.3 1.3l-1.3 -1.3zM107.37 459.38l1.3 1.3l-1.3 1.3l-1.3 -1.3zM107.74 468l1.3 1.3l-1.3 1.3l-1.3 -1.3zM108.5 461.45l1.3 1.3l-1.3 1.3l-1.3 -1.3zM108.57 470.13l1.3 1.3l-1.3 1.3l-1.3 -1.3zM109.21 467.67l1.3 1.3l-1.3 1.3l-1.3 -1.3zM109.43 471.03l1.3 1.3l-1.3 1.3l-1.3 -1.3zM110.3 463.12l1.3 1.3l-1.3 1.3l-1.3 -1.3zM110.31 465.47l1.3 1.3l-1.3 1.3l-1.3 -1.3zM111.21 463.21l1.3 1.3l-1.3 1.3l-1.3 -1.3zM111.4 461.16l1.3 1.3l-1.3 1.3l-1.3 -1.3zM112.12 468.38l1.3 1.3l-1.3 1.3l-1.3 -1.3zM112.16 468.45l1.3 1.3l-1.3 1.3l-1.3 -1.3zM112.58 468.48l1.3 1.3l-1.3 1.3l-1.3 -1.3zM112.93 465.34l1.3 1.3l-1.3 1.3l-1.3 -1.3zM113.42 465.17l1.3 1.3l-1.3 1.3l-1.3 -1.3zM113.93 461.6l1.3 1.3l-1.3 1.3l-1.3 -1.3zM114.35 469.59l1.3 1.3l-1.3 1.3l-1.3 -1.3zM114.91 465.72l1.3 1.3l-1.3 1.3l-1.3 -1.3zM115.05 466.83l1.3 1.3l-1.3 1.3l-1.3 -1.3zM115.63 469.86l1.3 1.3l-1.3 1.3l-1.3 -1.3zM116.24 464.11l1.3 1.3l-1.3 1.3l-1.3 -1.3zM116.46 453.24l1.3 1.3l-1.3 1.3l-1.3 -1.3zM116.85 462.2l1.3 1.3l-1.3 1.3l-1.3 -1.3zM117.71 456l1.3 1.3l-1.3 1.3l-1.3 -1.3zM118.15 459.26l1.3 1.3l-1.3 1.3l-1.3 -1.3zM118.32 449.83l1.3 1.3l-1.3 1.3l-1.3 -1.3zM119.11 450.51l1.3 1.3l-1.3 1.3l-1.3 -1.3zM119.16 455.66l1.3 1.3l-1.3 1.3l-1.3 -1.3zM119.77 440.72l1.3 1.3l-1.3 1.3l-1.3 -1.3zM120.07 444.17l1.3 1.3l-1.3 1.3l-1.3 -1.3zM120.34 446.94l1.3 1.3l-1.3 1.3l-1.3 -1.3zM120.74 444.26l1.3 1.3l-1.3 1.3l-1.3 -1.3zM121.23 437.86l1.3 1.3l-1.3 1.3l-1.3 -1.3zM121.62 447.89l1.3 1.3l-1.3 1.3l-1.3 -1.3zM122.4 428.62l1.3 1.3l-1.3 1.3l-1.3 -1.3zM122.6 437.71l1.3 1.3l-1.3 1.3l-1.3 -1.3zM123.15 445.63l1.3 1.3l-1.3 1.3l-1.3 -1.3zM123.4 437.37l1.3 1.3l-1.3 1.3l-1.3 -1.3zM124.32 444.76l1.3 1.3l-1.3 1.3l-1.3 -1.3zM124.76 441.22l1.3 1.3l-1.3 1.3l-1.3 -1.3zM125.19 445.26l1.3 1.3l-1.3 1.3l-1.3 -1.3zM125.23 446.8l1.3 1.3l-1.3 1.3l-1.3 -1.3zM125.71 450.42l1.3 1.3l-1.3 1.3l-1.3 -1.3zM126.2 450.72l1.3 1.3l-1.3 1.3l-1.3 -1.3zM126.65 456.03l1.3 1.3l-1.3 1.3l-1.3 -1.3zM126.79 457.12l1.3 1.3l-1.3 1.3l-1.3 -1.3zM127.46 460.39l1.3 1.3l-1.3 1.3l-1.3 -1.3zM127.68 462.19l1.3 1.3l-1.3 1.3l-1.3 -1.3zM128.23 460.23l1.3 1.3l-1.3 1.3l-1.3 -1.3zM128.88 453.75l1.3 1.3l-1.3 1.3l-1.3 -1.3zM129.35 457.83l1.3 1.3l-1.3 1.3l-1.3 -1.3zM129.82 462.56l1.3 1.3l-1.3 1.3l-1.3 -1.3zM130.02 457.94l1.3 1.3l-1.3 1.3l-1.3 -1.3zM130.85 464.07l1.3 1.3l-1.3 1.3l-1.3 -1.3zM131.08 466.53l1.3 1.3l-1.3 1.3l-1.3 -1.3zM131.16 466.06l1.3 1.3l-1.3 1.3l-1.3 -1.3zM131.94 454.12l1.3 1.3l-1.3 1.3l-1.3 -1.3zM132.44 461.27l1.3 1.3l-1.3 1.3l-1.3 -1.3zM132.75 459.21l1.3 1.3l-1.3 1.3l-1.3 -1.3zM133.18 465.8l1.3 1.3l-1.3 1.3l-1.3 -1.3zM133.8 454.99l1.3 1.3l-1.3 1.3l-1.3 -1.3zM134.09 467.17l1.3 1.3l-1.3 1.3l-1.3 -1.3zM134.59 458.31l1.3 1.3l-1.3 1.3l-1.3 -1.3zM134.75 464.72l1.3 1.3l-1.3 1.3l-1.3 -1.3zM135.26 463.8l1.3 1.3l-1.3 1.3l-1.3 -1.3zM135.55 466.85l1.3 1.3l-1.3 1.3l-1.3 -1.3zM136.29 458.21l1.3 1.3l-1.3 1.3l-1.3 -1.3zM136.73 460.5l1.3 1.3l-1.3 1.3l-1.3 -1.3zM136.79 457.69l1.3 1.3l-1.3 1.3l-1.3 -1.3zM137.7 463.8l1.3 1.3l-1.3 1.3l-1.3 -1.3zM137.98 458.09l1.3 1.3l-1.3 1.3l-1.3 -1.3zM138.49 473.17l1.3 1.3l-1.3 1.3l-1.3 -1.3zM138.68 470.67l1.3 1.3l-1.3 1.3l-1.3 -1.3zM139.01 465.73l1.3 1.3l-1.3 1.3l-1.3 -1.3zM139.52 475.92l1.3 1.3l-1.3 1.3l-1.3 -1.3zM140.28 475.2l1.3 1.3l-1.3 1.3l-1.3 -1.3zM140.5 467.09l1.3 1.3l-1.3 1.3l-1.3 -1.3zM140.99 463.04l1.3 1.3l-1.3 1.3l-1.3 -1.3zM141.51 457.57l1.3 1.3l-1.3 1.3l-1.3 -1.3zM141.96 468.93l1.3 1.3l-1.3 1.3l-1.3 -1.3zM142.16 469.3l1.3 1.3l-1.3 1.3l-1.3 -1.3zM142.89 465.65l1.3 1.3l-1.3 1.3l-1.3 -1.3zM142.88 474.43l1.3 1.3l-1.3 1.3l-1.3 -1.3zM143.35 468.03l1.3 1.3l-1.3 1.3l-1.3 -1.3zM144.16 476.51l1.3 1.3l-1.3 1.3l-1.3 -1.3zM144.59 468.08l1.3 1.3l-1.3 1.3l-1.3 -1.3zM144.89 474.88l1.3 1.3l-1.3 1.3l-1.3 -1.3zM145.33 478.24l1.3 1.3l-1.3 1.3l-1.3 -1.3zM145.6 478.24l1.3 1.3l-1.3 1.3l-1.3 -1.3zM146.51 472.4l1.3 1.3l-1.3 1.3l-1.3 -1.3zM146.63 470.28l1.3 1.3l-1.3 1.3l-1.3 -1.3zM147.28 476.32l1.3 1.3l-1.3 1.3l-1.3 -1.3zM147.39 470.8l1.3 1.3l-1.3 1.3l-1.3 -1.3zM147.79 474.63l1.3 1.3l-1.3 1.3l-1.3 -1.3zM148.44 471.5l1.3 1.3l-1.3 1.3l-1.3 -1.3zM148.61 460.57l1.3 1.3l-1.3 1.3l-1.3 -1.3zM149.04 469.17l1.3 1.3l-1.3 1.3l-1.3 -1.3zM149.89 461.48l1.3 1.3l-1.3 1.3l-1.3 -1.3zM150.26 469.35l1.3 1.3l-1.3 1.3l-1.3 -1.3zM150.41 475.33l1.3 1.3l-1.3 1.3l-1.3 -1.3zM150.72 468.33l1.3 1.3l-1.3 1.3l-1.3 -1.3zM151.14 465.02l1.3 1.3l-1.3 1.3l-1.3 -1.3zM151.75 469.38l1.3 1.3l-1.3 1.3l-1.3 -1.3zM152.09 467.24l1.3 1.3l-1.3 1.3l-1.3 -1.3zM152.95 471.81l1.3 1.3l-1.3 1.3l-1.3 -1.3zM152.88 469.32l1.3 1.3l-1.3 1.3l-1.3 -1.3zM153.39 459.39l1.3 1.3l-1.3 1.3l-1.3 -1.3zM154.3 463.72l1.3 1.3l-1.3 1.3l-1.3 -1.3zM154.36 456.93l1.3 1.3l-1.3 1.3l-1.3 -1.3zM154.84 454.48l1.3 1.3l-1.3 1.3l-1.3 -1.3zM155.41 475.19l1.3 1.3l-1.3 1.3l-1.3 -1.3zM155.7 463.93l1.3 1.3l-1.3 1.3l-1.3 -1.3zM155.95 467.09l1.3 1.3l-1.3 1.3l-1.3 -1.3zM156.42 467.44l1.3 1.3l-1.3 1.3l-1.3 -1.3zM157.35 461.61l1.3 1.3l-1.3 1.3l-1.3 -1.3zM157.38 463.6l1.3 1.3l-1.3 1.3l-1.3 -1.3zM157.78 469.96l1.3 1.3l-1.3 1.3l-1.3 -1.3zM158.32 474.59l1.3 1.3l-1.3 1.3l-1.3 -1.3zM159.02 463.07l1.3 1.3l-1.3 1.3l-1.3 -1.3zM159.35 473.52l1.3 1.3l-1.3 1.3l-1.3 -1.3zM159.73 459.64l1.3 1.3l-1.3 1.3l-1.3 -1.3zM160.27 470.5l1.3 1.3l-1.3 1.3l-1.3 -1.3zM160.54 467.14l1.3 1.3l-1.3 1.3l-1.3 -1.3zM161.16 461.94l1.3 1.3l-1.3 1.3l-1.3 -1.3zM161.17 460.5l1.3 1.3l-1.3 1.3l-1.3 -1.3zM162.13 467.76l1.3 1.3l-1.3 1.3l-1.3 -1.3zM162.22 468.91l1.3 1.3l-1.3 1.3l-1.3 -1.3zM162.62 464.68l1.3 1.3l-1.3 1.3l-1.3 -1.3zM163.04 452.85l1.3 1.3l-1.3 1.3l-1.3 -1.3zM163.71 461.99l1.3 1.3l-1.3 1.3l-1.3 -1.3zM163.99 471.08l1.3 1.3l-1.3 1.3l-1.3 -1.3zM164.29 468.63l1.3 1.3l-1.3 1.3l-1.3 -1.3zM165.16 470.32l1.3 1.3l-1.3 1.3l-1.3 -1.3zM165.35 470.22l1.3 1.3l-1.3 1.3l-1.3 -1.3zM166.09 480.2l1.3 1.3l-1.3 1.3l-1.3 -1.3zM166.2 474.01l1.3 1.3l-1.3 1.3l-1.3 -1.3zM166.41 474.11l1.3 1.3l-1.3 1.3l-1.3 -1.3zM167 476.41l1.3 1.3l-1.3 1.3l-1.3 -1.3zM167.38 476.77l1.3 1.3l-1.3 1.3l-1.3 -1.3zM168.01 482.11l1.3 1.3l-1.3 1.3l-1.3 -1.3zM168.35 473.58l1.3 1.3l-1.3 1.3l-1.3 -1.3zM168.78 473.27l1.3 1.3l-1.3 1.3l-1.3 -1.3zM169.17 476.91l1.3 1.3l-1.3 1.3l-1.3 -1.3zM169.44 476.5l1.3 1.3l-1.3 1.3l-1.3 -1.3zM169.91 489.2l1.3 1.3l-1.3 1.3l-1.3 -1.3zM170.58 475.92l1.3 1.3l-1.3 1.3l-1.3 -1.3zM170.84 473.8l1.3 1.3l-1.3 1.3l-1.3 -1.3zM171.31 479.91l1.3 1.3l-1.3 1.3l-1.3 -1.3zM171.85 485.44l1.3 1.3l-1.3 1.3l-1.3 -1.3zM172.59 487.17l1.3 1.3l-1.3 1.3l-1.3 -1.3zM172.46 475.93l1.3 1.3l-1.3 1.3l-1.3 -1.3zM172.9 478.84l1.3 1.3l-1.3 1.3l-1.3 -1.3zM173.6 473.26l1.3 1.3l-1.3 1.3l-1.3 -1.3zM174.11 484.83l1.3 1.3l-1.3 1.3l-1.3 -1.3zM174.74 482.66l1.3 1.3l-1.3 1.3l-1.3 -1.3zM175.12 489.03l1.3 1.3l-1.3 1.3l-1.3 -1.3zM175.21 474.83l1.3 1.3l-1.3 1.3l-1.3 -1.3zM175.56 484.06l1.3 1.3l-1.3 1.3l-1.3 -1.3zM176.34 486.86l1.3 1.3l-1.3 1.3l-1.3 -1.3zM176.93 482.3l1.3 1.3l-1.3 1.3l-1.3 -1.3zM177.26 476.81l1.3 1.3l-1.3 1.3l-1.3 -1.3zM177.51 480.54l1.3 1.3l-1.3 1.3l-1.3 -1.3zM178.14 481.59l1.3 1.3l-1.3 1.3l-1.3 -1.3zM178.24 487.19l1.3 1.3l-1.3 1.3l-1.3 -1.3zM178.72 479.96l1.3 1.3l-1.3 1.3l-1.3 -1.3zM179.05 481.51l1.3 1.3l-1.3 1.3l-1.3 -1.3zM179.83 487.25l1.3 1.3l-1.3 1.3l-1.3 -1.3zM179.91 486.83l1.3 1.3l-1.3 1.3l-1.3 -1.3zM180.63 484.15l1.3 1.3l-1.3 1.3l-1.3 -1.3zM180.94 482.46l1.3 1.3l-1.3 1.3l-1.3 -1.3zM181.15 486.63l1.3 1.3l-1.3 1.3l-1.3 -1.3zM181.76 471.75l1.3 1.3l-1.3 1.3l-1.3 -1.3zM182.4 481.53l1.3 1.3l-1.3 1.3l-1.3 -1.3zM182.98 477.22l1.3 1.3l-1.3 1.3l-1.3 -1.3zM183.03 479.97l1.3 1.3l-1.3 1.3l-1.3 -1.3zM183.9 478.31l1.3 1.3l-1.3 1.3l-1.3 -1.3zM183.77 475.91l1.3 1.3l-1.3 1.3l-1.3 -1.3zM184.49 476.39l1.3 1.3l-1.3 1.3l-1.3 -1.3zM184.78 474.5l1.3 1.3l-1.3 1.3l-1.3 -1.3zM185.46 480.07l1.3 1.3l-1.3 1.3l-1.3 -1.3zM185.52 477.05l1.3 1.3l-1.3 1.3l-1.3 -1.3zM186.13 472.15l1.3 1.3l-1.3 1.3l-1.3 -1.3zM186.48 479.68l1.3 1.3l-1.3 1.3l-1.3 -1.3zM187.28 477.37l1.3 1.3l-1.3 1.3l-1.3 -1.3zM187.36 472.59l1.3 1.3l-1.3 1.3l-1.3 -1.3zM188.25 473.6l1.3 1.3l-1.3 1.3l-1.3 -1.3zM188.24 483.52l1.3 1.3l-1.3 1.3l-1.3 -1.3zM188.67 478.21l1.3 1.3l-1.3 1.3l-1.3 -1.3zM189.55 473.63l1.3 1.3l-1.3 1.3l-1.3 -1.3zM189.71 477.4l1.3 1.3l-1.3 1.3l-1.3 -1.3zM190.09 479.42l1.3 1.3l-1.3 1.3l-1.3 -1.3zM190.68 479.13l1.3 1.3l-1.3 1.3l-1.3 -1.3zM190.95 476.18l1.3 1.3l-1.3 1.3l-1.3 -1.3zM191.28 478.6l1.3 1.3l-1.3 1.3l-1.3 -1.3zM191.61 476.34l1.3 1.3l-1.3 1.3l-1.3 -1.3zM192.05 469.53l1.3 1.3l-1.3 1.3l-1.3 -1.3zM192.98 480.45l1.3 1.3l-1.3 1.3l-1.3 -1.3zM193.33 486.03l1.3 1.3l-1.3 1.3l-1.3 -1.3zM193.52 477.35l1.3 1.3l-1.3 1.3l-1.3 -1.3zM193.87 482.28l1.3 1.3l-1.3 1.3l-1.3 -1.3zM194.21 474.19l1.3 1.3l-1.3 1.3l-1.3 -1.3zM195.03 472.62l1.3 1.3l-1.3 1.3l-1.3 -1.3zM195.26 477.88l1.3 1.3l-1.3 1.3l-1.3 -1.3zM195.6 479.18l1.3 1.3l-1.3 1.3l-1.3 -1.3zM196.14 476.07l1.3 1.3l-1.3 1.3l-1.3 -1.3zM196.94 482.82l1.3 1.3l-1.3 1.3l-1.3 -1.3zM196.93 483.74l1.3 1.3l-1.3 1.3l-1.3 -1.3zM197.45 479.73l1.3 1.3l-1.3 1.3l-1.3 -1.3zM197.93 469.04l1.3 1.3l-1.3 1.3l-1.3 -1.3zM198.14 470.32l1.3 1.3l-1.3 1.3l-1.3 -1.3zM199.09 474.81l1.3 1.3l-1.3 1.3l-1.3 -1.3zM199.09 469.21l1.3 1.3l-1.3 1.3l-1.3 -1.3zM199.43 480.44l1.3 1.3l-1.3 1.3l-1.3 -1.3zM200.09 478.16l1.3 1.3l-1.3 1.3l-1.3 -1.3zM200.31 469l1.3 1.3l-1.3 1.3l-1.3 -1.3zM200.74 482.15l1.3 1.3l-1.3 1.3l-1.3 -1.3zM201.31 479.38l1.3 1.3l-1.3 1.3l-1.3 -1.3zM202.03 478.54l1.3 1.3l-1.3 1.3l-1.3 -1.3zM202.18 473.76l1.3 1.3l-1.3 1.3l-1.3 -1.3zM203.03 473.2l1.3 1.3l-1.3 1.3l-1.3 -1.3zM203.32 473.38l1.3 1.3l-1.3 1.3l-1.3 -1.3zM203.52 475.21l1.3 1.3l-1.3 1.3l-1.3 -1.3zM204.21 475.72l1.3 1.3l-1.3 1.3l-1.3 -1.3zM204.75 469.63l1.3 1.3l-1.3 1.3l-1.3 -1.3zM204.65 468.25l1.3 1.3l-1.3 1.3l-1.3 -1.3zM205.21 465.65l1.3 1.3l-1.3 1.3l-1.3 -1.3zM206.07 473.61l1.3 1.3l-1.3 1.3l-1.3 -1.3zM206.17 473.51l1.3 1.3l-1.3 1.3l-1.3 -1.3zM206.67 476.59l1.3 1.3l-1.3 1.3l-1.3 -1.3zM207.36 474.09l1.3 1.3l-1.3 1.3l-1.3 -1.3zM207.68 475.38l1.3 1.3l-1.3 1.3l-1.3 -1.3zM208.17 469.23l1.3 1.3l-1.3 1.3l-1.3 -1.3zM208.31 463.67l1.3 1.3l-1.3 1.3l-1.3 -1.3zM208.74 461.89l1.3 1.3l-1.3 1.3l-1.3 -1.3zM209.03 466.49l1.3 1.3l-1.3 1.3l-1.3 -1.3zM209.53 460.43l1.3 1.3l-1.3 1.3l-1.3 -1.3zM209.89 455.52l1.3 1.3l-1.3 1.3l-1.3 -1.3zM210.3 451.61l1.3 1.3l-1.3 1.3l-1.3 -1.3zM211.31 444.99l1.3 1.3l-1.3 1.3l-1.3 -1.3zM211.68 446.34l1.3 1.3l-1.3 1.3l-1.3 -1.3zM211.64 444.64l1.3 1.3l-1.3 1.3l-1.3 -1.3zM212.08 437.57l1.3 1.3l-1.3 1.3l-1.3 -1.3zM212.73 438.35l1.3 1.3l-1.3 1.3l-1.3 -1.3zM213.03 433.35l1.3 1.3l-1.3 1.3l-1.3 -1.3zM213.73 435.5l1.3 1.3l-1.3 1.3l-1.3 -1.3zM214.21 434.33l1.3 1.3l-1.3 1.3l-1.3 -1.3zM214.27 427.31l1.3 1.3l-1.3 1.3l-1.3 -1.3zM215.14 425.64l1.3 1.3l-1.3 1.3l-1.3 -1.3zM215.29 431.17l1.3 1.3l-1.3 1.3l-1.3 -1.3zM215.95 426.22l1.3 1.3l-1.3 1.3l-1.3 -1.3zM216.09 427.18l1.3 1.3l-1.3 1.3l-1.3 -1.3zM216.46 427.24l1.3 1.3l-1.3 1.3l-1.3 -1.3zM217 418.94l1.3 1.3l-1.3 1.3l-1.3 -1.3zM217.48 425.78l1.3 1.3l-1.3 1.3l-1.3 -1.3zM217.82 421.06l1.3 1.3l-1.3 1.3l-1.3 -1.3zM218.6 411.37l1.3 1.3l-1.3 1.3l-1.3 -1.3zM218.61 407.23l1.3 1.3l-1.3 1.3l-1.3 -1.3zM219.27 420.31l1.3 1.3l-1.3 1.3l-1.3 -1.3zM219.97 409.16l1.3 1.3l-1.3 1.3l-1.3 -1.3zM219.88 415.63l1.3 1.3l-1.3 1.3l-1.3 -1.3zM220.4 418.98l1.3 1.3l-1.3 1.3l-1.3 -1.3zM221.31 405.52l1.3 1.3l-1.3 1.3l-1.3 -1.3zM221.38 407.97l1.3 1.3l-1.3 1.3l-1.3 -1.3zM222.11 409.54l1.3 1.3l-1.3 1.3l-1.3 -1.3zM222.49 415.08l1.3 1.3l-1.3 1.3l-1.3 -1.3zM223.03 420.14l1.3 1.3l-1.3 1.3l-1.3 -1.3zM223.27 419.61l1.3 1.3l-1.3 1.3l-1.3 -1.3zM223.46 413l1.3 1.3l-1.3 1.3l-1.3 -1.3zM223.89 416.07l1.3 1.3l-1.3 1.3l-1.3 -1.3zM224.35 407.88l1.3 1.3l-1.3 1.3l-1.3 -1.3zM224.76 408.31l1.3 1.3l-1.3 1.3l-1.3 -1.3zM225.08 409.04l1.3 1.3l-1.3 1.3l-1.3 -1.3zM225.62 419.31l1.3 1.3l-1.3 1.3l-1.3 -1.3zM226.13 416.04l1.3 1.3l-1.3 1.3l-1.3 -1.3zM226.7 420.69l1.3 1.3l-1.3 1.3l-1.3 -1.3zM226.85 416.98l1.3 1.3l-1.3 1.3l-1.3 -1.3zM227.58 409.95l1.3 1.3l-1.3 1.3l-1.3 -1.3zM228.06 404.81l1.3 1.3l-1.3 1.3l-1.3 -1.3zM228.53 399.66l1.3 1.3l-1.3 1.3l-1.3 -1.3zM228.8 395.06l1.3 1.3l-1.3 1.3l-1.3 -1.3zM229.56 394.12l1.3 1.3l-1.3 1.3l-1.3 -1.3zM229.61 387.57l1.3 1.3l-1.3 1.3l-1.3 -1.3zM230.1 385.97l1.3 1.3l-1.3 1.3l-1.3 -1.3zM230.81 387.84l1.3 1.3l-1.3 1.3l-1.3 -1.3zM230.84 384.57l1.3 1.3l-1.3 1.3l-1.3 -1.3zM231.6 380.59l1.3 1.3l-1.3 1.3l-1.3 -1.3zM232.14 379.12l1.3 1.3l-1.3 1.3l-1.3 -1.3zM232.28 380.02l1.3 1.3l-1.3 1.3l-1.3 -1.3zM232.99 372.47l1.3 1.3l-1.3 1.3l-1.3 -1.3zM233.18 375.19l1.3 1.3l-1.3 1.3l-1.3 -1.3zM233.66 374.35l1.3 1.3l-1.3 1.3l-1.3 -1.3zM234.15 373.95l1.3 1.3l-1.3 1.3l-1.3 -1.3zM234.58 370.84l1.3 1.3l-1.3 1.3l-1.3 -1.3zM234.86 368.61l1.3 1.3l-1.3 1.3l-1.3 -1.3zM235.24 369.79l1.3 1.3l-1.3 1.3l-1.3 -1.3zM235.82 370.72l1.3 1.3l-1.3 1.3l-1.3 -1.3zM236.24 367.6l1.3 1.3l-1.3 1.3l-1.3 -1.3zM236.86 369.5l1.3 1.3l-1.3 1.3l-1.3 -1.3zM236.89 366.85l1.3 1.3l-1.3 1.3l-1.3 -1.3zM237.81 369.35l1.3 1.3l-1.3 1.3l-1.3 -1.3zM237.71 365.53l1.3 1.3l-1.3 1.3l-1.3 -1.3z" fill="#2a6591"/>
<path d="M275.75 368.36 L280.85 369.54 L285.94 370.73 L291.04 371.91 L296.13 373.1 L301.23 374.28 L306.33 375.47 L311.42 376.65 L316.52 377.84 L321.62 379.02 L326.71 380.21 L331.81 381.39 L336.91 382.58 L342 383.76 L347.1 384.95 L352.19 386.13 L357.29 387.32 L362.39 388.5 L367.48 389.69 L372.58 390.87 L377.68 392.06 L382.77 393.24 L387.87 394.43 L392.96 395.61 L398.06 396.8 L403.16 397.98 L408.25 399.17 L413.35 400.35 L418.45 401.54 L423.54 402.72 L428.64 403.91 L433.73 405.09 L438.83 406.27 L443.93 407.46 L449.02 408.64 L454.12 409.83 L459.22 411.01 L464.31 412.2 L469.41 413.38 L474.5 414.57 L479.6 415.75" fill="none" stroke="#c0c0c0" stroke-width="0.75"/>
<path d="M275.75 455.76 L280.85 456.94 L285.94 458.13 L291.04 459.31 L296.13 460.5 L301.23 461.68 L306.33 462.87 L311.42 464.05 L316.52 465.24 L321.62 466.42 L326.71 467.61 L331.81 468.79 L336.91 469.98 L342 471.16 L347.1 472.35 L352.19 473.53 L357.29 474.72 L362.39 475.9 L367.48 477.09 L372.58 478.27 L377.68 479.46 L382.77 480.64 L387.87 481.83 L392.96 483.01 L398.06 484.2 L403.16 485.38 L408.25 486.57 L413.35 487.75 L418.45 488.94 L423.54 490.12 L428.64 491.31 L433.73 492.49 L438.83 493.67 L443.93 494.86 L449.02 496.04 L454.12 497.23" fill="none" stroke="#c0c0c0" stroke-width="0.75"/>
<path d="M275.75 408.95 L280.85 410.24 L285.94 411.53 L291.04 412.81 L296.13 414.09 L301.23 415.37 L306.33 416.65 L311.42 417.92 L316.52 419.19 L321.62 420.45 L326.71 421.71 L331.81 422.97 L336.91 424.22 L342 425.46 L347.1 426.7 L352.19 427.93 L357.29 429.15 L362.39 430.37 L367.48 431.57 L372.58 432.77 L377.68 433.96 L382.77 435.14 L387.87 436.31 L392.96 437.47 L398.06 438.62 L403.16 439.77 L408.25 440.9 L413.35 442.03 L418.45 443.16 L423.54 444.28 L428.64 445.39 L433.73 446.5 L438.83 447.6 L443.93 448.7 L449.02 449.8 L454.12 450.89 L459.22 451.98 L464.31 453.07 L469.41 454.16 L474.5 455.24 L479.6 456.32" fill="none" stroke="#cfcfcf" stroke-width="0.7"/>
<path d="M275.75 415.17 L280.85 416.25 L285.94 417.33 L291.04 418.42 L296.13 419.51 L301.23 420.6 L306.33 421.69 L311.42 422.79 L316.52 423.89 L321.62 424.99 L326.71 426.1 L331.81 427.22 L336.91 428.34 L342 429.46 L347.1 430.6 L352.19 431.74 L357.29 432.88 L362.39 434.04 L367.48 435.2 L372.58 436.38 L377.68 437.56 L382.77 438.75 L387.87 439.95 L392.96 441.15 L398.06 442.37 L403.16 443.6 L408.25 444.83 L413.35 446.07 L418.45 447.31 L423.54 448.56 L428.64 449.82 L433.73 451.08 L438.83 452.35 L443.93 453.62 L449.02 454.89 L454.12 456.17 L459.22 457.45 L464.31 458.73 L469.41 460.01 L474.5 461.3 L479.6 462.59" fill="none" stroke="#cfcfcf" stroke-width="0.7"/>
<path d="M275.75 412.06 L280.85 413.24 L285.94 414.43 L291.04 415.61 L296.13 416.8 L301.23 417.98 L306.33 419.17 L311.42 420.35 L316.52 421.54 L321.62 422.72 L326.71 423.91 L331.81 425.09 L336.91 426.28 L342 427.46 L347.1 428.65 L352.19 429.83 L357.29 431.02 L362.39 432.2 L367.48 433.39 L372.58 434.57 L377.68 435.76 L382.77 436.94 L387.87 438.13 L392.96 439.31 L398.06 440.5 L403.16 441.68 L408.25 442.87 L413.35 444.05 L418.45 445.24 L423.54 446.42 L428.64 447.61 L433.73 448.79 L438.83 449.97 L443.93 451.16 L449.02 452.34 L454.12 453.53 L459.22 454.71 L464.31 455.9 L469.41 457.08 L474.5 458.27 L479.6 459.45" fill="none" stroke="#333333" stroke-width="0.85"/>
<path d="M275.75 453.15 L277.45 449.61 L279.15 446.23 L280.85 443.01 L282.55 439.95 L284.24 437.04 L285.94 434.28 L287.64 431.67 L289.34 429.2 L291.04 426.88 L292.74 424.7 L294.44 422.65 L296.13 420.74 L297.83 418.97 L299.53 417.32 L301.23 415.8 L302.93 414.4 L304.63 413.12 L306.33 411.96 L308.03 410.92 L309.73 409.99 L311.42 409.17 L313.12 408.46 L314.82 407.86 L316.52 407.35 L318.22 406.95 L319.92 406.64 L321.62 406.42 L323.31 406.3 L325.01 406.27 L326.71 406.32 L328.41 406.45 L330.11 406.67 L331.81 406.96 L333.51 407.33 L335.21 407.77 L336.9 408.28 L338.6 408.86 L340.3 409.5 L342 410.21 L343.7 410.97 L345.4 411.79 L347.1 412.66 L348.8 413.58 L350.5 414.55 L352.19 415.57 L353.89 416.63 L355.59 417.73 L357.29 418.86 L358.99 420.03 L360.69 421.23 L362.39 422.46 L364.09 423.72 L365.78 425 L367.48 426.3 L369.18 427.62 L370.88 428.96 L372.58 430.31 L374.28 431.66 L375.98 433.03 L377.68 434.4 L379.37 435.77 L381.07 437.14 L382.77 438.51 L384.47 439.87 L386.17 441.22 L387.87 442.57 L389.57 443.89 L391.26 445.2 L392.96 446.49 L394.66 447.76 L396.36 449 L398.06 450.22 L399.76 451.4 L401.46 452.55 L403.16 453.67 L404.86 454.74 L406.55 455.78 L408.25 456.77 L409.95 457.71 L411.65 458.6 L413.35 459.44 L415.05 460.23 L416.75 460.96 L418.45 461.63 L420.14 462.23 L421.84 462.77 L423.54 463.25 L425.24 463.65 L426.94 463.97 L428.64 464.22 L430.34 464.39 L432.03 464.48 L433.73 464.48 L435.43 464.4 L437.13 464.22 L438.83 463.96 L440.53 463.59 L442.23 463.13 L443.93 462.57 L445.62 461.9 L447.32 461.13 L449.02 460.25 L450.72 459.26 L452.42 458.15 L454.12 456.92 L455.82 455.58 L457.52 454.11 L459.22 452.51 L460.91 450.79 L462.61 448.94 L464.31 446.95 L466.01 444.83 L467.71 442.57 L469.41 440.17 L471.11 437.62 L472.81 434.92 L474.5 432.08 L476.2 429.08 L477.9 425.93 L479.6 422.62" fill="none" stroke="#d44c22" stroke-width="1.3"/>
<path d="M275.79 450.66l1.3 1.3l-1.3 1.3l-1.3 -1.3zM276.45 453.24l1.3 1.3l-1.3 1.3l-1.3 -1.3zM276.35 440.77l1.3 1.3l-1.3 1.3l-1.3 -1.3zM276.81 449.96l1.3 1.3l-1.3 1.3l-1.3 -1.3zM277.51 448.25l1.3 1.3l-1.3 1.3l-1.3 -1.3zM277.82 447.79l1.3 1.3l-1.3 1.3l-1.3 -1.3zM278.43 437.42l1.3 1.3l-1.3 1.3l-1.3 -1.3zM278.52 450.76l1.3 1.3l-1.3 1.3l-1.3 -1.3zM278.99 454.11l1.3 1.3l-1.3 1.3l-1.3 -1.3zM279.82 452.41l1.3 1.3l-1.3 1.3l-1.3 -1.3zM280.04 447.6l1.3 1.3l-1.3 1.3l-1.3 -1.3zM280.55 438.89l1.3 1.3l-1.3 1.3l-1.3 -1.3zM280.58 442.72l1.3 1.3l-1.3 1.3l-1.3 -1.3zM281.37 455.15l1.3 1.3l-1.3 1.3l-1.3 -1.3zM281.6 450.2l1.3 1.3l-1.3 1.3l-1.3 -1.3zM281.89 447.95l1.3 1.3l-1.3 1.3l-1.3 -1.3zM282.35 446.36l1.3 1.3l-1.3 1.3l-1.3 -1.3zM283.13 440.29l1.3 1.3l-1.3 1.3l-1.3 -1.3zM283.55 449.22l1.3 1.3l-1.3 1.3l-1.3 -1.3zM283.73 445.83l1.3 1.3l-1.3 1.3l-1.3 -1.3zM283.87 431.4l1.3 1.3l-1.3 1.3l-1.3 -1.3zM284.34 446.44l1.3 1.3l-1.3 1.3l-1.3 -1.3zM285.05 444.08l1.3 1.3l-1.3 1.3l-1.3 -1.3zM285.64 441.35l1.3 1.3l-1.3 1.3l-1.3 -1.3zM285.64 438.37l1.3 1.3l-1.3 1.3l-1.3 -1.3zM286.26 433.24l1.3 1.3l-1.3 1.3l-1.3 -1.3zM286.37 438.65l1.3 1.3l-1.3 1.3l-1.3 -1.3zM287.33 432.42l1.3 1.3l-1.3 1.3l-1.3 -1.3zM287.44 421.31l1.3 1.3l-1.3 1.3l-1.3 -1.3zM287.66 431.92l1.3 1.3l-1.3 1.3l-1.3 -1.3zM288.37 428.51l1.3 1.3l-1.3 1.3l-1.3 -1.3zM289.02 429.67l1.3 1.3l-1.3 1.3l-1.3 -1.3zM288.89 415.2l1.3 1.3l-1.3 1.3l-1.3 -1.3zM289.37 417.76l1.3 1.3l-1.3 1.3l-1.3 -1.3zM289.86 434.96l1.3 1.3l-1.3 1.3l-1.3 -1.3zM290.19 418.18l1.3 1.3l-1.3 1.3l-1.3 -1.3zM290.95 419.64l1.3 1.3l-1.3 1.3l-1.3 -1.3zM291.31 413.01l1.3 1.3l-1.3 1.3l-1.3 -1.3zM291.39 407.79l1.3 1.3l-1.3 1.3l-1.3 -1.3zM292.14 417.72l1.3 1.3l-1.3 1.3l-1.3 -1.3zM292.66 414.66l1.3 1.3l-1.3 1.3l-1.3 -1.3zM293.13 411.21l1.3 1.3l-1.3 1.3l-1.3 -1.3zM293.38 401.35l1.3 1.3l-1.3 1.3l-1.3 -1.3zM294.04 406.68l1.3 1.3l-1.3 1.3l-1.3 -1.3zM294.21 415.84l1.3 1.3l-1.3 1.3l-1.3 -1.3zM294.48 405.51l1.3 1.3l-1.3 1.3l-1.3 -1.3zM294.96 403.75l1.3 1.3l-1.3 1.3l-1.3 -1.3zM295.31 407.86l1.3 1.3l-1.3 1.3l-1.3 -1.3zM295.59 398.29l1.3 1.3l-1.3 1.3l-1.3 -1.3zM296.42 395.63l1.3 1.3l-1.3 1.3l-1.3 -1.3zM296.39 400.2l1.3 1.3l-1.3 1.3l-1.3 -1.3zM297.09 385.16l1.3 1.3l-1.3 1.3l-1.3 -1.3zM297.63 395.38l1.3 1.3l-1.3 1.3l-1.3 -1.3zM297.88 406.17l1.3 1.3l-1.3 1.3l-1.3 -1.3zM298.18 401.93l1.3 1.3l-1.3 1.3l-1.3 -1.3zM298.68 392.87l1.3 1.3l-1.3 1.3l-1.3 -1.3zM299.39 386.04l1.3 1.3l-1.3 1.3l-1.3 -1.3zM299.39 399.58l1.3 1.3l-1.3 1.3l-1.3 -1.3zM300.21 392.12l1.3 1.3l-1.3 1.3l-1.3 -1.3zM300.71 394.46l1.3 1.3l-1.3 1.3l-1.3 -1.3zM300.65 409.25l1.3 1.3l-1.3 1.3l-1.3 -1.3zM301.32 387.57l1.3 1.3l-1.3 1.3l-1.3 -1.3zM301.39 396.79l1.3 1.3l-1.3 1.3l-1.3 -1.3zM302.03 395.39l1.3 1.3l-1.3 1.3l-1.3 -1.3zM302.58 399.92l1.3 1.3l-1.3 1.3l-1.3 -1.3zM302.71 393.29l1.3 1.3l-1.3 1.3l-1.3 -1.3zM303.38 396.51l1.3 1.3l-1.3 1.3l-1.3 -1.3zM303.8 397.29l1.3 1.3l-1.3 1.3l-1.3 -1.3zM304.3 401.87l1.3 1.3l-1.3 1.3l-1.3 -1.3zM304.72 398.77l1.3 1.3l-1.3 1.3l-1.3 -1.3zM305.17 387.08l1.3 1.3l-1.3 1.3l-1.3 -1.3zM305.23 403.8l1.3 1.3l-1.3 1.3l-1.3 -1.3zM305.98 398.3l1.3 1.3l-1.3 1.3l-1.3 -1.3zM306.26 385.01l1.3 1.3l-1.3 1.3l-1.3 -1.3zM306.44 402.49l1.3 1.3l-1.3 1.3l-1.3 -1.3zM306.91 398.99l1.3 1.3l-1.3 1.3l-1.3 -1.3zM307.6 407.86l1.3 1.3l-1.3 1.3l-1.3 -1.3zM307.77 405.54l1.3 1.3l-1.3 1.3l-1.3 -1.3zM308.06 404.64l1.3 1.3l-1.3 1.3l-1.3 -1.3zM308.81 410.7l1.3 1.3l-1.3 1.3l-1.3 -1.3zM309.12 409.81l1.3 1.3l-1.3 1.3l-1.3 -1.3zM309.87 415.85l1.3 1.3l-1.3 1.3l-1.3 -1.3zM310.04 412.31l1.3 1.3l-1.3 1.3l-1.3 -1.3zM310.74 411.77l1.3 1.3l-1.3 1.3l-1.3 -1.3zM311.09 406.43l1.3 1.3l-1.3 1.3l-1.3 -1.3zM311.3 411.13l1.3 1.3l-1.3 1.3l-1.3 -1.3zM311.94 421.69l1.3 1.3l-1.3 1.3l-1.3 -1.3zM312.13 418.48l1.3 1.3l-1.3 1.3l-1.3 -1.3zM312.41 414.31l1.3 1.3l-1.3 1.3l-1.3 -1.3zM312.71 407.39l1.3 1.3l-1.3 1.3l-1.3 -1.3zM313.48 411.12l1.3 1.3l-1.3 1.3l-1.3 -1.3zM313.86 419.93l1.3 1.3l-1.3 1.3l-1.3 -1.3zM313.93 414.39l1.3 1.3l-1.3 1.3l-1.3 -1.3zM314.84 412.91l1.3 1.3l-1.3 1.3l-1.3 -1.3zM314.87 420.62l1.3 1.3l-1.3 1.3l-1.3 -1.3zM315.52 405.94l1.3 1.3l-1.3 1.3l-1.3 -1.3zM316.09 421.73l1.3 1.3l-1.3 1.3l-1.3 -1.3zM316.35 415.3l1.3 1.3l-1.3 1.3l-1.3 -1.3zM316.81 409.6l1.3 1.3l-1.3 1.3l-1.3 -1.3zM316.93 412.76l1.3 1.3l-1.3 1.3l-1.3 -1.3zM317.6 410.92l1.3 1.3l-1.3 1.3l-1.3 -1.3zM317.86 411.64l1.3 1.3l-1.3 1.3l-1.3 -1.3zM318.35 405.87l1.3 1.3l-1.3 1.3l-1.3 -1.3zM318.95 404.89l1.3 1.3l-1.3 1.3l-1.3 -1.3zM319.1 405.03l1.3 1.3l-1.3 1.3l-1.3 -1.3zM319.89 401.03l1.3 1.3l-1.3 1.3l-1.3 -1.3zM320.09 422.9l1.3 1.3l-1.3 1.3l-1.3 -1.3zM320.65 396.86l1.3 1.3l-1.3 1.3l-1.3 -1.3zM320.64 395.8l1.3 1.3l-1.3 1.3l-1.3 -1.3zM321.46 401.51l1.3 1.3l-1.3 1.3l-1.3 -1.3zM321.52 397.38l1.3 1.3l-1.3 1.3l-1.3 -1.3zM321.9 399.29l1.3 1.3l-1.3 1.3l-1.3 -1.3zM322.8 403.59l1.3 1.3l-1.3 1.3l-1.3 -1.3zM323.1 394.43l1.3 1.3l-1.3 1.3l-1.3 -1.3zM323.36 387.15l1.3 1.3l-1.3 1.3l-1.3 -1.3zM323.87 394.1l1.3 1.3l-1.3 1.3l-1.3 -1.3zM324.05 395.24l1.3 1.3l-1.3 1.3l-1.3 -1.3zM324.45 406.1l1.3 1.3l-1.3 1.3l-1.3 -1.3zM325.01 398.38l1.3 1.3l-1.3 1.3l-1.3 -1.3zM325.22 395.81l1.3 1.3l-1.3 1.3l-1.3 -1.3zM326.06 402.77l1.3 1.3l-1.3 1.3l-1.3 -1.3zM326.51 401.31l1.3 1.3l-1.3 1.3l-1.3 -1.3zM326.78 400.62l1.3 1.3l-1.3 1.3l-1.3 -1.3zM327 403.64l1.3 1.3l-1.3 1.3l-1.3 -1.3zM327.43 409.38l1.3 1.3l-1.3 1.3l-1.3 -1.3zM328.14 387.04l1.3 1.3l-1.3 1.3l-1.3 -1.3zM328.62 420.21l1.3 1.3l-1.3 1.3l-1.3 -1.3zM329.05 404.24l1.3 1.3l-1.3 1.3l-1.3 -1.3zM329.5 416.23l1.3 1.3l-1.3 1.3l-1.3 -1.3zM329.48 415.06l1.3 1.3l-1.3 1.3l-1.3 -1.3zM330.11 407.95l1.3 1.3l-1.3 1.3l-1.3 -1.3zM330.67 414.66l1.3 1.3l-1.3 1.3l-1.3 -1.3zM330.82 416.21l1.3 1.3l-1.3 1.3l-1.3 -1.3zM331.28 420.69l1.3 1.3l-1.3 1.3l-1.3 -1.3zM331.79 410.01l1.3 1.3l-1.3 1.3l-1.3 -1.3zM331.95 413.16l1.3 1.3l-1.3 1.3l-1.3 -1.3zM332.5 415.2l1.3 1.3l-1.3 1.3l-1.3 -1.3zM333 421.39l1.3 1.3l-1.3 1.3l-1.3 -1.3zM333.2 416.05l1.3 1.3l-1.3 1.3l-1.3 -1.3zM333.59 409.23l1.3 1.3l-1.3 1.3l-1.3 -1.3zM334.3 415.48l1.3 1.3l-1.3 1.3l-1.3 -1.3zM334.7 426.18l1.3 1.3l-1.3 1.3l-1.3 -1.3zM335.21 429.06l1.3 1.3l-1.3 1.3l-1.3 -1.3zM335.3 414.07l1.3 1.3l-1.3 1.3l-1.3 -1.3zM335.92 420.07l1.3 1.3l-1.3 1.3l-1.3 -1.3zM336.34 422.3l1.3 1.3l-1.3 1.3l-1.3 -1.3zM336.71 425.34l1.3 1.3l-1.3 1.3l-1.3 -1.3zM337.34 417.51l1.3 1.3l-1.3 1.3l-1.3 -1.3zM337.57 430.03l1.3 1.3l-1.3 1.3l-1.3 -1.3zM337.85 428.36l1.3 1.3l-1.3 1.3l-1.3 -1.3zM338.42 423.27l1.3 1.3l-1.3 1.3l-1.3 -1.3zM339.07 422.81l1.3 1.3l-1.3 1.3l-1.3 -1.3zM338.96 424.64l1.3 1.3l-1.3 1.3l-1.3 -1.3zM339.41 425.75l1.3 1.3l-1.3 1.3l-1.3 -1.3zM340.26 432.52l1.3 1.3l-1.3 1.3l-1.3 -1.3zM340.42 423.01l1.3 1.3l-1.3 1.3l-1.3 -1.3zM341.13 419.36l1.3 1.3l-1.3 1.3l-1.3 -1.3zM341.43 422.73l1.3 1.3l-1.3 1.3l-1.3 -1.3zM341.65 422.35l1.3 1.3l-1.3 1.3l-1.3 -1.3zM342.08 429.18l1.3 1.3l-1.3 1.3l-1.3 -1.3zM342.38 413l1.3 1.3l-1.3 1.3l-1.3 -1.3zM343.03 413.77l1.3 1.3l-1.3 1.3l-1.3 -1.3zM343.11 422.42l1.3 1.3l-1.3 1.3l-1.3 -1.3zM343.81 422.28l1.3 1.3l-1.3 1.3l-1.3 -1.3zM344.46 413.47l1.3 1.3l-1.3 1.3l-1.3 -1.3zM344.81 403.23l1.3 1.3l-1.3 1.3l-1.3 -1.3zM344.94 421.74l1.3 1.3l-1.3 1.3l-1.3 -1.3zM345.6 419.86l1.3 1.3l-1.3 1.3l-1.3 -1.3zM345.75 405.9l1.3 1.3l-1.3 1.3l-1.3 -1.3zM346.23 420.01l1.3 1.3l-1.3 1.3l-1.3 -1.3zM346.8 387.07l1.3 1.3l-1.3 1.3l-1.3 -1.3zM346.87 398.02l1.3 1.3l-1.3 1.3l-1.3 -1.3zM347.39 402.78l1.3 1.3l-1.3 1.3l-1.3 -1.3zM347.75 385.77l1.3 1.3l-1.3 1.3l-1.3 -1.3zM348.19 398.35l1.3 1.3l-1.3 1.3l-1.3 -1.3zM349.07 404.85l1.3 1.3l-1.3 1.3l-1.3 -1.3zM349.07 398.8l1.3 1.3l-1.3 1.3l-1.3 -1.3zM349.62 405.61l1.3 1.3l-1.3 1.3l-1.3 -1.3zM350.29 411.37l1.3 1.3l-1.3 1.3l-1.3 -1.3zM350.63 392.28l1.3 1.3l-1.3 1.3l-1.3 -1.3zM350.91 403.94l1.3 1.3l-1.3 1.3l-1.3 -1.3zM351.27 397.74l1.3 1.3l-1.3 1.3l-1.3 -1.3zM351.73 380.76l1.3 1.3l-1.3 1.3l-1.3 -1.3zM352.2 380.6l1.3 1.3l-1.3 1.3l-1.3 -1.3zM352.83 401.04l1.3 1.3l-1.3 1.3l-1.3 -1.3zM352.91 398.38l1.3 1.3l-1.3 1.3l-1.3 -1.3zM353.65 404.37l1.3 1.3l-1.3 1.3l-1.3 -1.3zM353.65 382.15l1.3 1.3l-1.3 1.3l-1.3 -1.3zM354.27 412.59l1.3 1.3l-1.3 1.3l-1.3 -1.3zM354.77 404.28l1.3 1.3l-1.3 1.3l-1.3 -1.3zM355.37 411.46l1.3 1.3l-1.3 1.3l-1.3 -1.3zM355.72 414.26l1.3 1.3l-1.3 1.3l-1.3 -1.3zM355.97 417.27l1.3 1.3l-1.3 1.3l-1.3 -1.3zM356.21 425.84l1.3 1.3l-1.3 1.3l-1.3 -1.3zM356.53 416.43l1.3 1.3l-1.3 1.3l-1.3 -1.3zM357.12 420.19l1.3 1.3l-1.3 1.3l-1.3 -1.3zM357.76 405.03l1.3 1.3l-1.3 1.3l-1.3 -1.3zM357.73 422.56l1.3 1.3l-1.3 1.3l-1.3 -1.3zM358.23 424.21l1.3 1.3l-1.3 1.3l-1.3 -1.3zM358.66 425.89l1.3 1.3l-1.3 1.3l-1.3 -1.3zM359.36 412.2l1.3 1.3l-1.3 1.3l-1.3 -1.3zM359.88 418.54l1.3 1.3l-1.3 1.3l-1.3 -1.3zM360.27 423.49l1.3 1.3l-1.3 1.3l-1.3 -1.3zM360.44 418.84l1.3 1.3l-1.3 1.3l-1.3 -1.3zM361.2 416.99l1.3 1.3l-1.3 1.3l-1.3 -1.3zM361.33 424.95l1.3 1.3l-1.3 1.3l-1.3 -1.3zM361.57 428.41l1.3 1.3l-1.3 1.3l-1.3 -1.3zM361.94 416.33l1.3 1.3l-1.3 1.3l-1.3 -1.3zM362.87 421.47l1.3 1.3l-1.3 1.3l-1.3 -1.3zM363.08 426.99l1.3 1.3l-1.3 1.3l-1.3 -1.3zM363.7 429.4l1.3 1.3l-1.3 1.3l-1.3 -1.3zM363.67 431l1.3 1.3l-1.3 1.3l-1.3 -1.3zM364 424.95l1.3 1.3l-1.3 1.3l-1.3 -1.3zM364.89 432.82l1.3 1.3l-1.3 1.3l-1.3 -1.3zM364.92 442.89l1.3 1.3l-1.3 1.3l-1.3 -1.3zM365.29 436.06l1.3 1.3l-1.3 1.3l-1.3 -1.3zM365.82 435.84l1.3 1.3l-1.3 1.3l-1.3 -1.3zM366.43 440.17l1.3 1.3l-1.3 1.3l-1.3 -1.3zM367.03 428.03l1.3 1.3l-1.3 1.3l-1.3 -1.3zM367.08 443.39l1.3 1.3l-1.3 1.3l-1.3 -1.3zM367.85 434.39l1.3 1.3l-1.3 1.3l-1.3 -1.3zM368.17 435.25l1.3 1.3l-1.3 1.3l-1.3 -1.3zM368.26 437.49l1.3 1.3l-1.3 1.3l-1.3 -1.3zM369.06 436.87l1.3 1.3l-1.3 1.3l-1.3 -1.3zM369.4 429.93l1.3 1.3l-1.3 1.3l-1.3 -1.3zM369.81 444.47l1.3 1.3l-1.3 1.3l-1.3 -1.3zM369.85 433.49l1.3 1.3l-1.3 1.3l-1.3 -1.3zM370.79 424.23l1.3 1.3l-1.3 1.3l-1.3 -1.3zM370.68 427.34l1.3 1.3l-1.3 1.3l-1.3 -1.3zM371.57 432.01l1.3 1.3l-1.3 1.3l-1.3 -1.3zM371.69 427.49l1.3 1.3l-1.3 1.3l-1.3 -1.3zM372.1 421.69l1.3 1.3l-1.3 1.3l-1.3 -1.3zM372.62 437.6l1.3 1.3l-1.3 1.3l-1.3 -1.3zM373.31 435.46l1.3 1.3l-1.3 1.3l-1.3 -1.3zM373.33 430.38l1.3 1.3l-1.3 1.3l-1.3 -1.3zM374.04 438.09l1.3 1.3l-1.3 1.3l-1.3 -1.3zM374.3 436.72l1.3 1.3l-1.3 1.3l-1.3 -1.3zM374.92 433.1l1.3 1.3l-1.3 1.3l-1.3 -1.3zM375.31 433.75l1.3 1.3l-1.3 1.3l-1.3 -1.3zM375.39 431.05l1.3 1.3l-1.3 1.3l-1.3 -1.3zM375.92 452.55l1.3 1.3l-1.3 1.3l-1.3 -1.3zM376.31 443.17l1.3 1.3l-1.3 1.3l-1.3 -1.3zM377.05 438.59l1.3 1.3l-1.3 1.3l-1.3 -1.3zM377.38 443.52l1.3 1.3l-1.3 1.3l-1.3 -1.3zM377.7 431.83l1.3 1.3l-1.3 1.3l-1.3 -1.3zM378 432.87l1.3 1.3l-1.3 1.3l-1.3 -1.3zM378.39 451.16l1.3 1.3l-1.3 1.3l-1.3 -1.3zM379.14 423.84l1.3 1.3l-1.3 1.3l-1.3 -1.3zM379.57 428.17l1.3 1.3l-1.3 1.3l-1.3 -1.3zM379.58 429.23l1.3 1.3l-1.3 1.3l-1.3 -1.3zM379.83 433.87l1.3 1.3l-1.3 1.3l-1.3 -1.3zM380.36 430.81l1.3 1.3l-1.3 1.3l-1.3 -1.3zM381.02 415.14l1.3 1.3l-1.3 1.3l-1.3 -1.3zM381.65 420.47l1.3 1.3l-1.3 1.3l-1.3 -1.3zM381.6 424.21l1.3 1.3l-1.3 1.3l-1.3 -1.3zM382.3 405.84l1.3 1.3l-1.3 1.3l-1.3 -1.3zM382.41 411.03l1.3 1.3l-1.3 1.3l-1.3 -1.3zM382.86 391.06l1.3 1.3l-1.3 1.3l-1.3 -1.3zM383.44 401.34l1.3 1.3l-1.3 1.3l-1.3 -1.3zM384.03 398.47l1.3 1.3l-1.3 1.3l-1.3 -1.3zM384.38 400.77l1.3 1.3l-1.3 1.3l-1.3 -1.3zM384.87 417.52l1.3 1.3l-1.3 1.3l-1.3 -1.3zM385.11 395.27l1.3 1.3l-1.3 1.3l-1.3 -1.3zM385.53 397.28l1.3 1.3l-1.3 1.3l-1.3 -1.3zM385.72 391.06l1.3 1.3l-1.3 1.3l-1.3 -1.3zM386.51 413.46l1.3 1.3l-1.3 1.3l-1.3 -1.3zM386.54 395.09l1.3 1.3l-1.3 1.3l-1.3 -1.3zM387.23 410.04l1.3 1.3l-1.3 1.3l-1.3 -1.3zM387.42 402.18l1.3 1.3l-1.3 1.3l-1.3 -1.3zM388.07 402.4l1.3 1.3l-1.3 1.3l-1.3 -1.3zM388.73 413.95l1.3 1.3l-1.3 1.3l-1.3 -1.3zM388.75 414.98l1.3 1.3l-1.3 1.3l-1.3 -1.3zM389.42 435.98l1.3 1.3l-1.3 1.3l-1.3 -1.3zM389.84 431.02l1.3 1.3l-1.3 1.3l-1.3 -1.3zM390.29 424.08l1.3 1.3l-1.3 1.3l-1.3 -1.3zM390.78 426.36l1.3 1.3l-1.3 1.3l-1.3 -1.3zM390.98 418.54l1.3 1.3l-1.3 1.3l-1.3 -1.3zM391.55 432.05l1.3 1.3l-1.3 1.3l-1.3 -1.3zM391.73 431.05l1.3 1.3l-1.3 1.3l-1.3 -1.3zM392.51 430.32l1.3 1.3l-1.3 1.3l-1.3 -1.3zM392.76 432.12l1.3 1.3l-1.3 1.3l-1.3 -1.3zM393.28 443.47l1.3 1.3l-1.3 1.3l-1.3 -1.3zM393.37 432.63l1.3 1.3l-1.3 1.3l-1.3 -1.3zM394.17 423.25l1.3 1.3l-1.3 1.3l-1.3 -1.3zM394.16 438.97l1.3 1.3l-1.3 1.3l-1.3 -1.3zM394.91 428.88l1.3 1.3l-1.3 1.3l-1.3 -1.3zM394.88 430.85l1.3 1.3l-1.3 1.3l-1.3 -1.3zM395.75 441.22l1.3 1.3l-1.3 1.3l-1.3 -1.3zM395.95 442.41l1.3 1.3l-1.3 1.3l-1.3 -1.3zM396.59 439.54l1.3 1.3l-1.3 1.3l-1.3 -1.3zM397.04 435.98l1.3 1.3l-1.3 1.3l-1.3 -1.3zM397.39 437.14l1.3 1.3l-1.3 1.3l-1.3 -1.3zM397.86 436.83l1.3 1.3l-1.3 1.3l-1.3 -1.3zM397.94 445.94l1.3 1.3l-1.3 1.3l-1.3 -1.3zM398.21 438.76l1.3 1.3l-1.3 1.3l-1.3 -1.3zM398.65 435.06l1.3 1.3l-1.3 1.3l-1.3 -1.3zM399.56 448.52l1.3 1.3l-1.3 1.3l-1.3 -1.3zM399.92 446.47l1.3 1.3l-1.3 1.3l-1.3 -1.3zM400 436.49l1.3 1.3l-1.3 1.3l-1.3 -1.3zM400.69 443.14l1.3 1.3l-1.3 1.3l-1.3 -1.3zM401.27 439.87l1.3 1.3l-1.3 1.3l-1.3 -1.3zM401.42 431.95l1.3 1.3l-1.3 1.3l-1.3 -1.3zM401.76 438.57l1.3 1.3l-1.3 1.3l-1.3 -1.3zM402.08 434.81l1.3 1.3l-1.3 1.3l-1.3 -1.3zM402.77 439.67l1.3 1.3l-1.3 1.3l-1.3 -1.3zM403.21 459.51l1.3 1.3l-1.3 1.3l-1.3 -1.3zM403.3 451.47l1.3 1.3l-1.3 1.3l-1.3 -1.3zM403.68 443.08l1.3 1.3l-1.3 1.3l-1.3 -1.3zM404.32 431.14l1.3 1.3l-1.3 1.3l-1.3 -1.3zM404.67 433.66l1.3 1.3l-1.3 1.3l-1.3 -1.3zM405.18 443.59l1.3 1.3l-1.3 1.3l-1.3 -1.3zM405.47 439.07l1.3 1.3l-1.3 1.3l-1.3 -1.3zM406.18 432.2l1.3 1.3l-1.3 1.3l-1.3 -1.3zM406.16 456.12l1.3 1.3l-1.3 1.3l-1.3 -1.3zM406.58 438.72l1.3 1.3l-1.3 1.3l-1.3 -1.3zM407.16 450.21l1.3 1.3l-1.3 1.3l-1.3 -1.3zM407.49 429.29l1.3 1.3l-1.3 1.3l-1.3 -1.3zM408.34 449.39l1.3 1.3l-1.3 1.3l-1.3 -1.3zM408.57 444.79l1.3 1.3l-1.3 1.3l-1.3 -1.3zM408.71 455.33l1.3 1.3l-1.3 1.3l-1.3 -1.3zM409.07 447.47l1.3 1.3l-1.3 1.3l-1.3 -1.3zM409.54 439.6l1.3 1.3l-1.3 1.3l-1.3 -1.3zM410.35 449.81l1.3 1.3l-1.3 1.3l-1.3 -1.3zM410.37 450.18l1.3 1.3l-1.3 1.3l-1.3 -1.3zM411.23 444.39l1.3 1.3l-1.3 1.3l-1.3 -1.3zM411.16 441.52l1.3 1.3l-1.3 1.3l-1.3 -1.3zM412.08 455.5l1.3 1.3l-1.3 1.3l-1.3 -1.3zM412.36 456.61l1.3 1.3l-1.3 1.3l-1.3 -1.3zM412.72 439.17l1.3 1.3l-1.3 1.3l-1.3 -1.3zM412.95 447.79l1.3 1.3l-1.3 1.3l-1.3 -1.3zM413.59 452.62l1.3 1.3l-1.3 1.3l-1.3 -1.3zM413.77 454.92l1.3 1.3l-1.3 1.3l-1.3 -1.3zM414.26 455.73l1.3 1.3l-1.3 1.3l-1.3 -1.3zM414.84 441.99l1.3 1.3l-1.3 1.3l-1.3 -1.3zM415.26 460.87l1.3 1.3l-1.3 1.3l-1.3 -1.3zM415.81 448.97l1.3 1.3l-1.3 1.3l-1.3 -1.3zM416.15 434.37l1.3 1.3l-1.3 1.3l-1.3 -1.3zM416.69 445.94l1.3 1.3l-1.3 1.3l-1.3 -1.3zM416.7 451.81l1.3 1.3l-1.3 1.3l-1.3 -1.3zM416.97 454.41l1.3 1.3l-1.3 1.3l-1.3 -1.3zM417.51 450.02l1.3 1.3l-1.3 1.3l-1.3 -1.3zM418.03 449.64l1.3 1.3l-1.3 1.3l-1.3 -1.3zM418.21 435.13l1.3 1.3l-1.3 1.3l-1.3 -1.3zM419.05 450.55l1.3 1.3l-1.3 1.3l-1.3 -1.3zM419.07 448.92l1.3 1.3l-1.3 1.3l-1.3 -1.3zM419.94 445.04l1.3 1.3l-1.3 1.3l-1.3 -1.3zM420.26 442.04l1.3 1.3l-1.3 1.3l-1.3 -1.3zM420.88 447.63l1.3 1.3l-1.3 1.3l-1.3 -1.3zM420.84 454.22l1.3 1.3l-1.3 1.3l-1.3 -1.3zM421.18 447.51l1.3 1.3l-1.3 1.3l-1.3 -1.3zM421.68 464.46l1.3 1.3l-1.3 1.3l-1.3 -1.3zM422.07 454.9l1.3 1.3l-1.3 1.3l-1.3 -1.3zM422.72 451.27l1.3 1.3l-1.3 1.3l-1.3 -1.3zM423.27 460.1l1.3 1.3l-1.3 1.3l-1.3 -1.3zM423.54 452.82l1.3 1.3l-1.3 1.3l-1.3 -1.3zM423.72 466.11l1.3 1.3l-1.3 1.3l-1.3 -1.3zM424.07 450.63l1.3 1.3l-1.3 1.3l-1.3 -1.3zM424.93 443.38l1.3 1.3l-1.3 1.3l-1.3 -1.3zM425.3 471.07l1.3 1.3l-1.3 1.3l-1.3 -1.3zM425.64 452.03l1.3 1.3l-1.3 1.3l-1.3 -1.3zM425.82 451.7l1.3 1.3l-1.3 1.3l-1.3 -1.3zM426.56 456.12l1.3 1.3l-1.3 1.3l-1.3 -1.3zM426.76 463.95l1.3 1.3l-1.3 1.3l-1.3 -1.3zM427.06 462.87l1.3 1.3l-1.3 1.3l-1.3 -1.3zM427.83 459.18l1.3 1.3l-1.3 1.3l-1.3 -1.3zM428 454.99l1.3 1.3l-1.3 1.3l-1.3 -1.3zM428.66 456.32l1.3 1.3l-1.3 1.3l-1.3 -1.3zM428.76 465.43l1.3 1.3l-1.3 1.3l-1.3 -1.3zM429.65 459l1.3 1.3l-1.3 1.3l-1.3 -1.3zM429.6 466.85l1.3 1.3l-1.3 1.3l-1.3 -1.3zM430.16 460.11l1.3 1.3l-1.3 1.3l-1.3 -1.3zM430.75 467.46l1.3 1.3l-1.3 1.3l-1.3 -1.3zM430.93 461.37l1.3 1.3l-1.3 1.3l-1.3 -1.3zM431.22 461.78l1.3 1.3l-1.3 1.3l-1.3 -1.3zM432.05 471.9l1.3 1.3l-1.3 1.3l-1.3 -1.3zM432.48 470.68l1.3 1.3l-1.3 1.3l-1.3 -1.3zM432.47 468.15l1.3 1.3l-1.3 1.3l-1.3 -1.3zM433.38 474.25l1.3 1.3l-1.3 1.3l-1.3 -1.3zM433.81 471.1l1.3 1.3l-1.3 1.3l-1.3 -1.3zM434.14 476.57l1.3 1.3l-1.3 1.3l-1.3 -1.3zM434.37 468.88l1.3 1.3l-1.3 1.3l-1.3 -1.3zM434.52 472.28l1.3 1.3l-1.3 1.3l-1.3 -1.3zM434.92 477.58l1.3 1.3l-1.3 1.3l-1.3 -1.3zM435.67 472.91l1.3 1.3l-1.3 1.3l-1.3 -1.3zM435.77 483.08l1.3 1.3l-1.3 1.3l-1.3 -1.3zM436.4 465.5l1.3 1.3l-1.3 1.3l-1.3 -1.3zM436.78 475.55l1.3 1.3l-1.3 1.3l-1.3 -1.3zM437.43 465.62l1.3 1.3l-1.3 1.3l-1.3 -1.3zM437.51 469.54l1.3 1.3l-1.3 1.3l-1.3 -1.3zM437.85 465.02l1.3 1.3l-1.3 1.3l-1.3 -1.3zM438.26 469.6l1.3 1.3l-1.3 1.3l-1.3 -1.3zM438.81 473.54l1.3 1.3l-1.3 1.3l-1.3 -1.3zM439.62 467.13l1.3 1.3l-1.3 1.3l-1.3 -1.3zM439.55 471.58l1.3 1.3l-1.3 1.3l-1.3 -1.3zM439.94 465.34l1.3 1.3l-1.3 1.3l-1.3 -1.3zM440.37 472.03l1.3 1.3l-1.3 1.3l-1.3 -1.3zM441.05 468.67l1.3 1.3l-1.3 1.3l-1.3 -1.3zM441.44 469.71l1.3 1.3l-1.3 1.3l-1.3 -1.3zM441.67 472.37l1.3 1.3l-1.3 1.3l-1.3 -1.3zM442.25 476.2l1.3 1.3l-1.3 1.3l-1.3 -1.3zM442.62 460.91l1.3 1.3l-1.3 1.3l-1.3 -1.3zM443.2 464.59l1.3 1.3l-1.3 1.3l-1.3 -1.3zM443.81 466.08l1.3 1.3l-1.3 1.3l-1.3 -1.3zM444.23 462.23l1.3 1.3l-1.3 1.3l-1.3 -1.3zM444.09 467.8l1.3 1.3l-1.3 1.3l-1.3 -1.3zM444.72 469.03l1.3 1.3l-1.3 1.3l-1.3 -1.3zM445.12 460.59l1.3 1.3l-1.3 1.3l-1.3 -1.3zM445.54 470.43l1.3 1.3l-1.3 1.3l-1.3 -1.3zM446.04 460.27l1.3 1.3l-1.3 1.3l-1.3 -1.3zM446.74 453.45l1.3 1.3l-1.3 1.3l-1.3 -1.3zM446.8 451.64l1.3 1.3l-1.3 1.3l-1.3 -1.3zM447.5 474.92l1.3 1.3l-1.3 1.3l-1.3 -1.3zM447.94 468.08l1.3 1.3l-1.3 1.3l-1.3 -1.3zM448.09 467.24l1.3 1.3l-1.3 1.3l-1.3 -1.3zM448.43 451.15l1.3 1.3l-1.3 1.3l-1.3 -1.3zM448.9 465.92l1.3 1.3l-1.3 1.3l-1.3 -1.3zM449.39 460.12l1.3 1.3l-1.3 1.3l-1.3 -1.3zM449.83 469.4l1.3 1.3l-1.3 1.3l-1.3 -1.3zM450.03 471.75l1.3 1.3l-1.3 1.3l-1.3 -1.3zM450.83 466.19l1.3 1.3l-1.3 1.3l-1.3 -1.3zM450.96 463.31l1.3 1.3l-1.3 1.3l-1.3 -1.3zM451.54 464.44l1.3 1.3l-1.3 1.3l-1.3 -1.3zM451.93 469.46l1.3 1.3l-1.3 1.3l-1.3 -1.3zM452.35 458.82l1.3 1.3l-1.3 1.3l-1.3 -1.3zM452.78 471.96l1.3 1.3l-1.3 1.3l-1.3 -1.3zM452.94 455.54l1.3 1.3l-1.3 1.3l-1.3 -1.3zM453.33 462l1.3 1.3l-1.3 1.3l-1.3 -1.3zM454.18 462.35l1.3 1.3l-1.3 1.3l-1.3 -1.3zM454.67 452.45l1.3 1.3l-1.3 1.3l-1.3 -1.3zM454.91 461.2l1.3 1.3l-1.3 1.3l-1.3 -1.3zM455.32 450.9l1.3 1.3l-1.3 1.3l-1.3 -1.3zM455.53 469.77l1.3 1.3l-1.3 1.3l-1.3 -1.3zM455.82 471.25l1.3 1.3l-1.3 1.3l-1.3 -1.3zM456.65 465.33l1.3 1.3l-1.3 1.3l-1.3 -1.3zM457.11 463.08l1.3 1.3l-1.3 1.3l-1.3 -1.3zM457.23 458.02l1.3 1.3l-1.3 1.3l-1.3 -1.3zM457.6 461.74l1.3 1.3l-1.3 1.3l-1.3 -1.3zM458.03 461.45l1.3 1.3l-1.3 1.3l-1.3 -1.3zM458.66 461.41l1.3 1.3l-1.3 1.3l-1.3 -1.3zM458.75 461.37l1.3 1.3l-1.3 1.3l-1.3 -1.3zM459.2 462.94l1.3 1.3l-1.3 1.3l-1.3 -1.3zM459.53 468.22l1.3 1.3l-1.3 1.3l-1.3 -1.3zM460.43 454.23l1.3 1.3l-1.3 1.3l-1.3 -1.3zM460.57 463.04l1.3 1.3l-1.3 1.3l-1.3 -1.3zM461.28 470.52l1.3 1.3l-1.3 1.3l-1.3 -1.3zM461.33 468.84l1.3 1.3l-1.3 1.3l-1.3 -1.3zM461.91 454.48l1.3 1.3l-1.3 1.3l-1.3 -1.3zM462.34 458.2l1.3 1.3l-1.3 1.3l-1.3 -1.3zM462.87 467.97l1.3 1.3l-1.3 1.3l-1.3 -1.3zM463.15 464.15l1.3 1.3l-1.3 1.3l-1.3 -1.3zM463.64 468.57l1.3 1.3l-1.3 1.3l-1.3 -1.3zM463.74 467.4l1.3 1.3l-1.3 1.3l-1.3 -1.3zM464.13 475.9l1.3 1.3l-1.3 1.3l-1.3 -1.3zM464.62 466.84l1.3 1.3l-1.3 1.3l-1.3 -1.3zM465.35 468l1.3 1.3l-1.3 1.3l-1.3 -1.3zM465.49 463.53l1.3 1.3l-1.3 1.3l-1.3 -1.3zM466.13 459.65l1.3 1.3l-1.3 1.3l-1.3 -1.3zM466.52 451.56l1.3 1.3l-1.3 1.3l-1.3 -1.3zM467.04 460.85l1.3 1.3l-1.3 1.3l-1.3 -1.3zM467.17 459.42l1.3 1.3l-1.3 1.3l-1.3 -1.3zM467.71 459.03l1.3 1.3l-1.3 1.3l-1.3 -1.3zM467.98 457.45l1.3 1.3l-1.3 1.3l-1.3 -1.3zM468.59 452.87l1.3 1.3l-1.3 1.3l-1.3 -1.3zM468.86 453.76l1.3 1.3l-1.3 1.3l-1.3 -1.3zM469.13 460.25l1.3 1.3l-1.3 1.3l-1.3 -1.3zM469.72 446.44l1.3 1.3l-1.3 1.3l-1.3 -1.3zM470.38 439.99l1.3 1.3l-1.3 1.3l-1.3 -1.3zM470.89 444.42l1.3 1.3l-1.3 1.3l-1.3 -1.3zM470.79 427.64l1.3 1.3l-1.3 1.3l-1.3 -1.3zM471.66 423.22l1.3 1.3l-1.3 1.3l-1.3 -1.3zM471.69 428.45l1.3 1.3l-1.3 1.3l-1.3 -1.3zM472.13 418.77l1.3 1.3l-1.3 1.3l-1.3 -1.3zM472.84 418.65l1.3 1.3l-1.3 1.3l-1.3 -1.3zM473.36 415.08l1.3 1.3l-1.3 1.3l-1.3 -1.3zM473.8 418.28l1.3 1.3l-1.3 1.3l-1.3 -1.3zM474.05 414.5l1.3 1.3l-1.3 1.3l-1.3 -1.3zM474.12 401.35l1.3 1.3l-1.3 1.3l-1.3 -1.3zM474.74 404.91l1.3 1.3l-1.3 1.3l-1.3 -1.3zM475.25 410.51l1.3 1.3l-1.3 1.3l-1.3 -1.3zM475.94 392.43l1.3 1.3l-1.3 1.3l-1.3 -1.3zM475.84 400.73l1.3 1.3l-1.3 1.3l-1.3 -1.3zM476.42 391.62l1.3 1.3l-1.3 1.3l-1.3 -1.3zM476.73 390.97l1.3 1.3l-1.3 1.3l-1.3 -1.3zM477.31 377.55l1.3 1.3l-1.3 1.3l-1.3 -1.3zM477.75 372.98l1.3 1.3l-1.3 1.3l-1.3 -1.3zM477.97 377.08l1.3 1.3l-1.3 1.3l-1.3 -1.3zM478.72 371.25l1.3 1.3l-1.3 1.3l-1.3 -1.3zM322.7 377.7l1.3 1.3l-1.3 1.3l-1.3 -1.3zM321.5 381.7l1.3 1.3l-1.3 1.3l-1.3 -1.3zM350.8 369.9l1.3 1.3l-1.3 1.3l-1.3 -1.3zM351.5 374.7l1.3 1.3l-1.3 1.3l-1.3 -1.3zM349.8 378.7l1.3 1.3l-1.3 1.3l-1.3 -1.3zM386.2 381.7l1.3 1.3l-1.3 1.3l-1.3 -1.3zM386.6 387.2l1.3 1.3l-1.3 1.3l-1.3 -1.3zM385.5 390.7l1.3 1.3l-1.3 1.3l-1.3 -1.3zM300.9 381.3l1.3 1.3l-1.3 1.3l-1.3 -1.3zM302 384.2l1.3 1.3l-1.3 1.3l-1.3 -1.3zM298.8 380.2l1.3 1.3l-1.3 1.3l-1.3 -1.3zM344.5 441.5l1.3 1.3l-1.3 1.3l-1.3 -1.3zM339.7 435.3l1.3 1.3l-1.3 1.3l-1.3 -1.3zM359.5 443.7l1.3 1.3l-1.3 1.3l-1.3 -1.3zM359.8 450.7l1.3 1.3l-1.3 1.3l-1.3 -1.3zM436.9 484.2l1.3 1.3l-1.3 1.3l-1.3 -1.3zM403 461.7l1.3 1.3l-1.3 1.3l-1.3 -1.3zM407 465.7l1.3 1.3l-1.3 1.3l-1.3 -1.3zM409.4 467.2l1.3 1.3l-1.3 1.3l-1.3 -1.3z" fill="#2a6591"/>
</svg></body></html>
